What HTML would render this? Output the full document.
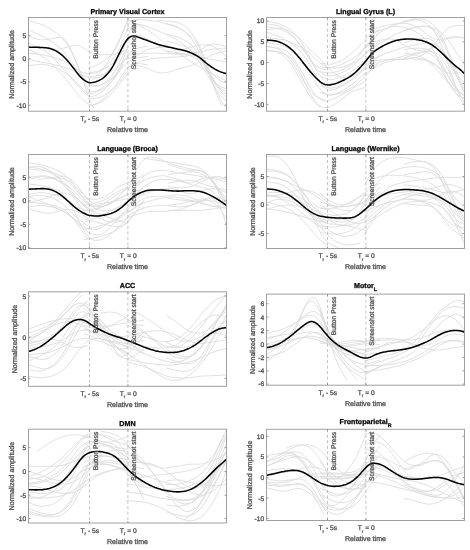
<!DOCTYPE html><html><head><meta charset="utf-8"><style>html,body{margin:0;padding:0;background:#fff;}svg{display:block;filter:blur(0.45px);} text{font-family:"Liberation Sans",sans-serif;text-rendering:geometricPrecision;stroke:#555;stroke-width:0.3px;} text.t{stroke:#111;stroke-width:0.3px;}</style></head><body>
<svg width="470" height="550" viewBox="0 0 470 550">
<rect width="470" height="550" fill="#fff"/>
<clipPath id="c1"><rect x="28.50" y="17.50" width="198.00" height="93.70"/></clipPath>
<g clip-path="url(#c1)">
<path d="M28.0 20.2 L30.0 20.8 L32.0 21.4 L34.0 22.1 L36.0 22.7 L38.0 23.3 L40.0 24.0 L42.0 24.6 L44.0 25.4 L46.0 26.4 L48.0 27.5 L50.0 28.7 L52.0 30.0 L54.0 31.3 L56.0 32.7 L58.0 34.2 L60.0 36.0 L62.0 38.1 L64.0 40.5 L66.0 43.1 L68.0 45.9 L70.0 49.1 L72.0 52.8 L74.0 56.9 L76.0 61.4 L78.0 66.2 L80.0 71.5 L82.0 77.2 L84.0 83.2 L86.0 89.3 L88.0 95.2 L90.0 100.5 L92.0 104.9 L93.8 108.2" fill="none" stroke="#dcdcdc" stroke-width="0.85"/>
<path d="M28.0 36.1 L30.0 36.8 L32.0 37.5 L34.0 38.1 L36.0 38.8 L38.0 39.3 L40.0 39.7 L42.0 39.9 L44.0 39.8 L46.0 39.5 L48.0 39.2 L50.0 38.9 L52.0 38.5 L54.0 38.1 L56.0 37.7 L58.0 37.3 L60.0 37.2 L62.0 37.7 L64.0 38.8 L66.0 40.9 L68.0 43.8 L70.0 47.7 L72.0 52.2 L74.0 57.1 L76.0 62.0 L78.0 66.6 L80.0 71.2 L82.0 75.8 L84.0 80.4 L86.0 85.0 L88.0 89.6 L89.5 93.1" fill="none" stroke="#dcdcdc" stroke-width="0.85"/>
<path d="M28.0 53.2 L30.0 53.3 L32.0 53.5 L34.0 53.7 L36.0 53.8 L38.0 54.1 L40.0 54.3 L42.0 54.7 L44.0 55.1 L46.0 55.6 L48.0 56.0 L50.0 56.6 L52.0 57.1 L54.0 57.7 L56.0 58.3 L58.0 58.9 L60.0 59.6 L62.0 60.3 L64.0 61.1 L66.0 62.1 L68.0 63.3 L70.0 64.7 L72.0 66.2 L74.0 67.7 L76.0 69.1 L78.0 70.3 L80.0 71.3 L82.0 72.2 L84.0 72.9 L86.0 73.5 L88.0 73.8 L90.0 73.7 L92.0 73.5 L94.0 73.1 L96.0 72.6 L98.0 72.0 L100.0 71.1 L102.0 70.1 L104.0 69.0 L106.0 67.9 L108.0 66.7 L110.0 65.4 L112.0 63.8 L114.0 61.7 L116.0 59.2 L118.0 56.3 L120.0 53.2 L122.0 49.8 L124.0 46.1 L126.0 42.2 L128.0 38.3" fill="none" stroke="#dcdcdc" stroke-width="0.85"/>
<path d="M59.9 48.9 L61.9 48.4 L63.9 47.9 L65.9 47.4 L67.9 47.0 L69.9 46.5 L71.9 46.0 L73.9 45.5 L75.9 45.3 L77.9 45.3 L79.9 45.8 L81.9 46.9 L83.9 48.4 L85.9 49.9 L87.9 51.3 L89.9 52.4 L91.9 53.2 L93.9 53.7 L95.9 54.0 L97.9 54.2 L99.9 54.5 L101.9 54.6 L103.9 54.7 L105.9 54.7 L107.9 54.6 L109.9 54.5 L111.9 54.4 L113.9 54.3 L115.9 54.0 L117.9 53.5 L119.9 52.8 L121.9 51.9 L123.9 51.0 L125.9 50.0 L127.9 49.0" fill="none" stroke="#dcdcdc" stroke-width="0.85"/>
<path d="M28.0 59.6 L30.0 59.9 L32.0 60.3 L34.0 60.7 L36.0 61.1 L38.0 61.4 L40.0 61.8 L42.0 62.2 L44.0 62.6 L46.0 63.0 L48.0 63.4 L50.0 63.8 L52.0 64.2 L54.0 64.7 L56.0 65.1 L58.0 65.6 L60.0 66.1 L62.0 66.7 L64.0 67.3 L66.0 68.0 L68.0 68.6 L70.0 69.3 L72.0 70.1 L74.0 71.0 L76.0 71.9 L78.0 72.9 L80.0 73.8 L82.0 74.8 L84.0 75.7 L86.0 76.5 L88.0 77.2 L90.0 77.7 L92.0 78.0 L94.0 78.0 L96.0 77.8 L98.0 77.4 L100.0 76.9 L102.0 76.3 L104.0 75.5 L106.0 74.5 L108.0 73.4 L110.0 72.3 L112.0 71.1 L114.0 69.9 L116.0 68.4 L118.0 66.7 L120.0 64.7 L122.0 62.4 L124.0 60.1 L126.0 57.7 L128.0 55.3" fill="none" stroke="#dcdcdc" stroke-width="0.85"/>
<path d="M28.0 65.9 L30.0 65.7 L32.0 65.4 L34.0 65.1 L36.0 64.8 L38.0 64.5 L40.0 64.3 L42.0 64.3 L44.0 64.4 L46.0 64.8 L48.0 65.3 L50.0 65.8 L52.0 66.4 L54.0 67.0 L56.0 67.7 L58.0 68.6 L60.0 69.7 L62.0 70.9 L64.0 72.2 L66.0 73.6 L68.0 75.0 L70.0 76.5 L72.0 78.2 L74.0 80.1 L76.0 82.0 L78.0 84.0 L80.0 86.0 L82.0 88.0 L84.0 90.0 L86.0 91.8 L88.0 93.2 L90.0 93.9 L92.0 93.7 L94.0 93.0 L96.0 91.9 L98.0 90.7 L100.0 89.3 L102.0 87.8 L104.0 86.3 L106.0 84.6 L108.0 82.9 L110.0 81.2 L112.0 79.2 L114.0 77.0 L116.0 74.5 L118.0 71.8 L120.0 69.0 L122.0 66.3 L123.5 64.2" fill="none" stroke="#dcdcdc" stroke-width="0.85"/>
<path d="M28.0 48.9 L30.0 49.9 L32.0 50.9 L34.0 51.9 L36.0 52.9 L38.0 53.9 L40.0 54.9 L42.0 56.0 L44.0 57.3 L46.0 58.8 L48.0 60.5 L50.0 62.4 L52.0 64.4 L54.0 66.4 L56.0 68.4 L58.0 70.4 L60.0 72.4 L62.0 74.5 L64.0 76.8 L66.0 79.2 L68.0 81.7 L70.0 84.4 L72.0 87.0 L74.0 89.6 L76.0 92.1 L78.0 94.4 L80.0 96.6 L82.0 98.6 L84.0 100.5 L86.0 102.3 L88.0 103.7 L90.0 104.7 L92.0 105.1 L94.0 105.0 L96.0 104.2 L98.0 103.0 L100.0 101.5 L102.0 99.9 L104.0 98.1 L106.0 96.3 L108.0 94.4 L110.0 92.4 L112.0 90.4 L114.0 88.4 L116.0 86.2 L118.0 83.8 L120.0 81.3 L122.0 78.6 L124.0 75.8 L126.0 73.0 L128.0 70.2" fill="none" stroke="#dcdcdc" stroke-width="0.85"/>
<path d="M28.0 42.5 L30.0 43.5 L32.0 44.5 L34.0 45.5 L36.0 46.5 L38.0 47.5 L40.0 48.5 L42.0 49.5 L44.0 50.6 L46.0 51.7 L48.0 52.9 L50.0 54.5 L52.0 56.4 L54.0 58.5 L56.0 60.7 L58.0 63.0 L60.0 65.2 L62.0 67.5 L64.0 69.7 L66.0 72.0 L68.0 74.3 L70.0 76.6 L72.0 79.0 L74.0 81.3 L76.0 83.6 L78.0 85.8 L80.0 88.0 L82.0 90.1 L84.0 92.1 L86.0 93.9 L88.0 95.4 L90.0 96.3 L92.0 96.4 L94.0 96.0 L96.0 95.2 L98.0 94.3 L100.0 93.1 L102.0 91.6 L104.0 89.8 L106.0 87.9 L108.0 85.9 L110.0 83.7 L112.0 81.2 L114.0 78.2 L116.0 74.8 L118.0 70.9 L120.0 66.9 L122.0 62.5 L124.0 57.7 L126.0 52.4 L128.0 46.8" fill="none" stroke="#dcdcdc" stroke-width="0.85"/>
<path d="M91.8 80.8 L93.8 78.8 L95.8 76.8 L97.8 74.8 L99.8 72.8 L101.8 70.6 L103.8 68.1 L105.8 65.2 L107.8 62.0 L109.8 58.4 L111.8 54.8 L113.8 51.0 L115.8 47.2 L117.8 43.1 L119.8 38.7 L121.8 34.1 L123.8 29.4 L125.8 24.5 L127.8 19.6" fill="none" stroke="#dcdcdc" stroke-width="0.85"/>
<path d="M28.0 29.8 L30.0 30.6 L32.0 31.5 L34.0 32.4 L36.0 33.3 L38.0 34.1 L40.0 35.0 L42.0 36.0 L44.0 37.0 L46.0 38.1 L48.0 39.3 L50.0 40.7 L52.0 42.0 L54.0 43.4 L56.0 44.8 L58.0 46.2 L60.0 47.8 L62.0 49.6 L64.0 51.8 L66.0 54.3 L68.0 56.9 L70.0 59.5 L72.0 62.2 L74.0 64.9 L76.0 67.7 L78.0 70.4 L80.0 73.2 L82.0 75.9 L84.0 78.6 L86.0 81.0 L88.0 83.1 L90.0 84.8 L92.0 85.8 L94.0 86.3 L96.0 86.2 L98.0 85.9 L100.0 85.3 L102.0 84.4 L104.0 83.1 L106.0 81.4 L108.0 79.5 L110.0 77.5 L112.0 75.3 L114.0 72.7 L116.0 69.6 L118.0 65.9 L120.0 61.7 L122.0 57.4 L124.0 53.0 L125.8 49.2" fill="none" stroke="#dcdcdc" stroke-width="0.85"/>
<path d="M126.0 21.3 L128.0 20.9 L130.0 20.6 L132.0 20.3 L134.0 19.9 L136.0 19.7 L138.0 19.5 L140.0 19.5 L142.0 19.5 L144.0 19.7 L146.0 19.9 L148.0 20.2 L150.0 20.4 L152.0 20.6 L154.0 20.8 L156.0 21.1 L158.0 21.5 L160.0 22.0 L162.0 22.5 L164.0 23.1 L166.0 23.7 L168.0 24.3 L170.0 24.9 L172.0 25.5 L174.0 26.1 L176.0 26.8 L178.0 27.6 L180.0 28.6 L182.0 29.9 L184.0 31.3 L186.0 32.8 L188.0 34.2 L190.0 35.8 L192.0 37.4 L194.0 39.4 L196.0 42.0 L198.0 45.5 L200.0 49.7 L202.0 54.4 L204.0 59.3 L206.0 64.4 L208.0 69.8 L210.0 75.5 L212.0 81.3 L214.0 87.0 L216.0 92.4 L218.0 97.4 L220.0 102.2 L221.5 105.8" fill="none" stroke="#dcdcdc" stroke-width="0.85"/>
<path d="M126.0 29.8 L128.0 28.8 L130.0 27.8 L132.0 26.8 L134.0 25.8 L136.0 25.0 L138.0 24.5 L140.0 24.4 L142.0 24.8 L144.0 25.4 L146.0 26.1 L148.0 26.8 L150.0 27.6 L152.0 28.4 L154.0 29.1 L156.0 29.9 L158.0 30.8 L160.0 31.6 L162.0 32.5 L164.0 33.4 L166.0 34.3 L168.0 35.2 L170.0 36.1 L172.0 37.0 L174.0 38.1 L176.0 39.2 L178.0 40.5 L180.0 41.9 L182.0 43.3 L184.0 44.8 L186.0 46.3 L188.0 47.9 L190.0 49.9 L192.0 52.2 L194.0 54.8 L196.0 57.6 L198.0 60.4 L200.0 63.3 L202.0 66.4 L204.0 69.5 L206.0 72.7 L208.0 76.0 L210.0 79.3 L212.0 82.9 L214.0 86.7 L216.0 90.6 L218.0 94.4 L220.0 98.2 L222.0 101.7 L224.0 105.1 L226.0 108.5" fill="none" stroke="#dcdcdc" stroke-width="0.85"/>
<path d="M126.0 59.6 L128.0 59.0 L130.0 58.5 L132.0 57.9 L134.0 57.2 L136.0 56.2 L138.0 55.0 L140.0 53.8 L142.0 52.5 L144.0 51.2 L146.0 50.1 L148.0 49.3 L150.0 48.7 L152.0 48.4 L154.0 48.1 L156.0 47.8 L158.0 47.6 L160.0 47.3 L162.0 47.2 L164.0 47.1 L166.0 47.1 L168.0 47.3 L170.0 47.5 L172.0 47.8 L174.0 48.0 L176.0 48.3 L178.0 48.5 L180.0 48.9 L182.0 49.3 L184.0 49.9 L186.0 50.5 L188.0 51.2 L190.0 51.9 L192.0 52.8 L194.0 53.9 L196.0 55.4 L198.0 57.2 L200.0 59.2 L202.0 61.3 L204.0 63.6 L206.0 66.0 L208.0 68.4 L210.0 70.8 L212.0 73.0 L214.0 75.1 L216.0 77.1 L218.0 78.8 L220.0 80.3 L222.0 81.4 L224.0 82.2 L226.0 83.0" fill="none" stroke="#dcdcdc" stroke-width="0.85"/>
<path d="M126.0 68.1 L128.0 67.1 L130.0 66.1 L132.0 65.1 L134.0 64.1 L136.0 63.1 L138.0 62.3 L140.0 61.5 L142.0 60.9 L144.0 60.4 L146.0 59.9 L148.0 59.4 L150.0 59.0 L152.0 58.6 L154.0 58.4 L156.0 58.2 L158.0 58.1 L160.0 58.0 L162.0 57.8 L164.0 57.7 L166.0 57.6 L168.0 57.5 L170.0 57.3 L172.0 57.2 L174.0 57.1 L176.0 57.0 L178.0 56.8 L180.0 56.7 L182.0 56.6 L184.0 56.4 L186.0 56.1 L188.0 55.8 L190.0 55.4 L192.0 55.0 L194.0 54.4 L196.0 53.5 L198.0 52.3 L200.0 50.7 L202.0 49.1 L204.0 47.4 L206.0 46.1 L208.0 45.1 L210.0 44.5 L212.0 44.1 L214.0 44.0 L216.0 44.2 L218.0 44.5 L220.0 45.0 L222.0 45.6 L224.0 46.2 L226.0 46.8" fill="none" stroke="#dcdcdc" stroke-width="0.85"/>
<path d="M132.4 63.8 L134.4 64.4 L136.4 65.0 L138.4 65.5 L140.4 66.1 L142.4 66.7 L144.4 67.3 L146.4 68.0 L148.4 68.8 L150.4 69.7 L152.4 70.6 L154.4 71.5 L156.4 72.3 L158.4 72.8 L160.4 72.9 L162.4 72.9 L164.4 72.7 L166.4 72.4 L168.4 72.1 L170.4 71.6 L172.4 71.0 L174.4 70.4 L176.4 69.7 L178.4 69.1 L180.4 68.4 L182.4 67.9 L184.4 67.3 L186.4 66.8 L188.4 66.3 L190.4 65.7 L192.4 65.1 L194.4 64.3 L196.4 63.3 L198.4 62.2 L200.4 61.0 L202.4 59.8 L204.4 58.7 L206.4 57.7 L208.4 56.7 L210.4 55.7 L212.4 54.7 L214.4 53.9 L216.4 53.2 L218.4 52.6 L220.4 52.2 L222.4 51.8 L224.4 51.4 L225.9 51.1" fill="none" stroke="#dcdcdc" stroke-width="0.85"/>
<path d="M136.6 23.4 L138.6 24.6 L140.6 25.9 L142.6 27.1 L144.6 28.4 L146.6 29.6 L148.6 30.9 L150.6 32.2 L152.6 33.6 L154.6 35.0 L156.6 36.6 L158.6 38.3 L160.6 40.0 L162.6 41.7 L164.6 43.4 L166.6 45.1 L168.6 46.6 L170.6 48.1 L172.6 49.5 L174.6 50.8 L176.6 52.2 L178.6 53.5 L180.6 54.8 L182.6 56.2 L184.6 57.5 L186.6 58.8 L188.6 60.2 L190.6 61.5 L192.6 62.8 L194.6 64.1 L196.6 65.3 L198.6 66.5 L200.6 67.7 L202.6 68.9 L204.6 70.0 L206.6 71.1 L208.6 72.1 L210.6 73.1 L212.6 74.1 L214.6 75.1 L216.6 76.1 L218.6 77.1 L220.6 78.1 L222.6 79.1 L224.6 80.1 L225.9 80.8" fill="none" stroke="#dcdcdc" stroke-width="0.85"/>
<path d="M126.0 38.3 L128.0 37.6 L130.0 36.9 L132.0 36.3 L134.0 35.7 L136.0 35.2 L138.0 35.0 L140.0 35.3 L142.0 36.1 L144.0 37.1 L146.0 38.2 L148.0 39.3 L150.0 40.5 L152.0 41.7 L154.0 42.9 L156.0 44.3 L158.0 45.6 L160.0 47.1 L162.0 48.5 L164.0 49.9 L166.0 51.1 L168.0 52.2 L170.0 52.9 L172.0 53.3 L174.0 53.5 L176.0 53.6 L178.0 53.8 L180.0 53.9 L182.0 54.0 L184.0 54.0 L186.0 54.0 L188.0 53.8 L190.0 53.6 L192.0 53.3 L194.0 53.0 L196.0 52.7 L198.0 52.4 L200.0 52.0 L202.0 51.6 L204.0 51.0 L206.0 50.5 L208.0 49.9 L210.0 49.5 L212.0 49.2 L214.0 49.0 L216.0 48.9 L218.0 48.9 L220.0 48.9 L222.0 48.9 L224.0 48.9 L226.0 48.9" fill="none" stroke="#dcdcdc" stroke-width="0.85"/>
<path d="M157.9 20.2 L159.9 20.4 L161.9 20.6 L163.9 20.8 L165.9 21.0 L167.9 21.2 L169.9 21.4 L171.9 21.6 L173.9 21.8 L175.9 22.1 L177.9 22.6 L179.9 23.3 L181.9 24.4 L183.9 25.7 L185.9 27.2 L187.9 28.9 L189.9 30.9 L191.9 33.5 L193.9 36.4 L195.9 39.6 L197.9 43.1 L199.9 47.0 L201.9 51.5 L203.9 56.4 L205.9 61.6 L207.9 66.7 L209.9 71.5 L211.9 75.8 L213.9 79.8 L215.9 83.2 L217.9 85.9 L219.9 87.9 L221.9 89.3 L223.9 90.4 L225.9 91.4" fill="none" stroke="#dcdcdc" stroke-width="0.85"/>
<path d="M126.0 55.3 L128.0 55.0 L130.0 54.8 L132.0 54.5 L134.0 54.3 L136.0 54.0 L138.0 53.8 L140.0 53.6 L142.0 53.4 L144.0 53.3 L146.0 53.2 L148.0 53.2 L150.0 53.2 L152.0 53.2 L154.0 53.2 L156.0 53.2 L158.0 53.2 L160.0 53.2 L162.0 53.3 L164.0 53.4 L166.0 53.5 L168.0 53.6 L170.0 53.7 L172.0 53.8 L174.0 53.9 L176.0 54.1 L178.0 54.2 L180.0 54.4 L182.0 54.6 L184.0 54.8 L186.0 55.0 L188.0 55.2 L190.0 55.4 L192.0 55.7 L194.0 55.9 L196.0 56.2 L198.0 56.5 L200.0 56.9 L202.0 57.3 L204.0 57.8 L206.0 58.3 L208.0 58.8 L210.0 59.2 L212.0 59.6 L214.0 59.9 L216.0 60.2 L218.0 60.5 L220.0 60.8 L222.0 61.1 L224.0 61.4 L226.0 61.7" fill="none" stroke="#dcdcdc" stroke-width="0.85"/>
<path d="M88.0 68.3 L90.0 67.6 L92.0 66.9 L94.0 66.2 L96.0 65.5 L98.0 64.6 L100.0 63.5 L102.0 62.3 L104.0 61.0 L106.0 59.5 L108.0 57.9 L110.0 55.9 L112.0 53.7 L114.0 51.1 L116.0 47.9 L118.0 44.1 L120.0 39.5 L122.0 34.4 L124.0 29.3 L126.0 24.7 L128.0 20.6 L129.0 18.7" fill="none" stroke="#dcdcdc" stroke-width="0.85"/>
<path d="M88.0 73.4 L90.0 72.9 L92.0 72.4 L94.0 71.9 L96.0 71.4 L98.0 70.8 L100.0 70.1 L102.0 69.1 L104.0 67.8 L106.0 66.3 L108.0 64.6 L110.0 62.7 L112.0 60.6 L114.0 58.0 L116.0 55.0 L118.0 51.6 L120.0 47.6 L122.0 43.0 L124.0 37.8 L126.0 32.3 L128.0 27.0 L130.0 22.1 L130.5 20.9" fill="none" stroke="#dcdcdc" stroke-width="0.85"/>
<path d="M88.0 76.8 L90.0 76.6 L92.0 76.4 L94.0 76.2 L96.0 75.9 L98.0 75.7 L100.0 75.4 L102.0 74.8 L104.0 73.9 L106.0 72.7 L108.0 71.2 L110.0 69.5 L112.0 67.6 L114.0 65.3 L116.0 62.7 L118.0 59.6 L120.0 55.9 L122.0 51.5 L124.0 46.6 L126.0 41.3 L128.0 36.1 L130.0 31.1 L132.0 26.5 L132.2 25.9" fill="none" stroke="#dcdcdc" stroke-width="0.85"/>
<path d="M88.0 85.4 L90.0 85.4 L92.0 85.4 L94.0 85.4 L96.0 85.4 L98.0 85.3 L100.0 85.0 L102.0 84.5 L104.0 83.6 L106.0 82.4 L108.0 81.1 L110.0 79.6 L112.0 77.8 L114.0 75.8 L116.0 73.5 L118.0 71.0 L120.0 68.1 L122.0 64.9 L124.0 61.5 L126.0 58.2 L128.0 55.3 L130.0 53.0 L132.0 51.1 L134.0 49.8 L136.0 48.8 L138.0 48.0 L140.0 47.5 L142.0 47.1 L144.0 46.7 L146.0 46.4 L148.0 46.1" fill="none" stroke="#dcdcdc" stroke-width="0.85"/>
<path d="M88.0 92.2 L90.0 92.0 L92.0 91.7 L94.0 91.5 L96.0 91.2 L98.0 90.9 L100.0 90.3 L102.0 89.5 L104.0 88.3 L106.0 86.8 L108.0 85.1 L110.0 83.3 L112.0 81.2 L114.0 78.8 L116.0 76.2 L118.0 73.5 L120.0 70.8 L122.0 68.2 L124.0 65.8 L126.0 63.6 L128.0 61.9 L130.0 60.6 L132.0 59.7 L134.0 58.9 L136.0 58.3 L138.0 57.8 L140.0 57.5 L142.0 57.2 L144.0 56.9 L146.0 56.6 L148.0 56.3" fill="none" stroke="#dcdcdc" stroke-width="0.85"/>
<path d="M88.0 99.1 L90.0 98.8 L92.0 98.6 L94.0 98.3 L96.0 98.0 L98.0 97.7 L100.0 97.2 L102.0 96.5 L104.0 95.5 L106.0 94.2 L108.0 92.8 L110.0 91.2 L112.0 89.5 L114.0 87.3 L116.0 84.7 L118.0 81.7 L120.0 78.6 L122.0 75.5 L124.0 72.5 L126.0 69.7 L128.0 67.4 L130.0 65.7 L132.0 64.6 L134.0 64.0 L136.0 63.7 L138.0 63.6 L140.0 63.7 L142.0 63.9 L144.0 64.2 L146.0 64.5 L148.0 64.9" fill="none" stroke="#dcdcdc" stroke-width="0.85"/>
<path d="M88.0 105.9 L90.0 105.4 L92.0 104.9 L94.0 104.4 L96.0 103.9 L98.0 103.3 L100.0 102.6 L102.0 101.6 L104.0 100.2 L106.0 98.7 L108.0 97.0 L110.0 95.3 L112.0 93.4 L114.0 91.2 L116.0 88.9 L118.0 86.4 L120.0 83.7 L122.0 81.1 L124.0 78.5 L126.0 76.0 L128.0 73.7 L130.0 71.8 L132.0 70.4 L134.0 69.6 L136.0 69.0 L138.0 68.5 L139.2 68.3" fill="none" stroke="#dcdcdc" stroke-width="0.85"/>
<path d="M166.0 23.8 L168.0 24.2 L170.0 24.5 L172.0 24.9 L174.0 25.4 L176.0 26.0 L178.0 27.0 L180.0 28.1 L182.0 29.4 L184.0 30.9 L186.0 32.7 L188.0 34.8 L190.0 37.2 L192.0 39.8 L194.0 42.6 L196.0 45.8 L198.0 49.5 L200.0 53.6 L202.0 58.0 L204.0 62.7 L206.0 67.5 L208.0 72.3 L210.0 76.9 L212.0 81.3 L214.0 85.4 L216.0 89.0 L218.0 92.0 L220.0 94.6 L222.0 96.8 L224.0 98.8 L226.0 100.8" fill="none" stroke="#dcdcdc" stroke-width="0.85"/>
<path d="M166.0 34.1 L168.0 34.6 L170.0 35.1 L172.0 35.6 L174.0 36.1 L176.0 36.6 L178.0 37.3 L180.0 38.0 L182.0 39.0 L184.0 40.0 L186.0 41.2 L188.0 42.4 L190.0 43.9 L192.0 45.7 L194.0 48.0 L196.0 50.6 L198.0 53.5 L200.0 56.7 L202.0 60.2 L204.0 64.0 L206.0 67.8 L208.0 71.5 L210.0 75.1 L212.0 78.4 L214.0 81.6 L216.0 84.4 L218.0 86.9 L220.0 89.1 L222.0 90.9 L224.0 92.5 L226.0 93.9" fill="none" stroke="#dcdcdc" stroke-width="0.85"/>
<path d="M166.0 40.9 L168.0 41.4 L170.0 41.9 L172.0 42.4 L174.0 42.9 L176.0 43.5 L178.0 44.0 L180.0 44.7 L182.0 45.4 L184.0 46.2 L186.0 47.1 L188.0 48.0 L190.0 49.1 L192.0 50.4 L194.0 52.1 L196.0 53.9 L198.0 56.0 L200.0 58.3 L202.0 61.1 L204.0 64.3 L206.0 68.0 L208.0 71.7 L210.0 75.4 L212.0 79.0 L214.0 82.3 L216.0 85.4 L218.0 88.2 L220.0 90.8 L222.0 93.1 L224.0 95.3 L226.0 97.3" fill="none" stroke="#dcdcdc" stroke-width="0.85"/>
<path d="M166.0 51.2 L168.0 51.4 L170.0 51.7 L172.0 51.9 L174.0 52.2 L176.0 52.5 L178.0 52.8 L180.0 53.1 L182.0 53.5 L184.0 54.0 L186.0 54.5 L188.0 55.0 L190.0 55.6 L192.0 56.4 L194.0 57.4 L196.0 58.7 L198.0 60.3 L200.0 62.0 L202.0 64.0 L204.0 66.5 L206.0 69.3 L208.0 72.5 L210.0 75.6 L212.0 78.4 L214.0 81.0 L216.0 83.2 L218.0 84.9 L220.0 86.2 L222.0 87.2 L224.0 88.0 L226.0 88.8" fill="none" stroke="#dcdcdc" stroke-width="0.85"/>
<path d="M183.1 49.5 L185.1 48.9 L187.1 48.3 L189.1 47.8 L191.1 47.2 L193.1 46.7 L195.1 46.2 L197.1 45.8 L199.1 45.4 L201.1 45.1 L203.1 44.9 L205.1 44.8 L207.1 44.9 L209.1 45.2 L211.1 45.7 L213.1 46.4 L215.1 47.4 L217.1 48.6 L219.1 50.1 L221.1 51.8 L223.1 53.6 L225.1 55.5 L225.8 56.2" fill="none" stroke="#dcdcdc" stroke-width="0.85"/>
<line x1="89.50" y1="17.50" x2="89.50" y2="111.20" stroke="#bdbdbd" stroke-width="0.9" stroke-dasharray="3 2.5"/>
<line x1="127.90" y1="17.50" x2="127.90" y2="111.20" stroke="#bdbdbd" stroke-width="0.9" stroke-dasharray="3 2.5"/>
<path d="M28.00 47.10 L29.00 47.12 L30.00 47.15 L31.00 47.17 L32.00 47.19 L33.00 47.22 L34.00 47.24 L35.00 47.26 L36.00 47.29 L37.00 47.31 L38.00 47.34 L39.00 47.36 L40.00 47.40 L41.00 47.45 L42.00 47.51 L43.00 47.58 L44.00 47.65 L45.00 47.73 L46.00 47.82 L47.00 47.93 L48.00 48.08 L49.00 48.29 L50.00 48.56 L51.00 48.86 L52.00 49.19 L53.00 49.54 L54.00 49.94 L55.00 50.40 L56.00 50.93 L57.00 51.53 L58.00 52.16 L59.00 52.81 L60.00 53.50 L61.00 54.26 L62.00 55.10 L63.00 56.01 L64.00 56.97 L65.00 57.95 L66.00 58.97 L67.00 60.03 L68.00 61.16 L69.00 62.37 L70.00 63.63 L71.00 64.91 L72.00 66.21 L73.00 67.50 L74.00 68.80 L75.00 70.10 L76.00 71.39 L77.00 72.69 L78.00 73.97 L79.00 75.20 L80.00 76.36 L81.00 77.41 L82.00 78.35 L83.00 79.21 L84.00 79.99 L85.00 80.70 L86.00 81.29 L87.00 81.78 L88.00 82.17 L89.00 82.46 L90.00 82.62 L91.00 82.65 L92.00 82.56 L93.00 82.40 L94.00 82.19 L95.00 81.96 L96.00 81.68 L97.00 81.33 L98.00 80.91 L99.00 80.44 L100.00 79.94 L101.00 79.40 L102.00 78.81 L103.00 78.10 L104.00 77.28 L105.00 76.36 L106.00 75.36 L107.00 74.30 L108.00 73.16 L109.00 71.93 L110.00 70.61 L111.00 69.22 L112.00 67.72 L113.00 66.06 L114.00 64.21 L115.00 62.19 L116.00 60.11 L117.00 58.02 L118.00 55.98 L119.00 53.97 L120.00 51.98 L121.00 49.99 L122.00 48.02 L123.00 46.09 L124.00 44.25 L125.00 42.57 L126.00 41.07 L127.00 39.75 L128.00 38.62 L129.00 37.72 L130.00 37.03 L131.00 36.53 L132.00 36.21 L133.00 36.08 L134.00 36.11 L135.00 36.26 L136.00 36.50 L137.00 36.79 L138.00 37.12 L139.00 37.48 L140.00 37.85 L141.00 38.21 L142.00 38.57 L143.00 38.92 L144.00 39.27 L145.00 39.62 L146.00 39.98 L147.00 40.35 L148.00 40.73 L149.00 41.12 L150.00 41.51 L151.00 41.89 L152.00 42.27 L153.00 42.64 L154.00 43.00 L155.00 43.35 L156.00 43.70 L157.00 44.04 L158.00 44.37 L159.00 44.69 L160.00 44.99 L161.00 45.28 L162.00 45.55 L163.00 45.82 L164.00 46.08 L165.00 46.33 L166.00 46.56 L167.00 46.77 L168.00 46.97 L169.00 47.16 L170.00 47.35 L171.00 47.55 L172.00 47.76 L173.00 47.99 L174.00 48.23 L175.00 48.48 L176.00 48.72 L177.00 48.96 L178.00 49.19 L179.00 49.41 L180.00 49.61 L181.00 49.81 L182.00 50.00 L183.00 50.20 L184.00 50.43 L185.00 50.69 L186.00 51.00 L187.00 51.34 L188.00 51.69 L189.00 52.06 L190.00 52.44 L191.00 52.85 L192.00 53.30 L193.00 53.78 L194.00 54.29 L195.00 54.80 L196.00 55.34 L197.00 55.89 L198.00 56.47 L199.00 57.11 L200.00 57.80 L201.00 58.58 L202.00 59.42 L203.00 60.30 L204.00 61.19 L205.00 62.07 L206.00 62.93 L207.00 63.74 L208.00 64.50 L209.00 65.22 L210.00 65.92 L211.00 66.60 L212.00 67.28 L213.00 67.94 L214.00 68.57 L215.00 69.16 L216.00 69.70 L217.00 70.20 L218.00 70.69 L219.00 71.16 L220.00 71.60 L221.00 71.99 L222.00 72.33 L223.00 72.62 L224.00 72.89 L225.00 73.14 L226.00 73.40" fill="none" stroke="#000" stroke-width="1.55" stroke-linejoin="round" stroke-linecap="round"/>
</g>
<rect x="28.50" y="17.50" width="198.00" height="93.70" fill="none" stroke="#a0a0a0" stroke-width="1.00"/>
<line x1="28.50" y1="35.60" x2="30.50" y2="35.60" stroke="#888" stroke-width="0.8"/>
<line x1="224.50" y1="35.60" x2="226.50" y2="35.60" stroke="#888" stroke-width="0.8"/>
<text x="26.20" y="38.00" font-size="6.70" fill="#444" text-anchor="end">5</text>
<line x1="28.50" y1="58.80" x2="30.50" y2="58.80" stroke="#888" stroke-width="0.8"/>
<line x1="224.50" y1="58.80" x2="226.50" y2="58.80" stroke="#888" stroke-width="0.8"/>
<text x="26.20" y="61.20" font-size="6.70" fill="#444" text-anchor="end">0</text>
<line x1="28.50" y1="82.00" x2="30.50" y2="82.00" stroke="#888" stroke-width="0.8"/>
<line x1="224.50" y1="82.00" x2="226.50" y2="82.00" stroke="#888" stroke-width="0.8"/>
<text x="26.20" y="84.40" font-size="6.70" fill="#444" text-anchor="end">-5</text>
<line x1="28.50" y1="105.20" x2="30.50" y2="105.20" stroke="#888" stroke-width="0.8"/>
<line x1="224.50" y1="105.20" x2="226.50" y2="105.20" stroke="#888" stroke-width="0.8"/>
<text x="26.20" y="107.60" font-size="6.70" fill="#444" text-anchor="end">-10</text>
<line x1="89.50" y1="109.20" x2="89.50" y2="111.20" stroke="#888" stroke-width="0.8"/>
<line x1="89.50" y1="17.50" x2="89.50" y2="19.50" stroke="#888" stroke-width="0.8"/>
<line x1="127.90" y1="109.20" x2="127.90" y2="111.20" stroke="#888" stroke-width="0.8"/>
<line x1="127.90" y1="17.50" x2="127.90" y2="19.50" stroke="#888" stroke-width="0.8"/>
<text x="89.80" y="120.90" font-size="6.70" fill="#444" text-anchor="middle">T<tspan font-size="4.4" dy="2.3">r</tspan><tspan dy="-2.3"> - 5s</tspan></text>
<text x="128.20" y="120.90" font-size="6.70" fill="#444" text-anchor="middle">T<tspan font-size="4.4" dy="2.3">r</tspan><tspan dy="-2.3"> = 0</tspan></text>
<text x="127.50" y="132.10" font-size="7.10" fill="#444" text-anchor="middle">Relative time</text>
<text transform="translate(13.50 64.35) rotate(-90)" font-size="7.10" fill="#444" text-anchor="middle">Normalized amplitude</text>
<text transform="translate(97.80 20.00) rotate(-90)" font-size="6.75" fill="#444" text-anchor="end">Button Press</text>
<text transform="translate(136.20 20.00) rotate(-90)" font-size="6.75" fill="#444" text-anchor="end">Screenshot start</text>
<text x="127.50" y="14.00" font-size="7.15" font-weight="bold" class="t" fill="#000" text-anchor="middle">Primary Visual Cortex</text>
<clipPath id="c2"><rect x="266.50" y="17.50" width="198.00" height="93.70"/></clipPath>
<g clip-path="url(#c2)">
<path d="M266.0 21.3 L268.0 21.6 L270.0 21.9 L272.0 22.3 L274.0 22.6 L276.0 23.0 L278.0 23.5 L280.0 24.2 L282.0 25.1 L284.0 26.0 L286.0 27.0 L288.0 28.1 L290.0 29.4 L292.0 31.0 L294.0 33.0 L296.0 35.2 L298.0 37.6 L300.0 40.3 L302.0 43.2 L304.0 46.6 L306.0 50.3 L308.0 54.1 L310.0 57.8 L312.0 61.2 L314.0 64.4 L316.0 67.3 L318.0 69.8 L320.0 71.9 L322.0 73.4 L324.0 74.5 L326.0 75.3 L328.0 75.8 L330.0 75.8 L332.0 75.6 L334.0 75.3 L336.0 74.8 L338.0 74.2 L340.0 73.5 L342.0 72.6 L344.0 71.6 L346.0 70.6 L348.0 69.5 L350.0 68.3 L352.0 66.8 L354.0 65.0 L356.0 63.1 L358.0 61.2 L360.0 59.2 L362.0 57.2 L364.0 55.2 L366.0 53.2" fill="none" stroke="#dcdcdc" stroke-width="0.85"/>
<path d="M266.0 26.6 L268.0 26.9 L270.0 27.3 L272.0 27.7 L274.0 28.1 L276.0 28.5 L278.0 28.9 L280.0 29.3 L282.0 29.9 L284.0 30.8 L286.0 31.9 L288.0 33.1 L290.0 34.4 L292.0 35.9 L294.0 37.5 L296.0 39.4 L298.0 41.7 L300.0 44.3 L302.0 47.0 L304.0 49.9 L306.0 52.9 L308.0 56.1 L310.0 59.5 L312.0 62.9 L314.0 66.2 L316.0 69.5 L318.0 72.6 L320.0 75.5 L322.0 78.1 L324.0 80.4 L326.0 82.1 L328.0 83.3 L330.0 83.8 L332.0 83.8 L334.0 83.3 L336.0 82.6 L338.0 81.8 L340.0 80.8 L342.0 79.9 L344.0 78.8 L346.0 77.7 L348.0 76.5 L350.0 75.4 L352.0 74.1 L354.0 72.7 L356.0 71.0 L358.0 69.0 L360.0 66.7 L362.0 64.3 L364.0 62.0 L366.0 59.6" fill="none" stroke="#dcdcdc" stroke-width="0.85"/>
<path d="M266.0 31.9 L268.0 32.6 L270.0 33.2 L272.0 33.9 L274.0 34.6 L276.0 35.3 L278.0 36.1 L280.0 37.0 L282.0 38.0 L284.0 39.2 L286.0 40.3 L288.0 41.4 L290.0 42.6 L292.0 43.9 L294.0 45.4 L296.0 47.2 L298.0 49.1 L300.0 51.1 L302.0 53.3 L304.0 55.8 L306.0 58.7 L308.0 61.9 L310.0 65.3 L312.0 68.8 L314.0 72.3 L316.0 75.7 L318.0 79.1 L320.0 82.3 L322.0 85.1 L324.0 87.3 L326.0 89.0 L328.0 90.0 L330.0 90.2 L332.0 89.9 L334.0 89.3 L336.0 88.7 L338.0 87.9 L340.0 87.0 L342.0 86.0 L344.0 84.8 L346.0 83.5 L348.0 82.2 L350.0 80.8 L352.0 79.4 L354.0 77.9 L356.0 76.3 L358.0 74.7 L360.0 73.1 L362.0 71.4 L364.0 69.7 L366.0 68.1" fill="none" stroke="#dcdcdc" stroke-width="0.85"/>
<path d="M266.0 42.5 L268.0 42.8 L270.0 43.1 L272.0 43.4 L274.0 43.7 L276.0 44.0 L278.0 44.3 L280.0 44.8 L282.0 45.5 L284.0 46.3 L286.0 47.2 L288.0 48.2 L290.0 49.3 L292.0 50.6 L294.0 52.2 L296.0 54.1 L298.0 56.3 L300.0 58.7 L302.0 61.3 L304.0 64.0 L306.0 67.1 L308.0 70.4 L310.0 73.7 L312.0 77.1 L314.0 80.3 L316.0 83.4 L318.0 86.3 L320.0 88.9 L322.0 91.2 L324.0 92.9 L326.0 94.1 L328.0 94.7 L330.0 94.9 L332.0 94.8 L334.0 94.4 L336.0 93.9 L338.0 93.2 L340.0 92.2 L342.0 91.1 L344.0 89.8 L346.0 88.5 L348.0 87.1 L350.0 85.7 L352.0 84.2 L354.0 82.6 L356.0 80.9 L358.0 79.2 L360.0 77.5 L362.0 75.7 L364.0 74.0 L366.0 72.3" fill="none" stroke="#dcdcdc" stroke-width="0.85"/>
<path d="M266.0 46.8 L268.0 47.0 L270.0 47.1 L272.0 47.3 L274.0 47.5 L276.0 47.7 L278.0 48.1 L280.0 48.6 L282.0 49.2 L284.0 50.0 L286.0 51.0 L288.0 52.2 L290.0 54.0 L292.0 56.4 L294.0 59.1 L296.0 62.1 L298.0 65.2 L300.0 68.6 L302.0 72.2 L304.0 76.0 L306.0 79.8 L308.0 83.5 L310.0 86.9 L312.0 90.1 L314.0 93.0 L316.0 95.5 L318.0 97.5 L320.0 99.0 L322.0 100.1 L324.0 100.8 L326.0 101.0 L328.0 100.8 L330.0 100.2 L332.0 99.5 L334.0 98.7 L336.0 97.7 L338.0 96.7 L340.0 95.7 L342.0 94.5 L344.0 93.4 L346.0 92.3 L348.0 91.1 L350.0 90.0 L352.0 88.8 L354.0 87.7 L356.0 86.5 L358.0 85.4 L360.0 84.3 L362.0 83.1 L364.0 82.0 L366.0 80.8" fill="none" stroke="#dcdcdc" stroke-width="0.85"/>
<path d="M266.0 50.0 L268.0 50.3 L270.0 50.6 L272.0 50.8 L274.0 51.1 L276.0 51.4 L278.0 51.8 L280.0 52.3 L282.0 53.1 L284.0 54.0 L286.0 55.1 L288.0 56.3 L290.0 57.6 L292.0 59.4 L294.0 61.7 L296.0 64.8 L298.0 68.4 L300.0 72.4 L302.0 76.5 L304.0 80.8 L306.0 85.2 L308.0 89.4 L310.0 93.3 L312.0 96.7 L314.0 99.6 L316.0 102.1 L318.0 104.2 L320.0 105.7 L322.0 106.8 L324.0 107.4 L326.0 107.6 L328.0 107.4 L330.0 106.8 L332.0 105.8 L334.0 104.7 L336.0 103.4 L338.0 102.1 L340.0 100.6 L342.0 99.0 L344.0 97.4 L346.0 95.8 L348.0 94.2 L350.0 92.8 L352.0 91.7 L354.0 90.8 L356.0 90.1 L358.0 89.5 L360.0 88.9 L362.0 88.4 L364.0 87.8 L366.0 87.2" fill="none" stroke="#dcdcdc" stroke-width="0.85"/>
<path d="M266.0 37.2 L268.0 37.5 L270.0 37.8 L272.0 38.1 L274.0 38.4 L276.0 38.7 L278.0 39.0 L280.0 39.3 L282.0 39.6 L284.0 40.0 L286.0 40.4 L288.0 41.1 L290.0 41.9 L292.0 42.8 L294.0 43.8 L296.0 44.8 L298.0 45.8 L300.0 46.8 L302.0 47.8 L304.0 48.8 L306.0 50.0 L308.0 51.5 L310.0 53.3 L312.0 55.5 L314.0 57.7 L316.0 59.9 L318.0 61.7 L320.0 63.3 L322.0 64.6 L324.0 65.7 L326.0 66.7 L328.0 67.4 L330.0 67.8 L332.0 68.0 L334.0 68.0 L336.0 68.0 L338.0 67.9 L340.0 67.6 L342.0 67.2 L344.0 66.5 L346.0 65.7 L348.0 64.8 L350.0 63.9 L352.0 62.9 L354.0 61.5 L356.0 59.6 L358.0 57.1 L360.0 54.2 L362.0 51.0 L364.0 47.9 L366.0 44.7" fill="none" stroke="#dcdcdc" stroke-width="0.85"/>
<path d="M266.0 29.8 L268.0 29.5 L270.0 29.3 L272.0 29.0 L274.0 28.8 L276.0 28.5 L278.0 28.3 L280.0 28.2 L282.0 28.3 L284.0 28.7 L286.0 29.5 L288.0 30.5 L290.0 31.6 L292.0 32.8 L294.0 34.0 L296.0 35.4 L298.0 37.0 L300.0 38.9 L302.0 41.1 L304.0 43.4 L306.0 45.7 L308.0 47.9 L310.0 49.8 L312.0 51.6 L314.0 53.3 L316.0 55.0 L318.0 56.8 L320.0 58.8 L322.0 61.0 L324.0 63.4 L326.0 65.7 L328.0 67.8 L330.0 69.7 L332.0 71.4 L334.0 73.0 L336.0 74.5 L338.0 75.7 L340.0 76.6 L342.0 77.2 L344.0 77.6 L346.0 77.9 L348.0 77.9 L350.0 77.5 L352.0 76.7 L354.0 75.6 L356.0 74.4 L358.0 73.1 L360.0 71.5 L362.0 69.8 L364.0 67.9 L366.0 65.9" fill="none" stroke="#dcdcdc" stroke-width="0.85"/>
<path d="M364.0 48.9 L366.0 46.6 L368.0 44.2 L370.0 41.9 L372.0 39.6 L374.0 37.4 L376.0 35.4 L378.0 33.7 L380.0 32.3 L382.0 31.1 L384.0 29.9 L386.0 28.8 L388.0 27.6 L390.0 26.6 L392.0 25.7 L394.0 24.9 L396.0 24.3 L398.0 23.7 L400.0 23.1 L402.0 22.6 L404.0 22.0 L406.0 21.4 L408.0 20.7 L410.0 20.1 L412.0 19.4 L414.0 18.8 L416.0 18.1 L418.0 17.4 L419.2 17.0" fill="none" stroke="#dcdcdc" stroke-width="0.85"/>
<path d="M364.0 55.3 L366.0 53.8 L368.0 52.3 L370.0 50.8 L372.0 49.3 L374.0 47.8 L376.0 46.3 L378.0 44.8 L380.0 43.4 L382.0 42.1 L384.0 40.9 L386.0 39.7 L388.0 38.5 L390.0 37.4 L392.0 36.3 L394.0 35.2 L396.0 34.2 L398.0 33.3 L400.0 32.5 L402.0 31.7 L404.0 31.0 L406.0 30.2 L408.0 29.5 L410.0 28.8 L412.0 28.2 L414.0 27.6 L416.0 27.2 L418.0 26.8 L420.0 26.5 L422.0 26.2 L424.0 26.1 L426.0 26.1 L428.0 26.5 L430.0 27.0 L432.0 27.6 L434.0 28.3 L436.0 29.2 L438.0 30.3 L440.0 31.7 L442.0 33.4 L444.0 35.4 L446.0 37.5 L448.0 39.8 L450.0 42.6 L452.0 45.7 L454.0 48.9 L456.0 52.2 L458.0 55.4 L460.0 58.3 L462.0 61.1 L464.0 63.8" fill="none" stroke="#dcdcdc" stroke-width="0.85"/>
<path d="M364.0 65.9 L366.0 64.7 L368.0 63.4 L370.0 62.2 L372.0 60.9 L374.0 59.7 L376.0 58.5 L378.0 57.2 L380.0 56.1 L382.0 55.1 L384.0 54.2 L386.0 53.4 L388.0 52.7 L390.0 51.9 L392.0 51.2 L394.0 50.4 L396.0 49.7 L398.0 49.1 L400.0 48.5 L402.0 47.9 L404.0 47.4 L406.0 46.9 L408.0 46.4 L410.0 45.9 L412.0 45.5 L414.0 45.0 L416.0 44.6 L418.0 44.3 L420.0 44.0 L422.0 43.7 L424.0 43.4 L426.0 43.2 L428.0 43.1 L430.0 43.2 L432.0 43.6 L434.0 44.2 L436.0 45.1 L438.0 46.1 L440.0 47.6 L442.0 49.6 L444.0 52.1 L446.0 55.1 L448.0 58.4 L450.0 62.2 L452.0 66.3 L454.0 70.6 L456.0 74.9 L458.0 79.2 L460.0 83.4 L462.0 87.4 L464.0 91.5" fill="none" stroke="#dcdcdc" stroke-width="0.85"/>
<path d="M364.0 70.2 L366.0 69.2 L368.0 68.2 L370.0 67.2 L372.0 66.2 L374.0 65.2 L376.0 64.2 L378.0 63.3 L380.0 62.4 L382.0 61.6 L384.0 61.0 L386.0 60.5 L388.0 59.9 L390.0 59.4 L392.0 58.9 L394.0 58.4 L396.0 57.9 L398.0 57.4 L400.0 56.9 L402.0 56.4 L404.0 55.9 L406.0 55.4 L408.0 54.9 L410.0 54.4 L412.0 54.0 L414.0 53.5 L416.0 53.1 L418.0 52.7 L420.0 52.4 L422.0 52.0 L424.0 51.7 L426.0 51.5 L428.0 51.5 L430.0 51.6 L432.0 51.9 L434.0 52.4 L436.0 53.1 L438.0 54.3 L440.0 56.2 L442.0 58.8 L444.0 61.8 L446.0 65.2 L448.0 69.2 L450.0 73.7 L452.0 78.4 L454.0 83.1 L456.0 87.4 L458.0 91.4 L460.0 95.0 L462.0 98.6 L464.0 102.1" fill="none" stroke="#dcdcdc" stroke-width="0.85"/>
<path d="M364.0 61.7 L366.0 61.5 L368.0 61.3 L370.0 61.1 L372.0 60.9 L374.0 60.7 L376.0 60.5 L378.0 60.3 L380.0 60.1 L382.0 59.9 L384.0 59.7 L386.0 59.6 L388.0 59.6 L390.0 59.6 L392.0 59.6 L394.0 59.6 L396.0 59.6 L398.0 59.6 L400.0 59.5 L402.0 59.5 L404.0 59.5 L406.0 59.3 L408.0 59.0 L410.0 58.6 L412.0 58.2 L414.0 57.7 L416.0 57.2 L418.0 56.7 L420.0 56.1 L422.0 55.3 L424.0 54.1 L426.0 52.6 L428.0 50.8 L430.0 48.9 L432.0 46.8 L434.0 44.7 L436.0 42.4 L438.0 39.8 L440.0 37.0 L442.0 34.3 L444.0 31.9 L446.0 29.9 L448.0 28.4 L450.0 27.3 L452.0 26.5 L454.0 26.0 L456.0 25.7 L458.0 25.6 L460.0 25.5 L462.0 25.5 L464.0 25.5" fill="none" stroke="#dcdcdc" stroke-width="0.85"/>
<path d="M402.3 21.3 L404.3 21.0 L406.3 20.7 L408.3 20.4 L410.3 20.1 L412.3 19.9 L414.3 19.7 L416.3 19.7 L418.3 20.0 L420.3 20.5 L422.3 21.2 L424.3 22.1 L426.3 23.3 L428.3 24.8 L430.3 26.8 L432.3 29.2 L434.3 31.9 L436.3 35.1 L438.3 38.9 L440.3 43.1 L442.3 47.8 L444.3 52.9 L446.3 58.6 L448.3 64.7 L450.3 70.8 L452.3 76.7 L454.3 82.2 L456.3 87.0 L458.3 91.2 L460.3 94.6 L462.3 97.6 L463.8 99.7" fill="none" stroke="#dcdcdc" stroke-width="0.85"/>
<path d="M364.0 38.3 L366.0 37.3 L368.0 36.3 L370.0 35.3 L372.0 34.3 L374.0 33.3 L376.0 32.3 L378.0 31.3 L380.0 30.4 L382.0 29.7 L384.0 29.0 L386.0 28.4 L388.0 27.8 L390.0 27.2 L392.0 26.7 L394.0 26.3 L396.0 26.2 L398.0 26.3 L400.0 26.6 L402.0 27.0 L404.0 27.5 L406.0 28.0 L408.0 28.6 L410.0 29.1 L412.0 29.9 L414.0 30.8 L416.0 31.9 L418.0 33.2 L420.0 34.5 L422.0 35.9 L424.0 37.6 L426.0 39.6 L428.0 42.1 L430.0 44.9 L432.0 48.0 L434.0 51.5 L436.0 55.4 L438.0 59.7 L440.0 64.1 L442.0 68.6 L444.0 73.2 L446.0 77.6 L448.0 81.7 L450.0 85.3 L452.0 88.4 L454.0 91.0 L456.0 93.2 L458.0 94.9 L460.0 96.2 L462.0 97.1 L464.0 97.9" fill="none" stroke="#dcdcdc" stroke-width="0.85"/>
<path d="M364.0 44.7 L366.0 44.1 L368.0 43.5 L370.0 42.9 L372.0 42.4 L374.0 41.8 L376.0 41.3 L378.0 40.8 L380.0 40.3 L382.0 40.0 L384.0 39.7 L386.0 39.4 L388.0 39.1 L390.0 38.9 L392.0 38.9 L394.0 39.3 L396.0 40.1 L398.0 41.2 L400.0 42.4 L402.0 43.7 L404.0 45.0 L406.0 46.1 L408.0 47.1 L410.0 47.9 L412.0 48.6 L414.0 49.2 L416.0 49.8 L418.0 50.3 L420.0 50.5 L422.0 50.4 L424.0 50.2 L426.0 49.9 L428.0 49.5 L430.0 49.0 L432.0 48.2 L434.0 47.0 L436.0 45.6 L438.0 44.0 L440.0 42.4 L442.0 40.8 L444.0 39.5 L446.0 38.5 L448.0 37.8 L450.0 37.3 L452.0 36.9 L454.0 36.7 L456.0 36.7 L458.0 36.9 L460.0 37.3 L462.0 37.8 L464.0 38.3" fill="none" stroke="#dcdcdc" stroke-width="0.85"/>
<path d="M368.3 29.8 L370.3 29.3 L372.3 28.8 L374.3 28.3 L376.3 27.8 L378.3 27.3 L380.3 26.8 L382.3 26.3 L384.3 25.8 L386.3 25.4 L388.3 25.0 L390.3 24.7 L392.3 24.4 L394.3 24.0 L396.3 23.8 L398.3 23.6 L400.3 23.5 L402.3 23.4 L404.3 23.4 L406.3 23.5 L408.3 23.8 L410.3 24.2 L412.3 24.9 L414.3 25.7 L416.3 26.6 L418.3 27.7 L420.3 29.0 L422.3 30.7 L424.3 32.5 L426.3 34.2 L428.3 35.7 L430.3 36.9 L432.3 37.9 L434.3 38.6 L436.3 39.3 L438.3 39.7 L440.3 39.7 L442.3 39.6 L444.3 39.2 L446.3 38.9 L448.3 38.6 L450.3 38.3 L452.3 38.1 L454.3 37.9 L456.3 37.8 L458.3 37.6 L460.3 37.5 L462.3 37.3 L463.8 37.2" fill="none" stroke="#dcdcdc" stroke-width="0.85"/>
<path d="M364.0 74.4 L366.0 73.2 L368.0 71.9 L370.0 70.7 L372.0 69.4 L374.0 68.2 L376.0 67.0 L378.0 65.8 L380.0 64.7 L382.0 63.8 L384.0 63.0 L386.0 62.4 L388.0 61.8 L390.0 61.2 L392.0 60.7 L394.0 60.2 L396.0 59.7 L398.0 59.4 L400.0 59.1 L402.0 58.8 L404.0 58.5 L406.0 58.3 L408.0 58.1 L410.0 57.9 L412.0 57.8 L414.0 57.8 L416.0 58.0 L418.0 58.3 L420.0 58.6 L422.0 59.0 L424.0 59.4 L426.0 59.9 L428.0 60.6 L430.0 61.3 L432.0 62.2 L434.0 63.3 L436.0 64.8 L438.0 66.9 L440.0 69.5 L442.0 72.3 L444.0 75.3 L446.0 78.3 L448.0 81.3 L450.0 84.3 L452.0 87.2 L454.0 90.1 L456.0 93.0 L458.0 95.8 L460.0 98.6 L462.0 101.4 L464.0 104.2" fill="none" stroke="#dcdcdc" stroke-width="0.85"/>
<path d="M404.0 22.1 L406.0 21.6 L408.0 21.1 L410.0 20.6 L412.0 20.2 L414.0 19.8 L416.0 19.5 L418.0 19.3 L420.0 19.1 L422.0 19.1 L424.0 19.4 L426.0 20.0 L428.0 21.0 L430.0 22.2 L432.0 23.8 L434.0 25.8 L436.0 28.2 L438.0 30.9 L440.0 34.0 L442.0 37.6 L444.0 41.5 L446.0 45.9 L448.0 50.5 L450.0 55.2 L452.0 60.2 L454.0 65.2 L456.0 70.3 L458.0 75.3 L460.0 80.1 L462.0 84.6 L464.0 88.8" fill="none" stroke="#dcdcdc" stroke-width="0.85"/>
<path d="M404.0 30.7 L406.0 30.0 L408.0 29.3 L410.0 28.7 L412.0 28.1 L414.0 27.5 L416.0 27.1 L418.0 26.8 L420.0 26.5 L422.0 26.2 L424.0 26.1 L426.0 26.3 L428.0 26.8 L430.0 27.6 L432.0 28.6 L434.0 29.9 L436.0 31.7 L438.0 34.1 L440.0 37.2 L442.0 40.7 L444.0 44.6 L446.0 48.9 L448.0 53.4 L450.0 58.2 L452.0 63.2 L454.0 68.3 L456.0 73.6 L458.0 78.7 L460.0 83.5 L462.0 88.0 L464.0 92.2" fill="none" stroke="#dcdcdc" stroke-width="0.85"/>
<path d="M404.0 42.6 L406.0 42.1 L408.0 41.5 L410.0 40.9 L412.0 40.4 L414.0 39.8 L416.0 39.4 L418.0 39.0 L420.0 38.7 L422.0 38.4 L424.0 38.2 L426.0 38.1 L428.0 38.4 L430.0 39.1 L432.0 40.1 L434.0 41.5 L436.0 43.3 L438.0 45.7 L440.0 48.5 L442.0 51.6 L444.0 54.8 L446.0 58.1 L448.0 61.5 L450.0 64.9 L452.0 68.2 L454.0 71.3 L456.0 74.2 L458.0 76.7 L460.0 78.8 L462.0 80.5 L464.0 82.0" fill="none" stroke="#dcdcdc" stroke-width="0.85"/>
<path d="M404.0 49.5 L406.0 49.2 L408.0 49.0 L410.0 48.7 L412.0 48.5 L414.0 48.3 L416.0 48.1 L418.0 48.1 L420.0 48.2 L422.0 48.4 L424.0 48.7 L426.0 49.1 L428.0 49.6 L430.0 50.5 L432.0 51.7 L434.0 53.2 L436.0 55.0 L438.0 57.1 L440.0 59.9 L442.0 63.3 L444.0 67.3 L446.0 71.4 L448.0 75.3 L450.0 78.9 L452.0 82.3 L454.0 85.4 L456.0 88.2 L458.0 90.6 L460.0 92.6 L462.0 94.3 L464.0 95.6" fill="none" stroke="#dcdcdc" stroke-width="0.85"/>
<path d="M404.0 58.0 L406.0 57.4 L408.0 56.7 L410.0 56.0 L412.0 55.4 L414.0 54.7 L416.0 54.0 L418.0 53.4 L420.0 52.8 L422.0 52.3 L424.0 52.1 L426.0 52.2 L428.0 52.8 L430.0 53.6 L432.0 54.8 L434.0 56.4 L436.0 58.4 L438.0 60.7 L440.0 63.3 L442.0 66.1 L444.0 69.3 L446.0 72.6 L448.0 76.1 L450.0 79.5 L452.0 82.9 L454.0 86.2 L456.0 89.3 L458.0 92.0 L460.0 94.7 L462.0 97.2" fill="none" stroke="#dcdcdc" stroke-width="0.85"/>
<path d="M404.0 52.9 L406.0 53.3 L408.0 53.7 L410.0 54.1 L412.0 54.5 L414.0 54.9 L416.0 55.3 L418.0 55.8 L420.0 56.5 L422.0 57.4 L424.0 58.5 L426.0 59.9 L428.0 61.3 L430.0 62.8 L432.0 64.4 L434.0 66.3 L436.0 68.4 L438.0 70.7 L440.0 73.0 L442.0 75.3 L444.0 77.8 L446.0 80.2 L448.0 82.6 L450.0 84.9 L452.0 87.0 L454.0 88.8 L456.0 90.2 L458.0 91.4 L460.0 92.3 L462.0 93.1 L464.0 93.9" fill="none" stroke="#dcdcdc" stroke-width="0.85"/>
<path d="M412.5 59.7 L414.5 59.7 L416.5 59.7 L418.5 59.7 L420.5 59.8 L422.5 59.8 L424.5 60.0 L426.5 60.5 L428.5 61.3 L430.5 62.3 L432.5 63.4 L434.5 64.5 L436.5 65.8 L438.5 67.1 L440.5 68.5 L442.5 70.0 L444.5 71.3 L446.5 72.4 L448.5 73.0 L450.5 73.3 L452.5 73.3 L454.5 73.2 L456.5 73.0 L458.5 72.7 L460.5 72.4 L462.5 72.0 L463.8 71.7" fill="none" stroke="#dcdcdc" stroke-width="0.85"/>
<path d="M320.0 66.6 L322.0 67.0 L324.0 67.3 L326.0 67.6 L328.0 67.7 L330.0 67.6 L332.0 67.2 L334.0 66.7 L336.0 66.1 L338.0 65.5 L340.0 64.8 L342.0 64.0 L344.0 63.1 L346.0 62.1 L348.0 61.1 L350.0 60.1 L352.0 59.0 L354.0 57.7 L356.0 56.3 L358.0 54.7 L360.0 53.0 L362.0 51.3 L364.0 49.5 L366.0 47.5 L368.0 45.4 L370.0 43.1 L372.0 40.8 L374.0 38.6 L376.0 36.4 L378.0 34.4 L380.0 32.4" fill="none" stroke="#dcdcdc" stroke-width="0.85"/>
<path d="M320.0 71.7 L322.0 72.0 L324.0 72.4 L326.0 72.7 L328.0 72.9 L330.0 72.9 L332.0 72.7 L334.0 72.3 L336.0 71.7 L338.0 71.2 L340.0 70.5 L342.0 69.7 L344.0 68.8 L346.0 67.8 L348.0 66.7 L350.0 65.5 L352.0 64.3 L354.0 63.0 L356.0 61.5 L358.0 59.9 L360.0 58.3 L362.0 56.6 L364.0 54.8 L366.0 53.0 L368.0 51.0 L370.0 49.1 L372.0 47.3 L374.0 45.5 L376.0 43.9 L378.0 42.4 L380.0 40.9" fill="none" stroke="#dcdcdc" stroke-width="0.85"/>
<path d="M320.0 76.8 L322.0 77.5 L324.0 78.2 L326.0 78.8 L328.0 79.3 L330.0 79.5 L332.0 79.4 L334.0 79.1 L336.0 78.6 L338.0 78.0 L340.0 77.3 L342.0 76.6 L344.0 75.7 L346.0 74.6 L348.0 73.5 L350.0 72.4 L352.0 71.1 L354.0 69.8 L356.0 68.3 L358.0 66.8 L360.0 65.1 L362.0 63.4 L364.0 61.7 L366.0 59.8 L368.0 57.9 L370.0 55.9 L372.0 54.1 L374.0 52.4 L376.0 50.8 L378.0 49.2 L380.0 47.8" fill="none" stroke="#dcdcdc" stroke-width="0.85"/>
<path d="M320.0 85.4 L322.0 86.0 L324.0 86.7 L326.0 87.3 L328.0 87.8 L330.0 88.0 L332.0 88.0 L334.0 87.6 L336.0 87.1 L338.0 86.5 L340.0 85.9 L342.0 85.1 L344.0 84.2 L346.0 83.2 L348.0 82.1 L350.0 80.9 L352.0 79.6 L354.0 78.2 L356.0 76.5 L358.0 74.7 L360.0 72.7 L362.0 70.7 L364.0 68.7 L366.0 66.7 L368.0 64.7 L370.0 62.8 L372.0 60.9 L374.0 59.2 L376.0 57.6 L378.0 56.1 L380.0 54.6" fill="none" stroke="#dcdcdc" stroke-width="0.85"/>
<path d="M320.0 92.2 L322.0 92.9 L324.0 93.5 L326.0 94.2 L328.0 94.7 L330.0 94.9 L332.0 94.9 L334.0 94.6 L336.0 94.2 L338.0 93.7 L340.0 93.2 L342.0 92.5 L344.0 91.8 L346.0 90.9 L348.0 89.8 L350.0 88.7 L352.0 87.5 L354.0 86.3 L356.0 84.8 L358.0 83.1 L360.0 81.2 L362.0 79.3 L364.0 77.3 L366.0 75.3 L368.0 73.3 L370.0 71.3 L372.0 69.3 L374.0 67.3 L376.0 65.3 L378.0 63.4 L380.0 61.4" fill="none" stroke="#dcdcdc" stroke-width="0.85"/>
<path d="M320.0 63.2 L322.0 63.5 L324.0 63.8 L326.0 64.1 L328.0 64.3 L330.0 64.3 L332.0 64.0 L334.0 63.5 L336.0 62.9 L338.0 62.2 L340.0 61.3 L342.0 60.3 L344.0 59.1 L346.0 57.7 L348.0 56.4 L350.0 54.8 L352.0 53.1 L354.0 51.3 L356.0 49.4 L358.0 47.4 L360.0 45.4 L362.0 43.4 L364.0 41.4 L366.0 39.4 L368.0 37.6 L370.0 35.9 L372.0 34.3 L374.0 32.9 L376.0 31.6 L378.0 30.3 L380.0 29.0" fill="none" stroke="#dcdcdc" stroke-width="0.85"/>
<path d="M266.0 23.8 L268.0 24.1 L270.0 24.3 L272.0 24.6 L274.0 24.9 L276.0 25.2 L278.0 25.7 L280.0 26.4 L282.0 27.4 L284.0 28.7 L286.0 30.1 L288.0 31.6 L290.0 33.3 L292.0 35.2 L294.0 37.5 L296.0 40.0 L298.0 42.6 L300.0 45.4 L302.0 48.2 L304.0 51.2 L306.0 54.3 L308.0 57.3 L310.0 59.9 L312.0 62.2 L314.0 64.1 L316.0 65.7 L318.0 67.1 L320.0 68.1 L322.0 68.9 L324.0 69.5 L326.0 70.0" fill="none" stroke="#dcdcdc" stroke-width="0.85"/>
<path d="M266.0 46.1 L268.0 46.4 L270.0 46.7 L272.0 47.1 L274.0 47.6 L276.0 48.3 L278.0 49.2 L280.0 50.4 L282.0 51.7 L284.0 53.2 L286.0 55.0 L288.0 57.1 L290.0 59.6 L292.0 62.4 L294.0 65.4 L296.0 68.6 L298.0 72.0 L300.0 75.4 L302.0 78.8 L304.0 82.1 L306.0 85.1 L308.0 88.0 L310.0 90.6 L312.0 92.8 L314.0 94.6 L316.0 96.1 L318.0 97.3 L320.0 98.4 L322.0 99.3 L324.0 100.1 L326.0 100.8" fill="none" stroke="#dcdcdc" stroke-width="0.85"/>
<path d="M266.0 51.2 L268.0 51.2 L270.0 51.2 L272.0 51.2 L274.0 51.3 L276.0 51.6 L278.0 52.2 L280.0 53.3 L282.0 54.7 L284.0 56.3 L286.0 58.2 L288.0 60.4 L290.0 63.0 L292.0 65.9 L294.0 69.1 L296.0 72.4 L298.0 75.8 L300.0 79.3 L302.0 82.8 L304.0 86.3 L306.0 89.7 L308.0 93.0 L310.0 96.2 L312.0 99.1 L314.0 101.6 L316.0 103.7 L318.0 105.5 L320.0 107.1 L320.5 107.4" fill="none" stroke="#dcdcdc" stroke-width="0.85"/>
<line x1="327.50" y1="17.50" x2="327.50" y2="111.20" stroke="#bdbdbd" stroke-width="0.9" stroke-dasharray="3 2.5"/>
<line x1="365.90" y1="17.50" x2="365.90" y2="111.20" stroke="#bdbdbd" stroke-width="0.9" stroke-dasharray="3 2.5"/>
<path d="M266.00 40.00 L267.00 40.06 L268.00 40.13 L269.00 40.19 L270.00 40.26 L271.00 40.33 L272.00 40.41 L273.00 40.52 L274.00 40.67 L275.00 40.87 L276.00 41.10 L277.00 41.34 L278.00 41.61 L279.00 41.91 L280.00 42.26 L281.00 42.66 L282.00 43.12 L283.00 43.61 L284.00 44.11 L285.00 44.65 L286.00 45.24 L287.00 45.89 L288.00 46.61 L289.00 47.38 L290.00 48.18 L291.00 49.00 L292.00 49.86 L293.00 50.79 L294.00 51.80 L295.00 52.86 L296.00 53.96 L297.00 55.07 L298.00 56.21 L299.00 57.38 L300.00 58.60 L301.00 59.85 L302.00 61.14 L303.00 62.43 L304.00 63.72 L305.00 65.00 L306.00 66.27 L307.00 67.52 L308.00 68.76 L309.00 69.99 L310.00 71.20 L311.00 72.39 L312.00 73.56 L313.00 74.70 L314.00 75.83 L315.00 76.91 L316.00 77.94 L317.00 78.90 L318.00 79.82 L319.00 80.70 L320.00 81.54 L321.00 82.32 L322.00 83.02 L323.00 83.61 L324.00 84.07 L325.00 84.41 L326.00 84.65 L327.00 84.82 L328.00 84.93 L329.00 84.96 L330.00 84.89 L331.00 84.75 L332.00 84.56 L333.00 84.35 L334.00 84.12 L335.00 83.84 L336.00 83.51 L337.00 83.13 L338.00 82.71 L339.00 82.28 L340.00 81.84 L341.00 81.38 L342.00 80.92 L343.00 80.44 L344.00 79.95 L345.00 79.45 L346.00 78.94 L347.00 78.40 L348.00 77.83 L349.00 77.21 L350.00 76.55 L351.00 75.85 L352.00 75.15 L353.00 74.41 L354.00 73.63 L355.00 72.78 L356.00 71.86 L357.00 70.89 L358.00 69.89 L359.00 68.88 L360.00 67.83 L361.00 66.74 L362.00 65.59 L363.00 64.39 L364.00 63.17 L365.00 61.93 L366.00 60.69 L367.00 59.44 L368.00 58.19 L369.00 56.96 L370.00 55.77 L371.00 54.65 L372.00 53.61 L373.00 52.66 L374.00 51.77 L375.00 50.92 L376.00 50.14 L377.00 49.43 L378.00 48.79 L379.00 48.18 L380.00 47.60 L381.00 47.03 L382.00 46.47 L383.00 45.93 L384.00 45.41 L385.00 44.90 L386.00 44.40 L387.00 43.91 L388.00 43.44 L389.00 43.00 L390.00 42.60 L391.00 42.22 L392.00 41.85 L393.00 41.50 L394.00 41.16 L395.00 40.85 L396.00 40.58 L397.00 40.34 L398.00 40.13 L399.00 39.92 L400.00 39.73 L401.00 39.56 L402.00 39.41 L403.00 39.30 L404.00 39.21 L405.00 39.13 L406.00 39.06 L407.00 39.01 L408.00 38.98 L409.00 38.98 L410.00 39.01 L411.00 39.05 L412.00 39.10 L413.00 39.16 L414.00 39.24 L415.00 39.35 L416.00 39.48 L417.00 39.63 L418.00 39.78 L419.00 39.95 L420.00 40.14 L421.00 40.36 L422.00 40.61 L423.00 40.89 L424.00 41.19 L425.00 41.53 L426.00 41.91 L427.00 42.32 L428.00 42.77 L429.00 43.25 L430.00 43.75 L431.00 44.30 L432.00 44.93 L433.00 45.62 L434.00 46.35 L435.00 47.11 L436.00 47.91 L437.00 48.73 L438.00 49.60 L439.00 50.49 L440.00 51.39 L441.00 52.31 L442.00 53.23 L443.00 54.17 L444.00 55.13 L445.00 56.11 L446.00 57.10 L447.00 58.10 L448.00 59.09 L449.00 60.06 L450.00 61.01 L451.00 61.93 L452.00 62.83 L453.00 63.72 L454.00 64.61 L455.00 65.47 L456.00 66.31 L457.00 67.11 L458.00 67.88 L459.00 68.65 L460.00 69.45 L461.00 70.30 L462.00 71.21 L463.00 72.19 L464.00 73.20" fill="none" stroke="#000" stroke-width="1.55" stroke-linejoin="round" stroke-linecap="round"/>
</g>
<rect x="266.50" y="17.50" width="198.00" height="93.70" fill="none" stroke="#a0a0a0" stroke-width="1.00"/>
<line x1="266.50" y1="21.00" x2="268.50" y2="21.00" stroke="#888" stroke-width="0.8"/>
<line x1="462.50" y1="21.00" x2="464.50" y2="21.00" stroke="#888" stroke-width="0.8"/>
<text x="264.20" y="23.40" font-size="6.70" fill="#444" text-anchor="end">10</text>
<line x1="266.50" y1="41.80" x2="268.50" y2="41.80" stroke="#888" stroke-width="0.8"/>
<line x1="462.50" y1="41.80" x2="464.50" y2="41.80" stroke="#888" stroke-width="0.8"/>
<text x="264.20" y="44.20" font-size="6.70" fill="#444" text-anchor="end">5</text>
<line x1="266.50" y1="62.60" x2="268.50" y2="62.60" stroke="#888" stroke-width="0.8"/>
<line x1="462.50" y1="62.60" x2="464.50" y2="62.60" stroke="#888" stroke-width="0.8"/>
<text x="264.20" y="65.00" font-size="6.70" fill="#444" text-anchor="end">0</text>
<line x1="266.50" y1="83.50" x2="268.50" y2="83.50" stroke="#888" stroke-width="0.8"/>
<line x1="462.50" y1="83.50" x2="464.50" y2="83.50" stroke="#888" stroke-width="0.8"/>
<text x="264.20" y="85.90" font-size="6.70" fill="#444" text-anchor="end">-5</text>
<line x1="266.50" y1="104.40" x2="268.50" y2="104.40" stroke="#888" stroke-width="0.8"/>
<line x1="462.50" y1="104.40" x2="464.50" y2="104.40" stroke="#888" stroke-width="0.8"/>
<text x="264.20" y="106.80" font-size="6.70" fill="#444" text-anchor="end">-10</text>
<line x1="327.50" y1="109.20" x2="327.50" y2="111.20" stroke="#888" stroke-width="0.8"/>
<line x1="327.50" y1="17.50" x2="327.50" y2="19.50" stroke="#888" stroke-width="0.8"/>
<line x1="365.90" y1="109.20" x2="365.90" y2="111.20" stroke="#888" stroke-width="0.8"/>
<line x1="365.90" y1="17.50" x2="365.90" y2="19.50" stroke="#888" stroke-width="0.8"/>
<text x="327.80" y="120.90" font-size="6.70" fill="#444" text-anchor="middle">T<tspan font-size="4.4" dy="2.3">r</tspan><tspan dy="-2.3"> - 5s</tspan></text>
<text x="366.20" y="120.90" font-size="6.70" fill="#444" text-anchor="middle">T<tspan font-size="4.4" dy="2.3">r</tspan><tspan dy="-2.3"> = 0</tspan></text>
<text x="365.50" y="132.10" font-size="7.10" fill="#444" text-anchor="middle">Relative time</text>
<text transform="translate(251.50 64.35) rotate(-90)" font-size="7.10" fill="#444" text-anchor="middle">Normalized amplitude</text>
<text transform="translate(335.80 20.00) rotate(-90)" font-size="6.75" fill="#444" text-anchor="end">Button Press</text>
<text transform="translate(374.20 20.00) rotate(-90)" font-size="6.75" fill="#444" text-anchor="end">Screenshot start</text>
<text x="365.50" y="14.00" font-size="7.15" font-weight="bold" class="t" fill="#000" text-anchor="middle">Lingual Gyrus (L)</text>
<clipPath id="c3"><rect x="28.50" y="154.50" width="198.00" height="94.00"/></clipPath>
<g clip-path="url(#c3)">
<path d="M28.0 162.5 L30.0 162.9 L32.0 163.3 L34.0 163.6 L36.0 164.0 L38.0 164.4 L40.0 164.8 L42.0 165.2 L44.0 165.6 L46.0 166.2 L48.0 166.8 L50.0 167.5 L52.0 168.2 L54.0 168.9 L56.0 169.7 L58.0 170.5 L60.0 171.6 L62.0 172.9 L64.0 174.4 L66.0 176.0 L68.0 177.7 L70.0 179.7 L72.0 182.1 L74.0 184.8 L76.0 187.7 L78.0 190.5 L80.0 193.3 L82.0 195.9 L84.0 198.3 L86.0 200.5 L88.0 202.4 L90.0 203.9 L92.0 205.0 L94.0 205.8 L96.0 206.4 L98.0 206.6 L100.0 206.4 L102.0 206.2 L104.0 205.8 L106.0 205.4 L108.0 204.7 L110.0 203.7 L112.0 202.4 L114.0 200.9 L116.0 199.3 L118.0 197.5 L120.0 195.5 L122.0 193.3 L124.0 190.9 L126.0 188.4 L128.0 185.9" fill="none" stroke="#dcdcdc" stroke-width="0.85"/>
<path d="M28.0 168.9 L30.0 169.1 L32.0 169.3 L34.0 169.5 L36.0 169.7 L38.0 169.9 L40.0 170.1 L42.0 170.3 L44.0 170.5 L46.0 170.8 L48.0 171.1 L50.0 171.6 L52.0 172.3 L54.0 173.1 L56.0 173.9 L58.0 174.8 L60.0 175.7 L62.0 176.7 L64.0 178.0 L66.0 179.5 L68.0 181.3 L70.0 183.3 L72.0 185.3 L74.0 187.4 L76.0 189.7 L78.0 192.1 L80.0 194.5 L82.0 196.9 L84.0 199.1 L86.0 201.3 L88.0 203.3 L90.0 205.1 L92.0 206.6 L94.0 207.8 L96.0 208.8 L98.0 209.6 L100.0 210.3 L102.0 210.7 L104.0 210.9 L106.0 210.8 L108.0 210.5 L110.0 210.2 L112.0 209.8 L114.0 209.3 L116.0 208.7 L118.0 207.8 L120.0 206.9 L122.0 205.9 L124.0 204.9 L126.0 203.9 L128.0 202.9" fill="none" stroke="#dcdcdc" stroke-width="0.85"/>
<path d="M28.0 177.4 L30.0 177.2 L32.0 176.9 L34.0 176.7 L36.0 176.4 L38.0 176.2 L40.0 175.9 L42.0 175.8 L44.0 175.7 L46.0 176.0 L48.0 176.4 L50.0 177.0 L52.0 177.6 L54.0 178.3 L56.0 179.1 L58.0 180.0 L60.0 181.1 L62.0 182.4 L64.0 183.7 L66.0 185.0 L68.0 186.5 L70.0 188.0 L72.0 189.7 L74.0 191.6 L76.0 193.5 L78.0 195.5 L80.0 197.4 L82.0 199.3 L84.0 201.1 L86.0 202.7 L88.0 204.2 L90.0 205.3 L92.0 206.1 L94.0 206.4 L96.0 206.2 L98.0 205.9 L100.0 205.3 L102.0 204.6 L104.0 203.5 L106.0 202.1 L108.0 200.6 L110.0 199.1 L112.0 197.7 L114.0 196.3 L116.0 195.2 L118.0 194.1 L120.0 193.0 L122.0 191.9 L124.0 190.6 L126.0 189.4 L128.0 188.0" fill="none" stroke="#dcdcdc" stroke-width="0.85"/>
<path d="M28.0 194.4 L30.0 194.1 L32.0 193.8 L34.0 193.4 L36.0 193.1 L38.0 192.9 L40.0 192.7 L42.0 192.7 L44.0 192.9 L46.0 193.2 L48.0 193.5 L50.0 193.9 L52.0 194.3 L54.0 194.7 L56.0 195.3 L58.0 195.9 L60.0 196.6 L62.0 197.3 L64.0 198.1 L66.0 199.1 L68.0 200.3 L70.0 201.7 L72.0 203.2 L74.0 204.7 L76.0 206.1 L78.0 207.3 L80.0 208.3 L82.0 209.2 L84.0 209.9 L86.0 210.5 L88.0 210.8 L90.0 210.7 L92.0 210.5 L94.0 210.1 L96.0 209.6 L98.0 209.0 L100.0 208.1 L102.0 207.1 L104.0 206.0 L106.0 204.9 L108.0 203.7 L110.0 202.6 L112.0 201.5 L114.0 200.5 L116.0 199.6 L118.0 198.7 L120.0 197.9 L122.0 197.0 L124.0 196.1 L126.0 195.3 L128.0 194.4" fill="none" stroke="#dcdcdc" stroke-width="0.85"/>
<path d="M28.0 196.6 L30.0 197.3 L32.0 198.1 L34.0 198.8 L36.0 199.6 L38.0 200.3 L40.0 201.1 L42.0 201.8 L44.0 202.6 L46.0 203.4 L48.0 204.2 L50.0 205.1 L52.0 205.9 L54.0 206.8 L56.0 207.7 L58.0 208.6 L60.0 209.6 L62.0 210.6 L64.0 211.8 L66.0 213.0 L68.0 214.2 L70.0 215.6 L72.0 217.0 L74.0 218.5 L76.0 220.1 L78.0 221.6 L80.0 223.2 L82.0 224.8 L84.0 226.3 L86.0 227.7 L88.0 228.8 L90.0 229.5 L92.0 229.8 L94.0 229.6 L96.0 229.3 L98.0 228.8 L100.0 228.1 L102.0 227.1 L104.0 226.0 L106.0 224.7 L108.0 223.4 L110.0 222.1 L112.0 220.8 L114.0 219.5 L116.0 218.3 L118.0 217.2 L120.0 216.0 L122.0 214.9 L124.0 213.7 L126.0 212.6 L128.0 211.4" fill="none" stroke="#dcdcdc" stroke-width="0.85"/>
<path d="M28.0 183.8 L30.0 184.1 L32.0 184.4 L34.0 184.6 L36.0 184.9 L38.0 185.2 L40.0 185.5 L42.0 185.9 L44.0 186.3 L46.0 186.7 L48.0 187.2 L50.0 187.7 L52.0 188.2 L54.0 188.7 L56.0 189.3 L58.0 190.1 L60.0 191.4 L62.0 193.1 L64.0 195.2 L66.0 197.6 L68.0 200.2 L70.0 203.3 L72.0 206.8 L74.0 210.9 L76.0 215.1 L78.0 219.3 L80.0 223.3 L82.0 227.1 L84.0 230.5 L86.0 233.6 L88.0 236.2 L90.0 238.1 L92.0 239.4 L94.0 240.2 L96.0 240.4 L98.0 240.3 L100.0 240.0 L102.0 239.4 L104.0 238.6 L106.0 237.5 L108.0 236.1 L110.0 234.6 L112.0 232.9 L114.0 231.2 L116.0 229.5 L118.0 227.7 L120.0 225.8 L122.0 223.8 L124.0 221.8 L126.0 219.8 L128.0 217.8" fill="none" stroke="#dcdcdc" stroke-width="0.85"/>
<path d="M28.0 207.2 L30.0 206.9 L32.0 206.5 L34.0 206.2 L36.0 205.9 L38.0 205.6 L40.0 205.5 L42.0 205.5 L44.0 205.7 L46.0 206.0 L48.0 206.3 L50.0 206.6 L52.0 207.1 L54.0 207.6 L56.0 208.3 L58.0 209.0 L60.0 209.8 L62.0 210.7 L64.0 211.8 L66.0 213.1 L68.0 214.6 L70.0 216.1 L72.0 217.8 L74.0 219.5 L76.0 221.3 L78.0 223.2 L80.0 225.1 L82.0 227.0 L84.0 228.8 L86.0 230.4 L88.0 231.9 L90.0 233.1 L92.0 234.0 L94.0 234.5 L96.0 234.8 L98.0 234.7 L100.0 234.5 L102.0 233.9 L104.0 232.7 L106.0 231.1 L108.0 229.3 L110.0 227.3 L112.0 225.2 L114.0 223.1 L116.0 220.9 L118.0 218.6 L120.0 216.3 L122.0 214.0 L124.0 211.8 L126.0 209.5 L128.0 207.2" fill="none" stroke="#dcdcdc" stroke-width="0.85"/>
<path d="M28.0 202.9 L30.0 202.4 L32.0 201.9 L34.0 201.4 L36.0 200.9 L38.0 200.4 L40.0 199.9 L42.0 199.4 L44.0 198.8 L46.0 198.2 L48.0 197.5 L50.0 196.7 L52.0 195.9 L54.0 195.2 L56.0 194.5 L58.0 193.9 L60.0 193.4 L62.0 193.1 L64.0 193.1 L66.0 193.4 L68.0 193.9 L70.0 194.7 L72.0 195.6 L74.0 196.6 L76.0 197.8 L78.0 199.3 L80.0 200.9 L82.0 202.6 L84.0 204.2 L86.0 206.0 L88.0 207.8 L90.0 209.7 L92.0 211.6 L94.0 213.6 L96.0 215.4 L98.0 217.0 L100.0 218.2 L102.0 219.3 L104.0 220.1 L106.0 220.8 L108.0 221.4 L110.0 221.8 L112.0 222.0 L114.0 222.0 L116.0 222.0 L118.0 221.8 L120.0 221.4 L122.0 220.7 L124.0 219.8 L126.0 218.8 L128.0 217.8" fill="none" stroke="#dcdcdc" stroke-width="0.85"/>
<path d="M28.0 166.8 L30.0 167.1 L32.0 167.4 L34.0 167.8 L36.0 168.1 L38.0 168.5 L40.0 169.0 L42.0 169.5 L44.0 170.2 L46.0 171.0 L48.0 171.8 L50.0 172.7 L52.0 173.7 L54.0 174.8 L56.0 175.9 L58.0 177.2 L60.0 178.6 L62.0 180.3 L64.0 182.3 L66.0 184.6 L68.0 187.0 L70.0 189.4 L72.0 191.9 L74.0 194.3 L76.0 196.7 L78.0 199.0 L80.0 201.2 L82.0 203.2 L84.0 204.9 L86.0 206.5 L88.0 207.9 L90.0 209.2 L92.0 210.4 L94.0 211.4 L96.0 212.5 L98.0 213.4 L100.0 214.4 L102.0 215.3 L104.0 216.0 L106.0 216.7 L108.0 217.3 L110.0 217.9 L112.0 218.4 L114.0 219.0 L116.0 219.6 L118.0 220.3 L120.0 221.0 L122.0 221.8 L124.0 222.6 L126.0 223.4 L128.0 224.2" fill="none" stroke="#dcdcdc" stroke-width="0.85"/>
<path d="M53.5 177.4 L55.5 177.0 L57.5 176.6 L59.5 176.3 L61.5 176.1 L63.5 176.1 L65.5 176.6 L67.5 177.5 L69.5 178.6 L71.5 179.9 L73.5 181.4 L75.5 183.4 L77.5 185.7 L79.5 188.3 L81.5 191.0 L83.5 193.7 L85.5 196.2 L87.5 198.4 L89.5 200.5 L91.5 202.2 L93.5 203.4 L95.5 204.1 L97.5 204.1 L99.5 203.9 L101.5 203.6 L103.5 203.2 L105.5 202.8 L107.5 202.5 L109.5 202.1 L111.5 201.8 L113.5 201.4 L115.5 201.1 L117.5 200.7 L119.5 200.4 L121.5 200.0 L123.5 199.6 L125.5 199.2 L127.5 198.8 L127.8 198.7" fill="none" stroke="#dcdcdc" stroke-width="0.85"/>
<path d="M126.0 196.6 L128.0 191.0 L130.0 185.4 L132.0 179.9 L134.0 174.7 L136.0 170.2 L138.0 166.6 L140.0 163.8 L142.0 161.5 L144.0 159.7 L146.0 158.2 L148.0 157.3 L150.0 157.0 L152.0 157.2 L154.0 157.5 L156.0 158.0 L158.0 158.6 L160.0 159.2 L162.0 160.0 L164.0 160.9 L166.0 161.7 L168.0 162.6 L170.0 163.4 L172.0 164.1 L174.0 164.8 L176.0 165.4 L178.0 165.9 L180.0 166.4 L182.0 166.9 L184.0 167.4 L186.0 167.9 L188.0 168.4 L190.0 168.8 L192.0 169.2 L194.0 169.6 L196.0 169.9 L198.0 170.3 L200.0 170.8 L202.0 171.5 L204.0 172.4 L206.0 173.7 L208.0 175.3 L210.0 177.1 L212.0 179.3 L214.0 181.9 L216.0 184.8 L218.0 187.7 L220.0 190.5 L222.0 193.3 L224.0 196.0 L226.0 198.7" fill="none" stroke="#dcdcdc" stroke-width="0.85"/>
<path d="M126.0 205.1 L128.0 201.1 L130.0 197.1 L132.0 193.1 L134.0 189.2 L136.0 185.4 L138.0 182.2 L140.0 179.6 L142.0 177.7 L144.0 176.1 L146.0 174.7 L148.0 173.5 L150.0 172.4 L152.0 171.6 L154.0 171.0 L156.0 170.7 L158.0 170.5 L160.0 170.3 L162.0 170.3 L164.0 170.3 L166.0 170.5 L168.0 170.8 L170.0 171.2 L172.0 171.6 L174.0 172.0 L176.0 172.4 L178.0 172.8 L180.0 173.2 L182.0 173.5 L184.0 173.8 L186.0 174.1 L188.0 174.4 L190.0 174.7 L192.0 175.0 L194.0 175.3 L196.0 175.6 L198.0 175.9 L200.0 176.3 L202.0 176.6 L204.0 176.9 L206.0 177.3 L208.0 177.7 L210.0 178.0 L212.0 178.4 L214.0 178.8 L216.0 179.3 L218.0 179.7 L220.0 180.2 L222.0 180.7 L224.0 181.2 L226.0 181.7" fill="none" stroke="#dcdcdc" stroke-width="0.85"/>
<path d="M126.0 209.3 L128.0 206.5 L130.0 203.6 L132.0 200.7 L134.0 197.9 L136.0 195.1 L138.0 192.4 L140.0 190.0 L142.0 188.0 L144.0 186.5 L146.0 185.2 L148.0 184.0 L150.0 182.9 L152.0 181.8 L154.0 180.8 L156.0 180.2 L158.0 179.8 L160.0 179.6 L162.0 179.5 L164.0 179.5 L166.0 179.5 L168.0 179.5 L170.0 179.6 L172.0 179.7 L174.0 180.0 L176.0 180.4 L178.0 180.8 L180.0 181.3 L182.0 181.8 L184.0 182.3 L186.0 182.7 L188.0 183.0 L190.0 183.0 L192.0 182.6 L194.0 181.9 L196.0 181.1 L198.0 180.3 L200.0 179.5 L202.0 178.7 L204.0 178.1 L206.0 177.7 L208.0 177.5 L210.0 177.4 L212.0 177.4 L214.0 177.5 L216.0 177.7 L218.0 178.0 L220.0 178.3 L222.0 178.7 L224.0 179.1 L226.0 179.5" fill="none" stroke="#dcdcdc" stroke-width="0.85"/>
<path d="M126.0 211.4 L128.0 209.1 L130.0 206.8 L132.0 204.5 L134.0 202.2 L136.0 200.0 L138.0 198.1 L140.0 196.5 L142.0 195.3 L144.0 194.3 L146.0 193.5 L148.0 192.6 L150.0 191.8 L152.0 191.1 L154.0 190.5 L156.0 190.0 L158.0 189.7 L160.0 189.5 L162.0 189.2 L164.0 189.0 L166.0 188.8 L168.0 188.6 L170.0 188.5 L172.0 188.5 L174.0 188.8 L176.0 189.3 L178.0 190.0 L180.0 190.7 L182.0 191.5 L184.0 192.2 L186.0 192.9 L188.0 193.4 L190.0 193.6 L192.0 193.4 L194.0 193.0 L196.0 192.4 L198.0 191.7 L200.0 191.1 L202.0 190.5 L204.0 190.0 L206.0 189.6 L208.0 189.3 L210.0 189.0 L212.0 188.7 L214.0 188.6 L216.0 188.8 L218.0 189.3 L220.0 189.9 L222.0 190.7 L224.0 191.5 L226.0 192.3" fill="none" stroke="#dcdcdc" stroke-width="0.85"/>
<path d="M126.0 213.6 L128.0 212.3 L130.0 211.1 L132.0 209.8 L134.0 208.6 L136.0 207.3 L138.0 206.1 L140.0 204.9 L142.0 203.8 L144.0 202.9 L146.0 202.2 L148.0 201.5 L150.0 200.9 L152.0 200.4 L154.0 199.8 L156.0 199.3 L158.0 198.9 L160.0 198.5 L162.0 198.2 L164.0 197.9 L166.0 197.7 L168.0 197.4 L170.0 197.2 L172.0 197.0 L174.0 197.0 L176.0 197.1 L178.0 197.4 L180.0 197.8 L182.0 198.3 L184.0 198.8 L186.0 199.3 L188.0 199.8 L190.0 200.3 L192.0 200.9 L194.0 201.4 L196.0 202.0 L198.0 202.5 L200.0 203.1 L202.0 203.7 L204.0 204.2 L206.0 204.8 L208.0 205.2 L210.0 205.7 L212.0 206.1 L214.0 206.5 L216.0 206.8 L218.0 207.0 L220.0 207.1 L222.0 207.2 L224.0 207.2 L226.0 207.2" fill="none" stroke="#dcdcdc" stroke-width="0.85"/>
<path d="M128.1 215.7 L130.1 214.7 L132.1 213.7 L134.1 212.7 L136.1 211.7 L138.1 210.7 L140.1 209.7 L142.1 208.8 L144.1 208.0 L146.1 207.4 L148.1 206.9 L150.1 206.6 L152.1 206.3 L154.1 206.1 L156.1 205.8 L158.1 205.6 L160.1 205.4 L162.1 205.4 L164.1 205.4 L166.1 205.6 L168.1 205.8 L170.1 206.1 L172.1 206.3 L174.1 206.5 L176.1 206.7 L178.1 206.9 L180.1 206.8 L182.1 206.7 L184.1 206.5 L186.1 206.2 L188.1 205.9 L190.1 205.6 L192.1 205.2 L194.1 204.6 L196.1 203.9 L198.1 203.0 L200.1 202.0 L202.1 201.1 L204.1 200.1 L206.1 199.3 L208.1 198.6 L210.1 198.1 L212.1 197.7 L214.1 197.4 L216.1 197.3 L218.1 197.5 L220.1 198.1 L222.1 198.9 L224.1 199.9 L225.9 200.7" fill="none" stroke="#dcdcdc" stroke-width="0.85"/>
<path d="M126.0 217.8 L128.0 217.2 L130.0 216.6 L132.0 216.0 L134.0 215.4 L136.0 214.8 L138.0 214.2 L140.0 213.6 L142.0 213.0 L144.0 212.5 L146.0 212.0 L148.0 211.7 L150.0 211.5 L152.0 211.5 L154.0 211.5 L156.0 211.4 L158.0 211.4 L160.0 211.4 L162.0 211.4 L164.0 211.3 L166.0 211.2 L168.0 211.0 L170.0 210.7 L172.0 210.5 L174.0 210.2 L176.0 210.0 L178.0 209.7 L180.0 209.3 L182.0 208.8 L184.0 208.1 L186.0 207.3 L188.0 206.5 L190.0 205.6 L192.0 204.7 L194.0 203.9 L196.0 202.9 L198.0 202.0 L200.0 201.0 L202.0 200.1 L204.0 199.1 L206.0 198.3 L208.0 197.9 L210.0 198.0 L212.0 198.7 L214.0 199.7 L216.0 201.2 L218.0 203.5 L220.0 207.0 L222.0 211.9 L224.0 217.8 L226.0 224.2" fill="none" stroke="#dcdcdc" stroke-width="0.85"/>
<path d="M136.6 185.9 L138.6 184.6 L140.6 183.2 L142.6 181.9 L144.6 180.6 L146.6 179.4 L148.6 178.4 L150.6 177.6 L152.6 177.1 L154.6 176.7 L156.6 176.4 L158.6 176.1 L160.6 175.9 L162.6 175.7 L164.6 175.8 L166.6 176.1 L168.6 176.6 L170.6 177.1 L172.6 177.7 L174.6 178.2 L176.6 178.8 L178.6 179.5 L180.6 180.2 L182.6 181.0 L184.6 181.9 L186.6 182.7 L188.6 183.6 L190.6 184.4 L192.6 185.1 L194.6 185.8 L196.6 186.3 L198.6 186.7 L200.6 187.0 L202.6 187.4 L204.6 187.8 L206.6 188.5 L208.6 189.3 L210.6 190.4 L212.6 191.6 L214.6 193.0 L216.6 194.9 L218.6 197.3 L220.6 200.2 L222.6 203.5 L224.6 206.9 L225.9 209.1" fill="none" stroke="#dcdcdc" stroke-width="0.85"/>
<path d="M143.0 158.3 L145.0 158.5 L147.0 158.8 L149.0 159.1 L151.0 159.4 L153.0 159.7 L155.0 160.0 L157.0 160.3 L159.0 160.6 L161.0 160.9 L163.0 161.2 L165.0 161.6 L167.0 161.9 L169.0 162.2 L171.0 162.5 L173.0 162.8 L175.0 163.1 L177.0 163.4 L179.0 163.7 L181.0 164.0 L183.0 164.3 L185.0 164.6 L187.0 164.9 L189.0 165.2 L191.0 165.6 L193.0 165.9 L195.0 166.3 L197.0 167.0 L199.0 167.9 L201.0 169.1 L203.0 170.6 L205.0 172.2 L207.0 174.2 L209.0 176.5 L211.0 179.3 L213.0 182.5 L215.0 186.0 L217.0 189.6 L219.0 193.4 L221.0 197.3 L223.0 201.2 L225.0 205.2 L225.8 206.7" fill="none" stroke="#dcdcdc" stroke-width="0.85"/>
<path d="M132.4 205.1 L134.4 203.9 L136.4 202.8 L138.4 201.6 L140.4 200.5 L142.4 199.4 L144.4 198.4 L146.4 197.5 L148.4 197.0 L150.4 196.7 L152.4 196.6 L154.4 196.6 L156.4 196.6 L158.4 196.5 L160.4 196.5 L162.4 196.5 L164.4 196.3 L166.4 196.1 L168.4 195.9 L170.4 195.5 L172.4 195.2 L174.4 195.0 L176.4 194.8 L178.4 194.9 L180.4 195.0 L182.4 195.3 L184.4 195.7 L186.4 196.0 L188.4 196.5 L190.4 197.1 L192.4 197.9 L194.4 198.9 L196.4 199.8 L198.4 200.8 L200.4 201.8 L202.4 202.6 L204.4 203.4 L206.4 204.2 L208.4 204.9 L210.4 205.5 L212.4 206.0 L214.4 206.3 L216.4 206.2 L218.4 205.8 L220.4 205.1 L222.4 204.4 L224.4 203.6 L225.9 203.0" fill="none" stroke="#dcdcdc" stroke-width="0.85"/>
<path d="M84.0 196.7 L86.0 197.4 L88.0 198.1 L90.0 198.7 L92.0 199.2 L94.0 199.4 L96.0 199.3 L98.0 199.0 L100.0 198.5 L102.0 197.9 L104.0 197.1 L106.0 196.2 L108.0 194.9 L110.0 193.4 L112.0 191.8 L114.0 190.1 L116.0 188.5 L118.0 187.1 L120.0 186.0 L122.0 185.0 L124.0 184.2 L126.0 183.4 L128.0 182.6 L130.0 181.7 L132.0 180.9 L134.0 180.0 L136.0 179.1 L138.0 178.0 L140.0 176.9 L142.0 175.7 L144.0 174.5" fill="none" stroke="#dcdcdc" stroke-width="0.85"/>
<path d="M84.0 205.3 L86.0 204.9 L88.0 204.6 L90.0 204.3 L92.0 203.9 L94.0 203.4 L96.0 202.9 L98.0 202.3 L100.0 201.6 L102.0 200.9 L104.0 200.0 L106.0 199.0 L108.0 197.8 L110.0 196.5 L112.0 195.2 L114.0 194.0 L116.0 192.8 L118.0 191.7 L120.0 190.7 L122.0 189.7 L124.0 188.8 L126.0 188.0 L128.0 187.2 L130.0 186.5 L132.0 185.8 L134.0 185.0 L136.0 184.1 L138.0 183.1 L140.0 182.0 L142.0 180.8 L144.0 179.6" fill="none" stroke="#dcdcdc" stroke-width="0.85"/>
<path d="M84.0 210.4 L86.0 210.1 L88.0 209.8 L90.0 209.5 L92.0 209.2 L94.0 208.9 L96.0 208.5 L98.0 207.9 L100.0 207.3 L102.0 206.7 L104.0 206.0 L106.0 205.2 L108.0 204.3 L110.0 203.4 L112.0 202.4 L114.0 201.4 L116.0 200.4 L118.0 199.4 L120.0 198.4 L122.0 197.4 L124.0 196.4 L126.0 195.5 L128.0 194.6 L130.0 193.7 L132.0 192.9 L134.0 192.1 L136.0 191.3 L138.0 190.5 L140.0 189.8 L142.0 189.0 L144.0 188.2" fill="none" stroke="#dcdcdc" stroke-width="0.85"/>
<path d="M84.0 222.4 L86.0 221.7 L88.0 221.0 L90.0 220.4 L92.0 219.6 L94.0 218.9 L96.0 218.0 L98.0 217.1 L100.0 216.1 L102.0 215.1 L104.0 214.1 L106.0 213.1 L108.0 212.1 L110.0 211.1 L112.0 210.1 L114.0 209.1 L116.0 208.1 L118.0 207.1 L120.0 206.1 L122.0 205.0 L124.0 204.0 L126.0 202.8 L128.0 201.5 L130.0 200.3 L132.0 199.0 L134.0 197.8 L136.0 196.7 L138.0 195.8 L140.0 194.9 L142.0 194.1 L144.0 193.3" fill="none" stroke="#dcdcdc" stroke-width="0.85"/>
<path d="M84.0 229.2 L86.0 228.9 L88.0 228.5 L90.0 228.2 L92.0 227.8 L94.0 227.4 L96.0 226.9 L98.0 226.4 L100.0 225.9 L102.0 225.3 L104.0 224.7 L106.0 224.0 L108.0 223.3 L110.0 222.4 L112.0 221.6 L114.0 220.7 L116.0 219.8 L118.0 218.8 L120.0 217.6 L122.0 216.4 L124.0 215.1 L126.0 213.7 L128.0 212.3 L130.0 210.8 L132.0 209.3 L134.0 207.7 L136.0 206.3 L138.0 205.0 L140.0 203.9 L142.0 202.9 L144.0 201.9" fill="none" stroke="#dcdcdc" stroke-width="0.85"/>
<path d="M84.0 239.5 L86.0 239.2 L88.0 238.9 L90.0 238.6 L92.0 238.3 L94.0 238.0 L96.0 237.6 L98.0 237.1 L100.0 236.6 L102.0 236.0 L104.0 235.4 L106.0 234.8 L108.0 234.1 L110.0 233.2 L112.0 232.3 L114.0 231.3 L116.0 230.2 L118.0 229.0 L120.0 227.6 L122.0 226.1 L124.0 224.4 L126.0 222.6 L128.0 220.6 L130.0 218.4 L132.0 216.2 L134.0 214.1 L136.0 212.2 L138.0 210.7 L140.0 209.4 L142.0 208.2 L144.0 207.0" fill="none" stroke="#dcdcdc" stroke-width="0.85"/>
<path d="M84.0 219.0 L86.0 219.5 L88.0 220.0 L90.0 220.5 L92.0 221.0 L94.0 221.5 L96.0 222.0 L98.0 222.5 L100.0 223.1 L102.0 223.6 L104.0 224.2 L106.0 224.7 L108.0 225.3 L110.0 225.7 L112.0 226.1 L114.0 226.5 L116.0 226.7 L118.0 226.8 L120.0 226.6 L122.0 225.9 L124.0 224.9 L126.0 223.5 L128.0 221.9 L130.0 219.7 L132.0 217.3 L134.0 214.6 L136.0 211.7 L138.0 208.9 L140.0 206.0 L142.0 203.1 L144.0 200.2" fill="none" stroke="#dcdcdc" stroke-width="0.85"/>
<path d="M168.0 164.3 L170.0 164.9 L172.0 165.6 L174.0 166.3 L176.0 166.9 L178.0 167.6 L180.0 168.3 L182.0 168.9 L184.0 169.5 L186.0 170.1 L188.0 170.4 L190.0 170.5 L192.0 170.4 L194.0 170.2 L196.0 170.1 L198.0 170.2 L200.0 170.6 L202.0 171.5 L204.0 172.7 L206.0 174.1 L208.0 175.9 L210.0 177.9 L212.0 180.3 L214.0 182.8 L216.0 185.6 L218.0 188.8 L220.0 192.3 L222.0 196.2 L224.0 200.4 L226.0 205.0" fill="none" stroke="#dcdcdc" stroke-width="0.85"/>
<path d="M168.0 174.5 L170.0 174.3 L172.0 174.0 L174.0 173.8 L176.0 173.5 L178.0 173.3 L180.0 173.0 L182.0 172.7 L184.0 172.5 L186.0 172.2 L188.0 171.9 L190.0 171.7 L192.0 171.6 L194.0 171.7 L196.0 172.1 L198.0 172.6 L200.0 173.3 L202.0 174.1 L204.0 175.1 L206.0 176.4 L208.0 177.9 L210.0 179.7 L212.0 181.7 L214.0 184.1 L216.0 186.8 L218.0 189.7 L220.0 192.7 L222.0 195.7 L224.0 198.7 L226.0 201.7" fill="none" stroke="#dcdcdc" stroke-width="0.85"/>
<path d="M168.0 183.1 L170.0 182.7 L172.0 182.4 L174.0 182.1 L176.0 181.7 L178.0 181.4 L180.0 181.1 L182.0 180.8 L184.0 180.5 L186.0 180.3 L188.0 180.1 L190.0 180.2 L192.0 180.5 L194.0 181.0 L196.0 181.6 L198.0 182.2 L200.0 182.9 L202.0 183.6 L204.0 184.2 L206.0 184.9 L208.0 185.5 L210.0 186.1 L212.0 186.6 L214.0 187.1 L216.0 187.5 L218.0 188.0 L220.0 188.4 L222.0 188.9 L224.0 189.4 L226.0 189.9" fill="none" stroke="#dcdcdc" stroke-width="0.85"/>
<path d="M168.0 186.5 L170.0 186.8 L172.0 187.0 L174.0 187.3 L176.0 187.6 L178.0 187.8 L180.0 187.8 L182.0 187.8 L184.0 187.6 L186.0 187.3 L188.0 187.0 L190.0 186.6 L192.0 186.0 L194.0 185.3 L196.0 184.4 L198.0 183.4 L200.0 182.4 L202.0 181.4 L204.0 180.4 L206.0 179.5 L208.0 178.5 L210.0 177.6 L212.0 176.9 L214.0 176.5 L216.0 176.3 L218.0 176.4 L220.0 176.7 L222.0 177.4 L224.0 178.4 L226.0 179.6" fill="none" stroke="#dcdcdc" stroke-width="0.85"/>
<path d="M168.0 198.4 L170.0 198.7 L172.0 198.9 L174.0 199.2 L176.0 199.4 L178.0 199.7 L180.0 199.9 L182.0 200.2 L184.0 200.4 L186.0 200.7 L188.0 200.9 L190.0 201.2 L192.0 201.4 L194.0 201.5 L196.0 201.5 L198.0 201.4 L200.0 201.2 L202.0 200.9 L204.0 200.7 L206.0 200.5 L208.0 200.5 L210.0 200.7 L212.0 201.0 L214.0 201.3 L216.0 201.7 L218.0 202.3 L220.0 202.9 L222.0 203.7 L224.0 204.4 L226.0 205.2" fill="none" stroke="#dcdcdc" stroke-width="0.85"/>
<path d="M168.0 205.3 L170.0 205.0 L172.0 204.8 L174.0 204.5 L176.0 204.3 L178.0 204.0 L180.0 203.7 L182.0 203.3 L184.0 202.8 L186.0 202.3 L188.0 201.8 L190.0 201.2 L192.0 200.7 L194.0 200.2 L196.0 199.8 L198.0 199.5 L200.0 199.2 L202.0 199.0 L204.0 199.1 L206.0 199.5 L208.0 200.2 L210.0 201.0 L212.0 202.1 L214.0 203.4 L216.0 204.8 L218.0 206.6 L220.0 208.8 L222.0 211.6 L224.0 215.0 L226.0 218.7" fill="none" stroke="#dcdcdc" stroke-width="0.85"/>
<path d="M168.0 210.4 L170.0 210.4 L172.0 210.4 L174.0 210.4 L176.0 210.4 L178.0 210.4 L180.0 210.4 L182.0 210.4 L184.0 210.4 L186.0 210.4 L188.0 210.4 L190.0 210.4 L192.0 210.4 L194.0 210.4 L196.0 210.4 L198.0 210.4 L200.0 210.4 L202.0 210.3 L204.0 210.1 L206.0 209.8 L208.0 209.6 L210.0 209.3 L212.0 209.0 L214.0 208.7 L216.0 208.3 L218.0 208.0 L220.0 207.7 L222.0 207.7 L224.0 208.1 L226.0 208.6" fill="none" stroke="#dcdcdc" stroke-width="0.85"/>
<path d="M28.0 167.7 L30.0 167.3 L32.0 167.0 L34.0 166.7 L36.0 166.5 L38.0 166.5 L40.0 166.8 L42.0 167.3 L44.0 167.9 L46.0 168.7 L48.0 169.7 L50.0 170.9 L52.0 172.4 L54.0 174.0 L56.0 175.7 L58.0 177.6 L60.0 179.7 L62.0 181.9 L64.0 184.2 L66.0 186.6 L68.0 189.0 L70.0 191.4 L72.0 193.8 L74.0 196.1 L76.0 198.4 L78.0 200.5 L80.0 202.5 L82.0 204.4 L84.0 206.1 L86.0 207.5 L88.0 208.7" fill="none" stroke="#dcdcdc" stroke-width="0.85"/>
<path d="M28.0 179.6 L30.0 179.1 L32.0 178.6 L34.0 178.1 L36.0 177.7 L38.0 177.2 L40.0 176.9 L42.0 176.7 L44.0 176.8 L46.0 177.0 L48.0 177.3 L50.0 177.8 L52.0 178.4 L54.0 179.1 L56.0 180.0 L58.0 181.1 L60.0 182.3 L62.0 183.7 L64.0 185.6 L66.0 187.8 L68.0 190.1 L70.0 192.6 L72.0 195.2 L74.0 197.9 L76.0 200.7 L78.0 203.3 L80.0 205.9 L82.0 208.4 L84.0 210.8 L86.0 213.2 L88.0 215.5" fill="none" stroke="#dcdcdc" stroke-width="0.85"/>
<path d="M28.0 196.7 L30.0 196.4 L32.0 196.1 L34.0 195.8 L36.0 195.5 L38.0 195.4 L40.0 195.4 L42.0 195.6 L44.0 195.9 L46.0 196.2 L48.0 196.6 L50.0 197.1 L52.0 197.8 L54.0 198.7 L56.0 199.7 L58.0 200.8 L60.0 202.1 L62.0 203.7 L64.0 205.5 L66.0 207.4 L68.0 209.4 L70.0 211.4 L72.0 213.4 L74.0 215.3 L76.0 217.2 L78.0 218.9 L80.0 220.4 L82.0 221.8 L84.0 223.2 L86.0 224.5 L88.0 225.8" fill="none" stroke="#dcdcdc" stroke-width="0.85"/>
<path d="M28.0 208.7 L30.0 209.3 L32.0 209.8 L34.0 210.4 L36.0 211.0 L38.0 211.5 L40.0 212.0 L42.0 212.4 L44.0 212.8 L46.0 213.1 L48.0 213.3 L50.0 213.2 L52.0 213.0 L54.0 212.5 L56.0 211.9 L58.0 211.3 L60.0 210.7 L62.0 210.2 L64.0 209.8 L66.0 209.4 L68.0 209.3 L70.0 209.4 L72.0 209.8 L74.0 210.4 L76.0 211.1 L78.0 212.0 L80.0 213.1 L82.0 214.4 L84.0 215.9 L86.0 217.4 L88.0 219.0" fill="none" stroke="#dcdcdc" stroke-width="0.85"/>
<path d="M28.0 201.9 L30.0 202.1 L32.0 202.4 L34.0 202.6 L36.0 202.9 L38.0 203.1 L40.0 203.4 L42.0 203.6 L44.0 203.9 L46.0 204.2 L48.0 204.5 L50.0 204.8 L52.0 205.2 L54.0 205.6 L56.0 206.1 L58.0 206.8 L60.0 207.5 L62.0 208.4 L64.0 209.6 L66.0 211.1 L68.0 212.9 L70.0 215.0 L72.0 217.2 L74.0 219.7 L76.0 222.3 L78.0 225.1 L80.0 227.9 L82.0 230.7 L84.0 233.6 L86.0 236.5 L88.0 239.5" fill="none" stroke="#dcdcdc" stroke-width="0.85"/>
<path d="M38.3 179.6 L40.3 179.4 L42.3 179.1 L44.3 178.8 L46.3 178.5 L48.3 178.3 L50.3 178.1 L52.3 178.0 L54.3 178.0 L56.3 177.9 L58.3 178.0 L60.3 178.1 L62.3 178.4 L64.3 178.9 L66.3 179.7 L68.3 180.6 L70.3 181.7 L72.3 183.2 L74.3 185.0 L76.3 186.9 L78.3 189.0 L80.3 191.2 L82.3 193.4 L84.3 195.8 L86.3 198.1 L87.8 199.9" fill="none" stroke="#dcdcdc" stroke-width="0.85"/>
<line x1="89.50" y1="154.50" x2="89.50" y2="248.50" stroke="#bdbdbd" stroke-width="0.9" stroke-dasharray="3 2.5"/>
<line x1="127.90" y1="154.50" x2="127.90" y2="248.50" stroke="#bdbdbd" stroke-width="0.9" stroke-dasharray="3 2.5"/>
<path d="M28.00 189.20 L29.00 189.16 L30.00 189.12 L31.00 189.08 L32.00 189.04 L33.00 189.00 L34.00 188.96 L35.00 188.92 L36.00 188.88 L37.00 188.83 L38.00 188.78 L39.00 188.73 L40.00 188.68 L41.00 188.63 L42.00 188.60 L43.00 188.60 L44.00 188.63 L45.00 188.71 L46.00 188.80 L47.00 188.91 L48.00 189.05 L49.00 189.22 L50.00 189.46 L51.00 189.76 L52.00 190.11 L53.00 190.50 L54.00 190.90 L55.00 191.34 L56.00 191.85 L57.00 192.42 L58.00 193.06 L59.00 193.75 L60.00 194.45 L61.00 195.17 L62.00 195.93 L63.00 196.72 L64.00 197.56 L65.00 198.43 L66.00 199.32 L67.00 200.21 L68.00 201.10 L69.00 202.00 L70.00 202.90 L71.00 203.80 L72.00 204.71 L73.00 205.60 L74.00 206.48 L75.00 207.32 L76.00 208.12 L77.00 208.86 L78.00 209.58 L79.00 210.28 L80.00 210.96 L81.00 211.60 L82.00 212.21 L83.00 212.77 L84.00 213.29 L85.00 213.79 L86.00 214.27 L87.00 214.70 L88.00 215.05 L89.00 215.30 L90.00 215.47 L91.00 215.60 L92.00 215.71 L93.00 215.81 L94.00 215.91 L95.00 215.99 L96.00 216.04 L97.00 216.04 L98.00 215.98 L99.00 215.88 L100.00 215.75 L101.00 215.61 L102.00 215.46 L103.00 215.30 L104.00 215.13 L105.00 214.95 L106.00 214.76 L107.00 214.57 L108.00 214.35 L109.00 214.11 L110.00 213.81 L111.00 213.46 L112.00 213.07 L113.00 212.67 L114.00 212.24 L115.00 211.78 L116.00 211.25 L117.00 210.66 L118.00 210.00 L119.00 209.31 L120.00 208.60 L121.00 207.86 L122.00 207.07 L123.00 206.21 L124.00 205.29 L125.00 204.33 L126.00 203.36 L127.00 202.39 L128.00 201.45 L129.00 200.54 L130.00 199.68 L131.00 198.84 L132.00 198.03 L133.00 197.23 L134.00 196.46 L135.00 195.75 L136.00 195.11 L137.00 194.52 L138.00 193.98 L139.00 193.47 L140.00 192.99 L141.00 192.55 L142.00 192.15 L143.00 191.77 L144.00 191.40 L145.00 191.07 L146.00 190.78 L147.00 190.55 L148.00 190.39 L149.00 190.27 L150.00 190.17 L151.00 190.08 L152.00 190.00 L153.00 189.95 L154.00 189.92 L155.00 189.91 L156.00 189.90 L157.00 189.90 L158.00 189.91 L159.00 189.93 L160.00 189.97 L161.00 190.02 L162.00 190.08 L163.00 190.14 L164.00 190.21 L165.00 190.28 L166.00 190.36 L167.00 190.45 L168.00 190.54 L169.00 190.63 L170.00 190.72 L171.00 190.80 L172.00 190.88 L173.00 190.94 L174.00 190.99 L175.00 191.04 L176.00 191.09 L177.00 191.12 L178.00 191.13 L179.00 191.11 L180.00 191.06 L181.00 191.00 L182.00 190.94 L183.00 190.87 L184.00 190.81 L185.00 190.76 L186.00 190.72 L187.00 190.71 L188.00 190.70 L189.00 190.70 L190.00 190.70 L191.00 190.71 L192.00 190.73 L193.00 190.77 L194.00 190.83 L195.00 190.92 L196.00 191.01 L197.00 191.12 L198.00 191.23 L199.00 191.35 L200.00 191.51 L201.00 191.71 L202.00 191.98 L203.00 192.28 L204.00 192.61 L205.00 192.95 L206.00 193.31 L207.00 193.71 L208.00 194.14 L209.00 194.61 L210.00 195.10 L211.00 195.61 L212.00 196.12 L213.00 196.65 L214.00 197.21 L215.00 197.79 L216.00 198.39 L217.00 199.00 L218.00 199.61 L219.00 200.24 L220.00 200.88 L221.00 201.55 L222.00 202.23 L223.00 202.92 L224.00 203.61 L225.00 204.31 L226.00 205.00" fill="none" stroke="#000" stroke-width="1.55" stroke-linejoin="round" stroke-linecap="round"/>
</g>
<rect x="28.50" y="154.50" width="198.00" height="94.00" fill="none" stroke="#a0a0a0" stroke-width="1.00"/>
<line x1="28.50" y1="177.30" x2="30.50" y2="177.30" stroke="#888" stroke-width="0.8"/>
<line x1="224.50" y1="177.30" x2="226.50" y2="177.30" stroke="#888" stroke-width="0.8"/>
<text x="26.20" y="179.70" font-size="6.70" fill="#444" text-anchor="end">5</text>
<line x1="28.50" y1="200.80" x2="30.50" y2="200.80" stroke="#888" stroke-width="0.8"/>
<line x1="224.50" y1="200.80" x2="226.50" y2="200.80" stroke="#888" stroke-width="0.8"/>
<text x="26.20" y="203.20" font-size="6.70" fill="#444" text-anchor="end">0</text>
<line x1="28.50" y1="224.30" x2="30.50" y2="224.30" stroke="#888" stroke-width="0.8"/>
<line x1="224.50" y1="224.30" x2="226.50" y2="224.30" stroke="#888" stroke-width="0.8"/>
<text x="26.20" y="226.70" font-size="6.70" fill="#444" text-anchor="end">-5</text>
<line x1="28.50" y1="247.80" x2="30.50" y2="247.80" stroke="#888" stroke-width="0.8"/>
<line x1="224.50" y1="247.80" x2="226.50" y2="247.80" stroke="#888" stroke-width="0.8"/>
<text x="26.20" y="250.20" font-size="6.70" fill="#444" text-anchor="end">-10</text>
<line x1="89.50" y1="246.50" x2="89.50" y2="248.50" stroke="#888" stroke-width="0.8"/>
<line x1="89.50" y1="154.50" x2="89.50" y2="156.50" stroke="#888" stroke-width="0.8"/>
<line x1="127.90" y1="246.50" x2="127.90" y2="248.50" stroke="#888" stroke-width="0.8"/>
<line x1="127.90" y1="154.50" x2="127.90" y2="156.50" stroke="#888" stroke-width="0.8"/>
<text x="89.80" y="258.20" font-size="6.70" fill="#444" text-anchor="middle">T<tspan font-size="4.4" dy="2.3">r</tspan><tspan dy="-2.3"> - 5s</tspan></text>
<text x="128.20" y="258.20" font-size="6.70" fill="#444" text-anchor="middle">T<tspan font-size="4.4" dy="2.3">r</tspan><tspan dy="-2.3"> = 0</tspan></text>
<text x="127.50" y="269.40" font-size="7.10" fill="#444" text-anchor="middle">Relative time</text>
<text transform="translate(13.50 201.50) rotate(-90)" font-size="7.10" fill="#444" text-anchor="middle">Normalized amplitude</text>
<text transform="translate(97.80 157.00) rotate(-90)" font-size="6.75" fill="#444" text-anchor="end">Button Press</text>
<text transform="translate(136.20 157.00) rotate(-90)" font-size="6.75" fill="#444" text-anchor="end">Screenshot start</text>
<text x="127.50" y="151.00" font-size="7.15" font-weight="bold" class="t" fill="#000" text-anchor="middle">Language (Broca)</text>
<clipPath id="c4"><rect x="266.50" y="154.50" width="198.00" height="94.00"/></clipPath>
<g clip-path="url(#c4)">
<path d="M266.0 156.1 L268.0 156.1 L270.0 156.1 L272.0 156.1 L274.0 156.2 L276.0 156.4 L278.0 157.0 L280.0 158.0 L282.0 159.6 L284.0 161.6 L286.0 163.9 L288.0 166.6 L290.0 169.6 L292.0 173.1 L294.0 176.8 L296.0 180.9 L298.0 185.4 L300.0 190.1 L302.0 194.9 L304.0 199.5 L306.0 203.9 L308.0 208.1 L310.0 212.2 L312.0 216.2 L314.0 220.2 L316.0 224.2 L318.0 228.1 L320.0 231.8 L322.0 235.1 L324.0 238.1 L326.0 240.5 L328.0 242.5 L330.0 243.9 L332.0 245.0 L334.0 245.9 L336.0 246.7 L338.0 247.5 L338.2 247.6" fill="none" stroke="#dcdcdc" stroke-width="0.85"/>
<path d="M266.0 168.9 L268.0 169.2 L270.0 169.5 L272.0 169.8 L274.0 170.0 L276.0 170.4 L278.0 170.7 L280.0 171.3 L282.0 172.0 L284.0 173.0 L286.0 174.1 L288.0 175.4 L290.0 176.9 L292.0 178.6 L294.0 180.7 L296.0 183.1 L298.0 185.6 L300.0 188.3 L302.0 191.1 L304.0 194.0 L306.0 196.9 L308.0 199.7 L310.0 202.5 L312.0 205.0 L314.0 207.5 L316.0 209.6 L318.0 211.5 L320.0 213.0 L322.0 214.4 L324.0 215.5 L326.0 216.6 L328.0 217.4 L330.0 218.0 L332.0 218.5 L334.0 218.9 L336.0 219.2 L338.0 219.4 L340.0 219.6 L342.0 219.6 L344.0 219.4 L346.0 219.2 L348.0 218.9 L350.0 218.6 L352.0 218.2 L354.0 217.6 L356.0 216.7 L358.0 215.5 L360.0 214.1 L362.0 212.5 L364.0 210.9 L366.0 209.3" fill="none" stroke="#dcdcdc" stroke-width="0.85"/>
<path d="M266.0 177.4 L268.0 177.7 L270.0 177.9 L272.0 178.2 L274.0 178.4 L276.0 178.7 L278.0 178.9 L280.0 179.2 L282.0 179.7 L284.0 180.3 L286.0 181.1 L288.0 182.0 L290.0 183.0 L292.0 184.0 L294.0 185.0 L296.0 186.0 L298.0 187.0 L300.0 188.0 L302.0 188.9 L304.0 189.6 L306.0 190.2 L308.0 190.6 L310.0 191.0 L312.0 191.5 L314.0 192.3 L316.0 193.4 L318.0 194.6 L320.0 196.0 L322.0 197.6 L324.0 199.3 L326.0 201.1 L328.0 202.8 L330.0 204.2 L332.0 205.2 L334.0 205.8 L336.0 206.2 L338.0 206.6 L340.0 206.8 L342.0 206.8 L344.0 206.6 L346.0 206.4 L348.0 206.1 L350.0 205.8 L352.0 205.5 L354.0 205.2 L356.0 204.9 L358.0 204.5 L360.0 204.1 L362.0 203.7 L364.0 203.3 L366.0 202.9" fill="none" stroke="#dcdcdc" stroke-width="0.85"/>
<path d="M266.0 194.4 L268.0 194.8 L270.0 195.1 L272.0 195.4 L274.0 195.8 L276.0 196.1 L278.0 196.4 L280.0 196.8 L282.0 197.1 L284.0 197.4 L286.0 197.8 L288.0 198.1 L290.0 198.6 L292.0 199.1 L294.0 199.7 L296.0 200.5 L298.0 201.3 L300.0 202.2 L302.0 203.1 L304.0 204.1 L306.0 205.3 L308.0 206.4 L310.0 207.6 L312.0 208.8 L314.0 210.0 L316.0 211.2 L318.0 212.4 L320.0 213.7 L322.0 214.9 L324.0 216.3 L326.0 217.7 L328.0 219.1 L330.0 220.5 L332.0 221.8 L334.0 223.0 L336.0 224.0 L338.0 224.9 L340.0 225.5 L342.0 225.7 L344.0 225.6 L346.0 225.4 L348.0 225.1 L350.0 224.7 L352.0 224.2 L354.0 223.5 L356.0 222.7 L358.0 221.8 L360.0 220.8 L362.0 219.8 L364.0 218.8 L366.0 217.8" fill="none" stroke="#dcdcdc" stroke-width="0.85"/>
<path d="M266.0 202.9 L268.0 202.3 L270.0 201.6 L272.0 200.9 L274.0 200.3 L276.0 199.7 L278.0 199.4 L280.0 199.2 L282.0 199.3 L284.0 199.6 L286.0 199.9 L288.0 200.3 L290.0 200.8 L292.0 201.6 L294.0 202.6 L296.0 203.8 L298.0 205.1 L300.0 206.5 L302.0 207.8 L304.0 209.3 L306.0 210.8 L308.0 212.3 L310.0 213.9 L312.0 215.5 L314.0 217.2 L316.0 219.0 L318.0 220.9 L320.0 222.9 L322.0 224.7 L324.0 226.5 L326.0 228.2 L328.0 229.7 L330.0 231.1 L332.0 232.3 L334.0 233.4 L336.0 234.3 L338.0 235.1 L340.0 235.8 L342.0 236.2 L344.0 236.4 L346.0 236.3 L348.0 236.0 L350.0 235.7 L352.0 235.3 L354.0 234.7 L356.0 233.8 L358.0 232.5 L360.0 231.1 L362.0 229.5 L364.0 227.9 L366.0 226.3" fill="none" stroke="#dcdcdc" stroke-width="0.85"/>
<path d="M266.0 209.3 L268.0 208.8 L270.0 208.3 L272.0 207.8 L274.0 207.3 L276.0 206.8 L278.0 206.3 L280.0 205.9 L282.0 205.5 L284.0 205.3 L286.0 205.1 L288.0 205.1 L290.0 205.1 L292.0 205.1 L294.0 205.1 L296.0 205.3 L298.0 205.8 L300.0 206.6 L302.0 207.6 L304.0 208.7 L306.0 210.0 L308.0 211.3 L310.0 212.7 L312.0 214.2 L314.0 215.8 L316.0 217.3 L318.0 218.8 L320.0 220.1 L322.0 221.3 L324.0 222.3 L326.0 223.1 L328.0 223.7 L330.0 224.0 L332.0 224.2 L334.0 224.2 L336.0 224.3 L338.0 224.4 L340.0 224.6 L342.0 224.8 L344.0 225.2 L346.0 225.5 L348.0 225.9 L350.0 226.2 L352.0 226.7 L354.0 227.2 L356.0 227.7 L358.0 228.3 L360.0 228.9 L362.0 229.5 L364.0 230.0 L366.0 230.6" fill="none" stroke="#dcdcdc" stroke-width="0.85"/>
<path d="M266.0 181.7 L268.0 181.9 L270.0 182.2 L272.0 182.5 L274.0 182.8 L276.0 183.1 L278.0 183.5 L280.0 184.1 L282.0 184.9 L284.0 186.0 L286.0 187.2 L288.0 188.5 L290.0 189.9 L292.0 191.5 L294.0 193.3 L296.0 195.3 L298.0 197.6 L300.0 199.9 L302.0 202.4 L304.0 205.0 L306.0 207.8 L308.0 210.6 L310.0 213.5 L312.0 216.4 L314.0 219.1 L316.0 221.6 L318.0 224.0 L320.0 226.4 L322.0 228.7 L324.0 231.0 L326.0 233.1 L328.0 235.1 L330.0 237.1 L332.0 238.9 L334.0 240.4 L336.0 241.6 L338.0 242.4 L340.0 243.2 L342.0 243.8 L344.0 244.4 L346.0 244.8 L348.0 244.9 L350.0 244.9 L352.0 244.6 L354.0 244.3 L356.0 244.0 L358.0 243.6 L359.5 243.4" fill="none" stroke="#dcdcdc" stroke-width="0.85"/>
<path d="M266.0 196.6 L268.0 196.3 L270.0 196.1 L272.0 195.8 L274.0 195.6 L276.0 195.3 L278.0 195.0 L280.0 194.8 L282.0 194.4 L284.0 193.9 L286.0 193.4 L288.0 192.8 L290.0 192.1 L292.0 191.5 L294.0 190.9 L296.0 190.5 L298.0 190.3 L300.0 190.2 L302.0 190.2 L304.0 190.4 L306.0 190.8 L308.0 191.5 L310.0 192.4 L312.0 193.5 L314.0 194.8 L316.0 196.1 L318.0 197.5 L320.0 199.0 L322.0 200.5 L324.0 202.0 L326.0 203.5 L328.0 204.8 L330.0 205.8 L332.0 206.7 L334.0 207.6 L336.0 208.3 L338.0 208.9 L340.0 209.5 L342.0 209.9 L344.0 210.2 L346.0 210.5 L348.0 210.7 L350.0 210.6 L352.0 210.0 L354.0 209.0 L356.0 207.5 L358.0 205.6 L360.0 203.0 L362.0 199.8 L364.0 196.2 L366.0 192.3" fill="none" stroke="#dcdcdc" stroke-width="0.85"/>
<path d="M266.0 192.3 L268.0 192.3 L270.0 192.3 L272.0 192.3 L274.0 192.3 L276.0 192.4 L278.0 192.5 L280.0 192.7 L282.0 193.0 L284.0 193.4 L286.0 193.7 L288.0 194.1 L290.0 194.5 L292.0 194.9 L294.0 195.4 L296.0 195.8 L298.0 196.4 L300.0 197.3 L302.0 198.5 L304.0 199.9 L306.0 201.5 L308.0 203.2 L310.0 204.8 L312.0 206.3 L314.0 207.7 L316.0 209.1 L318.0 210.3 L320.0 211.4 L322.0 212.5 L324.0 213.3 L326.0 214.0 L328.0 214.4 L330.0 214.8 L332.0 215.1 L334.0 215.3 L336.0 215.3 L338.0 215.1 L340.0 214.8 L342.0 214.6 L344.0 214.2 L346.0 213.8 L348.0 213.1 L350.0 211.9 L352.0 210.3 L354.0 208.5 L356.0 206.4 L358.0 204.2 L360.0 201.8 L362.0 199.4 L364.0 196.9 L366.0 194.4" fill="none" stroke="#dcdcdc" stroke-width="0.85"/>
<path d="M364.0 185.9 L366.0 182.3 L368.0 178.7 L370.0 175.2 L372.0 171.9 L374.0 168.9 L376.0 166.6 L378.0 164.7 L380.0 163.2 L382.0 161.9 L384.0 160.6 L386.0 159.6 L388.0 158.8 L390.0 158.3 L392.0 158.0 L394.0 157.8 L396.0 157.6 L398.0 157.5 L400.0 157.5 L402.0 157.5 L404.0 157.7 L406.0 158.0 L408.0 158.4 L410.0 158.8 L412.0 159.3 L414.0 159.7 L416.0 160.1 L418.0 160.5 L420.0 160.9 L422.0 161.4 L424.0 161.8 L426.0 162.3 L428.0 162.9 L430.0 163.7 L432.0 164.7 L434.0 166.0 L436.0 167.6 L438.0 169.8 L440.0 172.5 L442.0 175.6 L444.0 179.1 L446.0 183.1 L448.0 187.6 L450.0 192.3 L452.0 196.8 L454.0 201.0 L456.0 204.7 L458.0 208.2 L460.0 211.4 L462.0 214.6 L464.0 217.8" fill="none" stroke="#dcdcdc" stroke-width="0.85"/>
<path d="M364.0 205.1 L366.0 201.4 L368.0 197.7 L370.0 194.1 L372.0 190.5 L374.0 187.1 L376.0 184.0 L378.0 181.5 L380.0 179.6 L382.0 178.0 L384.0 176.5 L386.0 175.1 L388.0 173.7 L390.0 172.4 L392.0 171.4 L394.0 170.5 L396.0 169.8 L398.0 169.2 L400.0 168.6 L402.0 168.1 L404.0 167.6 L406.0 167.2 L408.0 166.9 L410.0 166.8 L412.0 166.8 L414.0 166.8 L416.0 166.8 L418.0 166.8 L420.0 167.0 L422.0 167.3 L424.0 167.7 L426.0 168.3 L428.0 169.0 L430.0 169.7 L432.0 170.6 L434.0 171.7 L436.0 173.1 L438.0 174.9 L440.0 176.9 L442.0 179.0 L444.0 181.4 L446.0 184.2 L448.0 187.3 L450.0 190.6 L452.0 193.7 L454.0 196.5 L456.0 199.0 L458.0 201.1 L460.0 203.2 L462.0 205.2 L464.0 207.2" fill="none" stroke="#dcdcdc" stroke-width="0.85"/>
<path d="M364.0 217.8 L366.0 214.8 L368.0 211.8 L370.0 208.8 L372.0 205.9 L374.0 203.0 L376.0 200.3 L378.0 197.8 L380.0 195.6 L382.0 193.5 L384.0 191.5 L386.0 189.6 L388.0 187.9 L390.0 186.5 L392.0 185.6 L394.0 184.9 L396.0 184.3 L398.0 183.8 L400.0 183.3 L402.0 182.8 L404.0 182.3 L406.0 181.9 L408.0 181.6 L410.0 181.3 L412.0 181.0 L414.0 180.7 L416.0 180.5 L418.0 180.2 L420.0 180.0 L422.0 179.7 L424.0 179.5 L426.0 179.2 L428.0 178.9 L430.0 178.6 L432.0 178.3 L434.0 178.1 L436.0 177.8 L438.0 177.6 L440.0 177.5 L442.0 177.4 L444.0 177.4 L446.0 177.4 L448.0 177.4 L450.0 177.4 L452.0 177.4 L454.0 177.4 L456.0 177.4 L458.0 177.4 L460.0 177.4 L462.0 177.4 L464.0 177.4" fill="none" stroke="#dcdcdc" stroke-width="0.85"/>
<path d="M364.0 222.1 L366.0 220.3 L368.0 218.6 L370.0 216.8 L372.0 215.1 L374.0 213.3 L376.0 211.6 L378.0 209.9 L380.0 208.2 L382.0 206.6 L384.0 205.1 L386.0 203.6 L388.0 202.2 L390.0 200.8 L392.0 199.4 L394.0 198.1 L396.0 197.1 L398.0 196.2 L400.0 195.6 L402.0 195.0 L404.0 194.5 L406.0 194.0 L408.0 193.6 L410.0 193.1 L412.0 192.8 L414.0 192.7 L416.0 192.8 L418.0 193.0 L420.0 193.3 L422.0 193.6 L424.0 193.9 L426.0 194.4 L428.0 195.0 L430.0 195.9 L432.0 197.0 L434.0 198.2 L436.0 199.6 L438.0 201.4 L440.0 203.6 L442.0 206.2 L444.0 209.1 L446.0 211.9 L448.0 214.7 L450.0 217.3 L452.0 219.7 L454.0 222.1 L456.0 224.1 L458.0 225.9 L460.0 227.6 L462.0 229.1 L464.0 230.6" fill="none" stroke="#dcdcdc" stroke-width="0.85"/>
<path d="M364.0 226.3 L366.0 224.9 L368.0 223.5 L370.0 222.1 L372.0 220.7 L374.0 219.3 L376.0 217.9 L378.0 216.5 L380.0 215.1 L382.0 213.8 L384.0 212.5 L386.0 211.3 L388.0 210.1 L390.0 209.1 L392.0 208.1 L394.0 207.1 L396.0 206.1 L398.0 205.1 L400.0 204.2 L402.0 203.5 L404.0 202.9 L406.0 202.5 L408.0 202.2 L410.0 202.0 L412.0 201.7 L414.0 201.5 L416.0 201.3 L418.0 201.2 L420.0 201.2 L422.0 201.3 L424.0 201.6 L426.0 201.9 L428.0 202.3 L430.0 202.7 L432.0 203.2 L434.0 203.8 L436.0 204.5 L438.0 205.4 L440.0 206.3 L442.0 207.4 L444.0 208.9 L446.0 210.6 L448.0 212.7 L450.0 215.2 L452.0 218.1 L454.0 221.6 L456.0 225.5 L458.0 229.7 L460.0 234.2 L462.0 238.7 L464.0 243.4" fill="none" stroke="#dcdcdc" stroke-width="0.85"/>
<path d="M368.3 196.6 L370.3 196.3 L372.3 196.1 L374.3 195.8 L376.3 195.6 L378.3 195.3 L380.3 195.1 L382.3 194.8 L384.3 194.6 L386.3 194.3 L388.3 194.1 L390.3 193.8 L392.3 193.6 L394.3 193.3 L396.3 193.1 L398.3 192.8 L400.3 192.6 L402.3 192.3 L404.3 192.1 L406.3 191.8 L408.3 191.6 L410.3 191.3 L412.3 191.1 L414.3 190.8 L416.3 190.5 L418.3 190.3 L420.3 190.0 L422.3 189.7 L424.3 189.5 L426.3 189.2 L428.3 188.9 L430.3 188.6 L432.3 188.2 L434.3 187.8 L436.3 187.3 L438.3 186.7 L440.3 186.0 L442.3 185.4 L444.3 184.9 L446.3 184.5 L448.3 184.4 L450.3 184.6 L452.3 184.9 L454.3 185.3 L456.3 185.9 L458.3 186.8 L460.3 187.8 L462.3 189.0 L463.8 190.0" fill="none" stroke="#dcdcdc" stroke-width="0.85"/>
<path d="M364.0 211.4 L366.0 210.6 L368.0 209.8 L370.0 209.0 L372.0 208.2 L374.0 207.4 L376.0 206.6 L378.0 205.8 L380.0 205.1 L382.0 204.3 L384.0 203.6 L386.0 203.0 L388.0 202.5 L390.0 202.0 L392.0 201.6 L394.0 201.2 L396.0 200.8 L398.0 200.4 L400.0 200.0 L402.0 199.6 L404.0 199.3 L406.0 199.1 L408.0 199.0 L410.0 199.1 L412.0 199.3 L414.0 199.5 L416.0 199.7 L418.0 200.0 L420.0 200.2 L422.0 200.3 L424.0 200.4 L426.0 200.2 L428.0 199.9 L430.0 199.3 L432.0 198.7 L434.0 198.0 L436.0 197.3 L438.0 196.4 L440.0 195.5 L442.0 194.4 L444.0 193.3 L446.0 192.2 L448.0 191.4 L450.0 191.1 L452.0 191.1 L454.0 191.5 L456.0 192.1 L458.0 193.0 L460.0 194.0 L462.0 195.3 L464.0 196.6" fill="none" stroke="#dcdcdc" stroke-width="0.85"/>
<path d="M364.0 234.9 L366.0 231.5 L368.0 228.2 L370.0 224.9 L372.0 221.6 L374.0 218.5 L376.0 215.7 L378.0 213.3 L380.0 211.5 L382.0 209.9 L384.0 208.4 L386.0 207.0 L388.0 205.6 L390.0 204.3 L392.0 203.2 L394.0 202.2 L396.0 201.3 L398.0 200.6 L400.0 199.8 L402.0 199.1 L404.0 198.3 L406.0 197.6 L408.0 196.9 L410.0 196.2 L412.0 195.6 L414.0 195.0 L416.0 194.5 L418.0 193.9 L420.0 193.4 L422.0 193.1 L424.0 193.1 L426.0 193.3 L428.0 193.8 L430.0 194.5 L432.0 195.2 L434.0 196.0 L436.0 197.1 L438.0 198.6 L440.0 200.3 L442.0 202.3 L444.0 204.3 L446.0 206.6 L448.0 209.1 L450.0 211.8 L452.0 214.6 L454.0 217.1 L456.0 219.3 L458.0 220.9 L460.0 222.1 L462.0 223.2 L464.0 224.2" fill="none" stroke="#dcdcdc" stroke-width="0.85"/>
<path d="M370.4 179.5 L372.4 179.0 L374.4 178.4 L376.4 177.8 L378.4 177.2 L380.4 176.7 L382.4 176.2 L384.4 175.8 L386.4 175.5 L388.4 175.3 L390.4 175.3 L392.4 175.3 L394.4 175.3 L396.4 175.3 L398.4 175.3 L400.4 175.5 L402.4 175.7 L404.4 175.9 L406.4 176.2 L408.4 176.5 L410.4 176.8 L412.4 177.1 L414.4 177.5 L416.4 178.0 L418.4 178.5 L420.4 179.2 L422.4 179.9 L424.4 180.6 L426.4 181.3 L428.4 182.2 L430.4 183.3 L432.4 184.4 L434.4 185.7 L436.4 187.1 L438.4 188.9 L440.4 191.1 L442.4 193.6 L444.4 196.4 L446.4 199.5 L448.4 202.9 L450.4 206.9 L452.4 211.3 L454.4 216.1 L456.4 221.0 L458.4 225.9 L460.4 230.6 L462.4 235.3 L463.9 238.8" fill="none" stroke="#dcdcdc" stroke-width="0.85"/>
<path d="M320.0 193.3 L322.0 195.0 L324.0 196.6 L326.0 198.3 L328.0 199.8 L330.0 201.1 L332.0 202.2 L334.0 203.0 L336.0 203.7 L338.0 204.3 L340.0 204.6 L342.0 204.7 L344.0 204.6 L346.0 204.3 L348.0 203.8 L350.0 203.1 L352.0 202.1 L354.0 200.7 L356.0 199.2 L358.0 197.6 L360.0 196.0 L362.0 194.5 L364.0 193.1 L366.0 191.7 L368.0 190.4 L370.0 189.1 L372.0 187.8 L374.0 186.6 L376.0 185.4 L378.0 184.2 L380.0 183.1" fill="none" stroke="#dcdcdc" stroke-width="0.85"/>
<path d="M320.0 201.9 L322.0 202.5 L324.0 203.2 L326.0 203.8 L328.0 204.5 L330.0 205.0 L332.0 205.4 L334.0 205.8 L336.0 206.1 L338.0 206.4 L340.0 206.6 L342.0 206.6 L344.0 206.6 L346.0 206.4 L348.0 206.2 L350.0 205.9 L352.0 205.5 L354.0 205.1 L356.0 204.6 L358.0 204.0 L360.0 203.3 L362.0 202.6 L364.0 201.7 L366.0 200.6 L368.0 199.4 L370.0 198.1 L372.0 196.8 L374.0 195.5 L376.0 194.2 L378.0 192.9 L380.0 191.6" fill="none" stroke="#dcdcdc" stroke-width="0.85"/>
<path d="M320.0 208.7 L322.0 208.7 L324.0 208.7 L326.0 208.7 L328.0 208.7 L330.0 208.6 L332.0 208.4 L334.0 208.0 L336.0 207.5 L338.0 207.0 L340.0 206.4 L342.0 205.7 L344.0 205.0 L346.0 204.2 L348.0 203.2 L350.0 202.2 L352.0 201.2 L354.0 200.1 L356.0 199.0 L358.0 197.9 L360.0 196.8 L362.0 196.0 L364.0 195.4 L366.0 195.2 L368.0 195.1 L370.0 195.3 L372.0 195.6 L374.0 196.2 L376.0 196.9 L378.0 197.7 L380.0 198.4" fill="none" stroke="#dcdcdc" stroke-width="0.85"/>
<path d="M320.0 219.0 L322.0 219.3 L324.0 219.6 L326.0 220.0 L328.0 220.3 L330.0 220.6 L332.0 220.9 L334.0 221.2 L336.0 221.5 L338.0 221.7 L340.0 221.9 L342.0 221.9 L344.0 221.6 L346.0 221.2 L348.0 220.7 L350.0 220.1 L352.0 219.4 L354.0 218.4 L356.0 217.2 L358.0 215.7 L360.0 214.1 L362.0 212.5 L364.0 210.8 L366.0 209.2 L368.0 207.6 L370.0 206.0 L372.0 204.6 L374.0 203.3 L376.0 202.2 L378.0 201.1 L380.0 200.2" fill="none" stroke="#dcdcdc" stroke-width="0.85"/>
<path d="M320.0 225.8 L322.0 226.1 L324.0 226.5 L326.0 226.8 L328.0 227.0 L330.0 227.1 L332.0 227.1 L334.0 227.0 L336.0 226.8 L338.0 226.5 L340.0 226.2 L342.0 225.8 L344.0 225.1 L346.0 224.2 L348.0 223.0 L350.0 221.7 L352.0 220.1 L354.0 218.3 L356.0 216.2 L358.0 213.8 L360.0 211.2 L362.0 208.6 L364.0 206.0 L366.0 203.6 L368.0 201.2 L370.0 198.8 L372.0 196.4 L374.0 194.0 L376.0 191.6 L378.0 189.0 L380.0 186.5" fill="none" stroke="#dcdcdc" stroke-width="0.85"/>
<path d="M320.0 232.6 L322.0 232.9 L324.0 233.1 L326.0 233.4 L328.0 233.6 L330.0 233.8 L332.0 234.0 L334.0 234.0 L336.0 234.0 L338.0 233.8 L340.0 233.5 L342.0 233.3 L344.0 232.9 L346.0 232.5 L348.0 231.7 L350.0 230.7 L352.0 229.5 L354.0 228.1 L356.0 226.7 L358.0 225.1 L360.0 223.3 L362.0 221.4 L364.0 219.4 L366.0 217.4 L368.0 215.4 L370.0 213.4 L372.0 211.5 L374.0 209.7 L376.0 208.1 L378.0 206.6 L380.0 205.3" fill="none" stroke="#dcdcdc" stroke-width="0.85"/>
<path d="M320.0 205.3 L322.0 206.3 L324.0 207.3 L326.0 208.3 L328.0 209.3 L330.0 210.5 L332.0 211.7 L334.0 212.9 L336.0 214.2 L338.0 215.5 L340.0 216.7 L342.0 217.9 L344.0 219.0 L346.0 220.0 L348.0 220.9 L350.0 221.7 L352.0 222.4 L354.0 222.8 L356.0 223.2 L358.0 223.4 L360.0 223.4 L362.0 223.1 L364.0 222.4 L366.0 221.5 L368.0 220.5 L370.0 219.4 L372.0 218.1 L374.0 216.7 L376.0 215.2 L378.0 213.7 L380.0 212.1" fill="none" stroke="#dcdcdc" stroke-width="0.85"/>
<path d="M404.0 164.3 L406.0 163.8 L408.0 163.3 L410.0 162.8 L412.0 162.3 L414.0 161.9 L416.0 161.6 L418.0 161.4 L420.0 161.3 L422.0 161.3 L424.0 161.6 L426.0 162.3 L428.0 163.3 L430.0 164.6 L432.0 166.1 L434.0 168.1 L436.0 170.6 L438.0 173.7 L440.0 177.3 L442.0 181.4 L444.0 185.9 L446.0 190.5 L448.0 195.1 L450.0 199.5 L452.0 203.7 L454.0 207.5 L456.0 211.0 L458.0 214.3 L460.0 217.5 L462.0 220.5" fill="none" stroke="#dcdcdc" stroke-width="0.85"/>
<path d="M404.0 174.5 L406.0 174.2 L408.0 173.9 L410.0 173.7 L412.0 173.4 L414.0 173.1 L416.0 172.8 L418.0 172.5 L420.0 172.2 L422.0 172.0 L424.0 171.7 L426.0 171.7 L428.0 171.9 L430.0 172.4 L432.0 173.2 L434.0 174.2 L436.0 175.5 L438.0 177.1 L440.0 179.2 L442.0 181.7 L444.0 184.6 L446.0 187.7 L448.0 191.1 L450.0 194.8 L452.0 198.7 L454.0 202.7 L456.0 206.7 L458.0 210.5 L460.0 214.1 L462.0 217.5 L464.0 220.7" fill="none" stroke="#dcdcdc" stroke-width="0.85"/>
<path d="M404.0 195.0 L406.0 195.0 L408.0 195.0 L410.0 195.0 L412.0 195.0 L414.0 195.0 L416.0 195.1 L418.0 195.2 L420.0 195.4 L422.0 195.7 L424.0 195.9 L426.0 196.2 L428.0 196.6 L430.0 197.0 L432.0 197.5 L434.0 198.0 L436.0 198.6 L438.0 199.2 L440.0 200.0 L442.0 201.0 L444.0 202.3 L446.0 203.8 L448.0 205.5 L450.0 207.4 L452.0 209.5 L454.0 211.8 L456.0 214.1 L458.0 216.3 L460.0 218.4 L462.0 220.4 L464.0 222.4" fill="none" stroke="#dcdcdc" stroke-width="0.85"/>
<path d="M404.0 198.4 L406.0 198.7 L408.0 199.0 L410.0 199.3 L412.0 199.6 L414.0 199.9 L416.0 200.3 L418.0 200.8 L420.0 201.3 L422.0 201.9 L424.0 202.5 L426.0 203.2 L428.0 204.0 L430.0 205.0 L432.0 206.1 L434.0 207.5 L436.0 209.3 L438.0 211.5 L440.0 214.1 L442.0 216.9 L444.0 219.6 L446.0 222.2 L448.0 224.6 L450.0 226.8 L452.0 228.8 L454.0 230.5 L456.0 232.1 L458.0 233.6 L460.0 235.1 L462.0 236.4 L464.0 237.8" fill="none" stroke="#dcdcdc" stroke-width="0.85"/>
<path d="M404.0 203.6 L406.0 203.8 L408.0 204.1 L410.0 204.3 L412.0 204.6 L414.0 204.8 L416.0 205.0 L418.0 205.2 L420.0 205.2 L422.0 205.3 L424.0 205.3 L426.0 205.4 L428.0 205.6 L430.0 206.1 L432.0 206.9 L434.0 208.0 L436.0 209.4 L438.0 211.0 L440.0 213.0 L442.0 215.2 L444.0 217.4 L446.0 219.4 L448.0 221.2 L450.0 222.8 L452.0 224.2 L454.0 225.2 L456.0 226.0 L458.0 226.5 L460.0 226.8 L462.0 227.2 L464.0 227.5" fill="none" stroke="#dcdcdc" stroke-width="0.85"/>
<path d="M404.0 184.8 L406.0 185.1 L408.0 185.3 L410.0 185.6 L412.0 185.9 L414.0 186.2 L416.0 186.5 L418.0 186.8 L420.0 187.1 L422.0 187.3 L424.0 187.7 L426.0 188.0 L428.0 188.4 L430.0 189.0 L432.0 189.6 L434.0 190.2 L436.0 190.8 L438.0 191.4 L440.0 191.9 L442.0 192.3 L444.0 192.6 L446.0 192.8 L448.0 192.8 L450.0 192.6 L452.0 192.2 L454.0 191.9 L456.0 191.5 L458.0 191.1 L460.0 190.7 L462.0 190.3 L464.0 189.9" fill="none" stroke="#dcdcdc" stroke-width="0.85"/>
<path d="M266.0 171.1 L268.0 171.1 L270.0 171.1 L272.0 171.1 L274.0 171.2 L276.0 171.5 L278.0 171.8 L280.0 172.4 L282.0 173.1 L284.0 173.8 L286.0 174.8 L288.0 176.1 L290.0 177.5 L292.0 179.1 L294.0 180.9 L296.0 182.9 L298.0 185.2 L300.0 187.7 L302.0 190.4 L304.0 193.1 L306.0 195.7 L308.0 198.2 L310.0 200.5 L312.0 202.7 L314.0 204.4 L316.0 205.8 L318.0 206.8 L320.0 207.6 L322.0 208.1 L324.0 208.5 L326.0 208.7" fill="none" stroke="#dcdcdc" stroke-width="0.85"/>
<path d="M266.0 176.2 L268.0 176.5 L270.0 176.8 L272.0 177.1 L274.0 177.4 L276.0 177.8 L278.0 178.3 L280.0 178.9 L282.0 179.7 L284.0 180.5 L286.0 181.5 L288.0 182.5 L290.0 183.8 L292.0 185.4 L294.0 187.2 L296.0 189.2 L298.0 191.3 L300.0 193.6 L302.0 196.1 L304.0 198.7 L306.0 201.5 L308.0 204.3 L310.0 207.0 L312.0 209.8 L314.0 212.5 L316.0 214.9 L318.0 217.0 L320.0 218.6 L322.0 220.0 L324.0 221.2 L326.0 222.4" fill="none" stroke="#dcdcdc" stroke-width="0.85"/>
<path d="M266.0 195.0 L268.0 195.4 L270.0 195.7 L272.0 196.1 L274.0 196.5 L276.0 197.0 L278.0 197.8 L280.0 198.7 L282.0 199.6 L284.0 200.7 L286.0 201.8 L288.0 203.0 L290.0 204.2 L292.0 205.5 L294.0 206.9 L296.0 208.3 L298.0 209.8 L300.0 211.4 L302.0 213.1 L304.0 214.7 L306.0 216.4 L308.0 218.1 L310.0 219.7 L312.0 221.4 L314.0 223.0 L316.0 224.4 L318.0 225.7 L320.0 226.7 L322.0 227.6 L324.0 228.4 L326.0 229.2" fill="none" stroke="#dcdcdc" stroke-width="0.85"/>
<path d="M266.0 201.9 L268.0 202.4 L270.0 202.9 L272.0 203.4 L274.0 203.9 L276.0 204.4 L278.0 205.0 L280.0 205.6 L282.0 206.3 L284.0 207.2 L286.0 208.0 L288.0 208.9 L290.0 209.9 L292.0 211.1 L294.0 212.5 L296.0 214.1 L298.0 215.8 L300.0 217.6 L302.0 219.5 L304.0 221.6 L306.0 223.9 L308.0 226.3 L310.0 228.7 L312.0 231.1 L314.0 233.5 L316.0 235.8 L318.0 237.9 L320.0 239.9 L322.0 241.6 L324.0 243.1 L326.0 244.6" fill="none" stroke="#dcdcdc" stroke-width="0.85"/>
<path d="M266.0 208.7 L268.0 209.0 L270.0 209.2 L272.0 209.5 L274.0 209.7 L276.0 210.0 L278.0 210.3 L280.0 210.6 L282.0 211.0 L284.0 211.5 L286.0 212.0 L288.0 212.5 L290.0 213.0 L292.0 213.5 L294.0 214.0 L296.0 214.6 L298.0 215.2 L300.0 215.7 L302.0 216.3 L304.0 216.9 L306.0 217.5 L308.0 218.2 L310.0 218.8 L312.0 219.4 L314.0 220.0 L316.0 220.6 L318.0 221.0 L320.0 221.4 L322.0 221.7 L324.0 222.0 L326.0 222.4" fill="none" stroke="#dcdcdc" stroke-width="0.85"/>
<line x1="327.50" y1="154.50" x2="327.50" y2="248.50" stroke="#bdbdbd" stroke-width="0.9" stroke-dasharray="3 2.5"/>
<line x1="365.90" y1="154.50" x2="365.90" y2="248.50" stroke="#bdbdbd" stroke-width="0.9" stroke-dasharray="3 2.5"/>
<path d="M266.00 188.90 L267.00 188.96 L268.00 189.03 L269.00 189.09 L270.00 189.16 L271.00 189.23 L272.00 189.31 L273.00 189.43 L274.00 189.58 L275.00 189.79 L276.00 190.03 L277.00 190.30 L278.00 190.57 L279.00 190.86 L280.00 191.18 L281.00 191.52 L282.00 191.89 L283.00 192.28 L284.00 192.67 L285.00 193.09 L286.00 193.54 L287.00 194.05 L288.00 194.60 L289.00 195.19 L290.00 195.80 L291.00 196.42 L292.00 197.07 L293.00 197.76 L294.00 198.50 L295.00 199.26 L296.00 200.05 L297.00 200.85 L298.00 201.66 L299.00 202.49 L300.00 203.34 L301.00 204.21 L302.00 205.09 L303.00 205.98 L304.00 206.85 L305.00 207.69 L306.00 208.50 L307.00 209.25 L308.00 209.98 L309.00 210.68 L310.00 211.37 L311.00 212.03 L312.00 212.64 L313.00 213.19 L314.00 213.69 L315.00 214.15 L316.00 214.60 L317.00 215.02 L318.00 215.40 L319.00 215.72 L320.00 215.98 L321.00 216.20 L322.00 216.41 L323.00 216.61 L324.00 216.80 L325.00 216.97 L326.00 217.13 L327.00 217.26 L328.00 217.37 L329.00 217.46 L330.00 217.55 L331.00 217.64 L332.00 217.71 L333.00 217.78 L334.00 217.83 L335.00 217.87 L336.00 217.90 L337.00 217.93 L338.00 217.96 L339.00 217.99 L340.00 218.03 L341.00 218.06 L342.00 218.09 L343.00 218.12 L344.00 218.14 L345.00 218.14 L346.00 218.13 L347.00 218.09 L348.00 218.04 L349.00 217.97 L350.00 217.89 L351.00 217.77 L352.00 217.58 L353.00 217.32 L354.00 216.99 L355.00 216.61 L356.00 216.17 L357.00 215.65 L358.00 215.03 L359.00 214.34 L360.00 213.59 L361.00 212.82 L362.00 212.03 L363.00 211.21 L364.00 210.38 L365.00 209.54 L366.00 208.67 L367.00 207.78 L368.00 206.85 L369.00 205.88 L370.00 204.90 L371.00 203.93 L372.00 202.97 L373.00 202.06 L374.00 201.18 L375.00 200.35 L376.00 199.56 L377.00 198.81 L378.00 198.10 L379.00 197.41 L380.00 196.75 L381.00 196.11 L382.00 195.52 L383.00 194.98 L384.00 194.46 L385.00 193.96 L386.00 193.47 L387.00 193.00 L388.00 192.58 L389.00 192.20 L390.00 191.86 L391.00 191.54 L392.00 191.23 L393.00 190.94 L394.00 190.69 L395.00 190.48 L396.00 190.32 L397.00 190.19 L398.00 190.06 L399.00 189.95 L400.00 189.83 L401.00 189.74 L402.00 189.66 L403.00 189.61 L404.00 189.57 L405.00 189.55 L406.00 189.54 L407.00 189.54 L408.00 189.54 L409.00 189.57 L410.00 189.62 L411.00 189.67 L412.00 189.73 L413.00 189.80 L414.00 189.87 L415.00 189.94 L416.00 190.03 L417.00 190.12 L418.00 190.21 L419.00 190.31 L420.00 190.41 L421.00 190.52 L422.00 190.64 L423.00 190.79 L424.00 190.95 L425.00 191.15 L426.00 191.39 L427.00 191.67 L428.00 191.98 L429.00 192.30 L430.00 192.63 L431.00 192.96 L432.00 193.32 L433.00 193.71 L434.00 194.15 L435.00 194.61 L436.00 195.10 L437.00 195.61 L438.00 196.12 L439.00 196.65 L440.00 197.21 L441.00 197.79 L442.00 198.39 L443.00 198.99 L444.00 199.60 L445.00 200.21 L446.00 200.82 L447.00 201.42 L448.00 202.03 L449.00 202.63 L450.00 203.23 L451.00 203.83 L452.00 204.43 L453.00 205.03 L454.00 205.63 L455.00 206.22 L456.00 206.81 L457.00 207.39 L458.00 207.95 L459.00 208.49 L460.00 208.99 L461.00 209.48 L462.00 209.95 L463.00 210.43 L464.00 210.90" fill="none" stroke="#000" stroke-width="1.55" stroke-linejoin="round" stroke-linecap="round"/>
</g>
<rect x="266.50" y="154.50" width="198.00" height="94.00" fill="none" stroke="#a0a0a0" stroke-width="1.00"/>
<line x1="266.50" y1="176.50" x2="268.50" y2="176.50" stroke="#888" stroke-width="0.8"/>
<line x1="462.50" y1="176.50" x2="464.50" y2="176.50" stroke="#888" stroke-width="0.8"/>
<text x="264.20" y="178.90" font-size="6.70" fill="#444" text-anchor="end">5</text>
<line x1="266.50" y1="205.00" x2="268.50" y2="205.00" stroke="#888" stroke-width="0.8"/>
<line x1="462.50" y1="205.00" x2="464.50" y2="205.00" stroke="#888" stroke-width="0.8"/>
<text x="264.20" y="207.40" font-size="6.70" fill="#444" text-anchor="end">0</text>
<line x1="266.50" y1="233.50" x2="268.50" y2="233.50" stroke="#888" stroke-width="0.8"/>
<line x1="462.50" y1="233.50" x2="464.50" y2="233.50" stroke="#888" stroke-width="0.8"/>
<text x="264.20" y="235.90" font-size="6.70" fill="#444" text-anchor="end">-5</text>
<line x1="327.50" y1="246.50" x2="327.50" y2="248.50" stroke="#888" stroke-width="0.8"/>
<line x1="327.50" y1="154.50" x2="327.50" y2="156.50" stroke="#888" stroke-width="0.8"/>
<line x1="365.90" y1="246.50" x2="365.90" y2="248.50" stroke="#888" stroke-width="0.8"/>
<line x1="365.90" y1="154.50" x2="365.90" y2="156.50" stroke="#888" stroke-width="0.8"/>
<text x="327.80" y="258.20" font-size="6.70" fill="#444" text-anchor="middle">T<tspan font-size="4.4" dy="2.3">r</tspan><tspan dy="-2.3"> - 5s</tspan></text>
<text x="366.20" y="258.20" font-size="6.70" fill="#444" text-anchor="middle">T<tspan font-size="4.4" dy="2.3">r</tspan><tspan dy="-2.3"> = 0</tspan></text>
<text x="365.50" y="269.40" font-size="7.10" fill="#444" text-anchor="middle">Relative time</text>
<text transform="translate(254.90 201.50) rotate(-90)" font-size="7.10" fill="#444" text-anchor="middle">Normalized amplitude</text>
<text transform="translate(335.80 157.00) rotate(-90)" font-size="6.75" fill="#444" text-anchor="end">Button Press</text>
<text transform="translate(374.20 157.00) rotate(-90)" font-size="6.75" fill="#444" text-anchor="end">Screenshot start</text>
<text x="365.50" y="151.00" font-size="7.15" font-weight="bold" class="t" fill="#000" text-anchor="middle">Language (Wernike)</text>
<clipPath id="c5"><rect x="28.50" y="291.80" width="198.00" height="94.50"/></clipPath>
<g clip-path="url(#c5)">
<path d="M28.0 342.1 L30.0 340.7 L32.0 339.4 L34.0 338.1 L36.0 336.7 L38.0 335.3 L40.0 333.9 L42.0 332.4 L44.0 330.8 L46.0 329.2 L48.0 327.5 L50.0 325.8 L52.0 324.0 L54.0 322.0 L56.0 319.9 L58.0 317.7 L60.0 315.4 L62.0 313.0 L64.0 310.7 L66.0 308.3 L68.0 306.0 L70.0 303.6 L72.0 301.2 L74.0 298.9 L76.0 296.8 L78.0 294.9 L80.0 293.3 L82.0 291.9 L83.2 291.0" fill="none" stroke="#dcdcdc" stroke-width="0.85"/>
<path d="M28.0 333.6 L30.0 332.8 L32.0 332.1 L34.0 331.3 L36.0 330.6 L38.0 329.8 L40.0 329.0 L42.0 328.3 L44.0 327.4 L46.0 326.5 L48.0 325.4 L50.0 324.3 L52.0 323.2 L54.0 322.0 L56.0 320.8 L58.0 319.6 L60.0 318.1 L62.0 316.4 L64.0 314.5 L66.0 312.6 L68.0 310.7 L70.0 308.8 L72.0 307.1 L74.0 305.6 L76.0 304.2 L78.0 303.4 L80.0 303.1 L82.0 303.5 L84.0 304.4 L86.0 305.7 L88.0 307.5 L90.0 309.9 L92.0 312.6 L94.0 315.4 L96.0 318.1 L98.0 320.7 L100.0 323.2 L102.0 325.5 L104.0 327.9 L106.0 330.1 L108.0 332.2 L110.0 334.0 L112.0 335.5 L114.0 337.0 L116.0 338.3 L118.0 339.6 L120.0 340.8 L122.0 341.9 L124.0 342.7 L126.0 343.5 L128.0 344.2" fill="none" stroke="#dcdcdc" stroke-width="0.85"/>
<path d="M28.0 346.3 L30.0 345.8 L32.0 345.3 L34.0 344.8 L36.0 344.3 L38.0 343.8 L40.0 343.3 L42.0 342.7 L44.0 342.0 L46.0 341.1 L48.0 340.0 L50.0 338.7 L52.0 337.4 L54.0 336.0 L56.0 334.4 L58.0 332.5 L60.0 330.2 L62.0 327.6 L64.0 324.8 L66.0 322.0 L68.0 319.2 L70.0 316.3 L72.0 313.4 L74.0 310.6 L76.0 308.2 L78.0 306.5 L80.0 305.4 L82.0 305.1 L84.0 305.6 L86.0 306.9 L88.0 308.6 L90.0 310.7 L92.0 313.0 L94.0 315.5 L96.0 318.2 L98.0 320.9 L100.0 323.6 L102.0 326.3 L104.0 328.9 L106.0 331.4 L108.0 333.8 L110.0 336.1 L112.0 338.2 L114.0 339.9 L116.0 341.4 L118.0 342.7 L120.0 343.9 L122.0 345.0 L124.0 346.2 L126.0 347.3 L128.0 348.4" fill="none" stroke="#dcdcdc" stroke-width="0.85"/>
<path d="M28.0 361.2 L30.0 360.4 L32.0 359.5 L34.0 358.6 L36.0 357.8 L38.0 356.9 L40.0 356.0 L42.0 355.0 L44.0 353.9 L46.0 352.7 L48.0 351.4 L50.0 350.1 L52.0 348.7 L54.0 347.1 L56.0 345.4 L58.0 343.3 L60.0 341.0 L62.0 338.6 L64.0 336.0 L66.0 333.1 L68.0 329.7 L70.0 326.1 L72.0 322.4 L74.0 319.0 L76.0 316.1 L78.0 313.9 L80.0 312.4 L82.0 311.8 L84.0 312.0 L86.0 312.8 L88.0 313.9 L90.0 315.5 L92.0 317.4 L94.0 319.6 L96.0 322.0 L98.0 324.4 L100.0 326.9 L102.0 329.5 L104.0 332.1 L106.0 334.7 L108.0 337.3 L110.0 339.9 L112.0 342.3 L114.0 344.3 L116.0 346.1 L118.0 347.6 L120.0 349.1 L122.0 350.5 L124.0 352.0 L126.0 353.4 L128.0 354.8" fill="none" stroke="#dcdcdc" stroke-width="0.85"/>
<path d="M28.0 369.7 L30.0 370.1 L32.0 370.4 L34.0 370.7 L36.0 371.0 L38.0 371.2 L40.0 371.2 L42.0 370.8 L44.0 370.1 L46.0 369.2 L48.0 368.2 L50.0 367.1 L52.0 365.8 L54.0 364.2 L56.0 362.3 L58.0 360.0 L60.0 357.6 L62.0 354.9 L64.0 351.7 L66.0 348.1 L68.0 344.0 L70.0 339.6 L72.0 335.3 L74.0 331.1 L76.0 327.0 L78.0 323.3 L80.0 320.0 L82.0 317.4 L84.0 315.6 L86.0 314.4 L88.0 313.8 L90.0 313.9 L92.0 314.6 L94.0 315.9 L96.0 317.4 L98.0 319.0 L100.0 320.7 L102.0 322.6 L104.0 324.5 L106.0 326.4 L108.0 328.4 L110.0 330.3 L112.0 332.0 L114.0 333.5 L116.0 334.6 L118.0 335.6 L120.0 336.5 L122.0 337.4 L124.0 338.2 L126.0 339.1 L128.0 339.9" fill="none" stroke="#dcdcdc" stroke-width="0.85"/>
<path d="M28.0 376.1 L30.0 376.4 L32.0 376.8 L34.0 377.1 L36.0 377.4 L38.0 377.7 L40.0 377.8 L42.0 377.8 L44.0 377.6 L46.0 377.3 L48.0 377.0 L50.0 376.6 L52.0 376.1 L54.0 375.3 L56.0 374.3 L58.0 373.1 L60.0 371.8 L62.0 370.4 L64.0 368.8 L66.0 367.0 L68.0 364.8 L70.0 362.3 L72.0 359.6 L74.0 356.9 L76.0 354.2 L78.0 351.6 L80.0 349.1 L82.0 346.7 L84.0 344.4 L86.0 342.4 L88.0 340.8 L90.0 339.8 L92.0 339.2 L94.0 338.7 L96.0 338.5 L98.0 338.4 L100.0 338.7 L102.0 339.1 L104.0 339.8 L106.0 340.4 L108.0 341.1 L110.0 341.7 L112.0 342.3 L114.0 342.8 L116.0 343.3 L118.0 343.8 L120.0 344.3 L122.0 344.8 L124.0 345.3 L126.0 345.8 L128.0 346.3" fill="none" stroke="#dcdcdc" stroke-width="0.85"/>
<path d="M28.0 337.8 L30.0 336.8 L32.0 335.8 L34.0 334.8 L36.0 333.8 L38.0 332.8 L40.0 331.8 L42.0 330.8 L44.0 329.8 L46.0 328.8 L48.0 327.8 L50.0 326.8 L52.0 325.9 L54.0 325.1 L56.0 324.4 L58.0 323.8 L60.0 323.2 L62.0 322.6 L64.0 322.1 L66.0 321.7 L68.0 321.5 L70.0 321.7 L72.0 322.1 L74.0 322.7 L76.0 323.3 L78.0 324.0 L80.0 324.8 L82.0 325.8 L84.0 326.8 L86.0 327.9 L88.0 329.1 L90.0 330.2 L92.0 331.2 L94.0 332.0 L96.0 332.8 L98.0 333.5 L100.0 334.1 L102.0 334.8 L104.0 335.3 L106.0 335.8 L108.0 336.2 L110.0 336.6 L112.0 336.9 L114.0 337.2 L116.0 337.3 L118.0 337.3 L120.0 337.2 L122.0 336.9 L124.0 336.5 L126.0 336.1 L128.0 335.7" fill="none" stroke="#dcdcdc" stroke-width="0.85"/>
<path d="M28.0 348.4 L30.0 348.2 L32.0 347.9 L34.0 347.7 L36.0 347.4 L38.0 347.2 L40.0 346.9 L42.0 346.7 L44.0 346.3 L46.0 345.9 L48.0 345.4 L50.0 344.9 L52.0 344.3 L54.0 343.7 L56.0 343.1 L58.0 342.4 L60.0 341.6 L62.0 340.5 L64.0 339.3 L66.0 338.0 L68.0 336.7 L70.0 335.4 L72.0 334.2 L74.0 333.2 L76.0 332.3 L78.0 331.5 L80.0 330.7 L82.0 330.2 L84.0 330.0 L86.0 330.0 L88.0 330.3 L90.0 330.7 L92.0 331.3 L94.0 332.0 L96.0 333.0 L98.0 334.2 L100.0 335.5 L102.0 336.8 L104.0 338.2 L106.0 339.6 L108.0 341.1 L110.0 342.7 L112.0 344.3 L114.0 346.0 L116.0 347.7 L118.0 349.3 L120.0 350.9 L122.0 352.4 L124.0 354.0 L126.0 355.5 L128.0 357.0" fill="none" stroke="#dcdcdc" stroke-width="0.85"/>
<path d="M28.0 329.3 L30.0 328.5 L32.0 327.8 L34.0 327.0 L36.0 326.3 L38.0 325.5 L40.0 324.8 L42.0 324.1 L44.0 323.4 L46.0 322.8 L48.0 322.2 L50.0 321.7 L52.0 321.2 L54.0 320.7 L56.0 320.2 L58.0 319.7 L60.0 319.3 L62.0 319.0 L64.0 318.8 L66.0 318.7 L68.0 318.7 L70.0 318.7 L72.0 318.8 L74.0 319.0 L76.0 319.4 L78.0 320.0 L80.0 320.8 L82.0 321.6 L84.0 322.4 L86.0 323.3 L88.0 324.2 L90.0 325.2 L92.0 326.2 L94.0 327.1 L96.0 327.9 L98.0 328.4 L100.0 328.6 L102.0 328.4 L104.0 328.1 L106.0 327.6 L108.0 327.0 L110.0 326.2 L112.0 325.2 L114.0 324.1 L116.0 322.9 L118.0 321.7 L120.0 320.6 L122.0 319.6 L124.0 318.5 L126.0 317.5 L128.0 316.5" fill="none" stroke="#dcdcdc" stroke-width="0.85"/>
<path d="M28.0 354.8 L30.0 354.6 L32.0 354.4 L34.0 354.2 L36.0 354.0 L38.0 353.8 L40.0 353.6 L42.0 353.4 L44.0 353.2 L46.0 353.0 L48.0 352.6 L50.0 352.1 L52.0 351.4 L54.0 350.7 L56.0 349.8 L58.0 349.0 L60.0 348.1 L62.0 347.2 L64.0 346.2 L66.0 345.1 L68.0 344.0 L70.0 342.8 L72.0 341.7 L74.0 340.8 L76.0 340.0 L78.0 339.5 L80.0 339.1 L82.0 338.8 L84.0 338.5 L86.0 338.3 L88.0 338.4 L90.0 338.7 L92.0 339.1 L94.0 339.7 L96.0 340.2 L98.0 340.8 L100.0 341.4 L102.0 342.1 L104.0 342.8 L106.0 343.6 L108.0 344.4 L110.0 345.3 L112.0 346.1 L114.0 347.0 L116.0 347.8 L118.0 348.7 L120.0 349.5 L122.0 350.3 L124.0 351.1 L126.0 351.9 L128.0 352.7" fill="none" stroke="#dcdcdc" stroke-width="0.85"/>
<path d="M126.0 318.7 L128.0 320.0 L130.0 321.3 L132.0 322.7 L134.0 324.0 L136.0 325.4 L138.0 326.8 L140.0 328.3 L142.0 329.9 L144.0 331.5 L146.0 333.2 L148.0 334.8 L150.0 336.4 L152.0 338.0 L154.0 339.4 L156.0 340.8 L158.0 342.1 L160.0 343.4 L162.0 344.6 L164.0 345.6 L166.0 346.3 L168.0 346.9 L170.0 347.2 L172.0 347.6 L174.0 347.7 L176.0 347.7 L178.0 347.2 L180.0 346.3 L182.0 345.1 L184.0 343.8 L186.0 342.4 L188.0 340.9 L190.0 339.2 L192.0 337.2 L194.0 335.0 L196.0 332.7 L198.0 330.4 L200.0 328.0 L202.0 325.6 L204.0 323.1 L206.0 320.5 L208.0 317.8 L210.0 315.2 L212.0 312.5 L214.0 309.9 L216.0 307.4 L218.0 304.9 L220.0 302.5 L222.0 300.1 L224.0 297.7 L226.0 295.3" fill="none" stroke="#dcdcdc" stroke-width="0.85"/>
<path d="M126.0 325.0 L128.0 325.8 L130.0 326.5 L132.0 327.3 L134.0 328.0 L136.0 328.8 L138.0 329.6 L140.0 330.4 L142.0 331.4 L144.0 332.6 L146.0 334.1 L148.0 335.7 L150.0 337.4 L152.0 339.1 L154.0 340.8 L156.0 342.6 L158.0 344.3 L160.0 346.0 L162.0 347.7 L164.0 349.4 L166.0 351.1 L168.0 352.8 L170.0 354.4 L172.0 355.7 L174.0 356.7 L176.0 357.3 L178.0 357.8 L180.0 358.1 L182.0 358.3 L184.0 358.3 L186.0 358.0 L188.0 357.2 L190.0 356.1 L192.0 354.8 L194.0 353.4 L196.0 351.9 L198.0 350.1 L200.0 348.0 L202.0 345.6 L204.0 343.0 L206.0 340.3 L208.0 337.5 L210.0 334.5 L212.0 331.2 L214.0 327.6 L216.0 323.8 L218.0 320.1 L220.0 316.7 L222.0 313.6 L224.0 310.8 L226.0 308.0" fill="none" stroke="#dcdcdc" stroke-width="0.85"/>
<path d="M126.0 335.7 L128.0 335.3 L130.0 334.9 L132.0 334.5 L134.0 334.1 L136.0 333.7 L138.0 333.3 L140.0 332.9 L142.0 332.5 L144.0 332.1 L146.0 331.8 L148.0 331.5 L150.0 331.2 L152.0 331.0 L154.0 330.9 L156.0 330.7 L158.0 330.7 L160.0 330.8 L162.0 331.0 L164.0 331.4 L166.0 331.9 L168.0 332.4 L170.0 332.9 L172.0 333.6 L174.0 334.3 L176.0 335.2 L178.0 336.2 L180.0 337.1 L182.0 338.1 L184.0 339.1 L186.0 339.9 L188.0 340.7 L190.0 341.4 L192.0 342.1 L194.0 342.7 L196.0 343.2 L198.0 343.6 L200.0 343.6 L202.0 343.5 L204.0 343.2 L206.0 342.9 L208.0 342.6 L210.0 342.3 L212.0 342.0 L214.0 341.7 L216.0 341.4 L218.0 341.1 L220.0 340.8 L222.0 340.5 L224.0 340.2 L226.0 339.9" fill="none" stroke="#dcdcdc" stroke-width="0.85"/>
<path d="M126.0 346.3 L128.0 347.1 L130.0 347.8 L132.0 348.6 L134.0 349.3 L136.0 350.1 L138.0 350.8 L140.0 351.6 L142.0 352.4 L144.0 353.2 L146.0 354.0 L148.0 354.8 L150.0 355.7 L152.0 356.5 L154.0 357.4 L156.0 358.2 L158.0 358.9 L160.0 359.6 L162.0 360.2 L164.0 360.8 L166.0 361.4 L168.0 361.9 L170.0 362.4 L172.0 362.6 L174.0 362.6 L176.0 362.3 L178.0 361.8 L180.0 361.3 L182.0 360.7 L184.0 360.1 L186.0 359.3 L188.0 358.3 L190.0 357.0 L192.0 355.4 L194.0 353.8 L196.0 352.1 L198.0 350.3 L200.0 348.3 L202.0 346.1 L204.0 343.7 L206.0 341.1 L208.0 338.4 L210.0 335.8 L212.0 333.4 L214.0 331.2 L216.0 329.3 L218.0 327.5 L220.0 325.8 L222.0 324.1 L224.0 322.5 L226.0 320.8" fill="none" stroke="#dcdcdc" stroke-width="0.85"/>
<path d="M126.0 352.7 L128.0 354.0 L130.0 355.4 L132.0 356.7 L134.0 358.0 L136.0 359.4 L138.0 360.7 L140.0 362.1 L142.0 363.5 L144.0 365.0 L146.0 366.4 L148.0 367.8 L150.0 369.2 L152.0 370.6 L154.0 371.9 L156.0 373.1 L158.0 374.3 L160.0 375.5 L162.0 376.6 L164.0 377.7 L166.0 378.7 L168.0 379.5 L170.0 380.0 L172.0 380.3 L174.0 380.3 L176.0 380.3 L178.0 380.2 L180.0 379.9 L182.0 379.3 L184.0 378.4 L186.0 377.2 L188.0 375.9 L190.0 374.5 L192.0 373.0 L194.0 371.3 L196.0 369.4 L198.0 367.2 L200.0 364.9 L202.0 362.6 L204.0 360.1 L206.0 357.4 L208.0 354.4 L210.0 351.1 L212.0 347.7 L214.0 344.1 L216.0 340.7 L218.0 337.3 L220.0 334.1 L222.0 331.1 L224.0 328.0 L226.0 325.0" fill="none" stroke="#dcdcdc" stroke-width="0.85"/>
<path d="M126.0 359.1 L128.0 359.5 L130.0 359.9 L132.0 360.3 L134.0 360.7 L136.0 361.1 L138.0 361.5 L140.0 361.9 L142.0 362.3 L144.0 362.7 L146.0 363.0 L148.0 363.3 L150.0 363.6 L152.0 363.8 L154.0 364.0 L156.0 364.2 L158.0 364.4 L160.0 364.6 L162.0 364.8 L164.0 365.0 L166.0 365.1 L168.0 365.2 L170.0 365.2 L172.0 365.0 L174.0 364.8 L176.0 364.5 L178.0 364.3 L180.0 364.0 L182.0 363.8 L184.0 363.4 L186.0 363.0 L188.0 362.5 L190.0 361.8 L192.0 361.2 L194.0 360.5 L196.0 359.8 L198.0 359.0 L200.0 358.2 L202.0 357.2 L204.0 356.3 L206.0 355.3 L208.0 354.3 L210.0 353.4 L212.0 352.6 L214.0 351.9 L216.0 351.3 L218.0 350.7 L220.0 350.2 L222.0 349.6 L224.0 349.0 L226.0 348.4" fill="none" stroke="#dcdcdc" stroke-width="0.85"/>
<path d="M126.0 342.1 L128.0 342.6 L130.0 343.1 L132.0 343.6 L134.0 344.1 L136.0 344.6 L138.0 345.1 L140.0 345.5 L142.0 346.0 L144.0 346.3 L146.0 346.7 L148.0 346.9 L150.0 347.2 L152.0 347.4 L154.0 347.7 L156.0 347.9 L158.0 348.1 L160.0 348.1 L162.0 348.0 L164.0 347.8 L166.0 347.6 L168.0 347.3 L170.0 347.0 L172.0 346.6 L174.0 345.9 L176.0 344.9 L178.0 343.6 L180.0 342.1 L182.0 340.4 L184.0 338.7 L186.0 337.0 L188.0 335.2 L190.0 333.3 L192.0 331.4 L194.0 329.4 L196.0 327.4 L198.0 325.5 L200.0 323.7 L202.0 322.1 L204.0 320.6 L206.0 319.2 L208.0 317.9 L210.0 316.7 L212.0 315.8 L214.0 315.2 L216.0 315.1 L218.0 315.3 L220.0 315.5 L222.0 315.9 L224.0 316.2 L226.0 316.5" fill="none" stroke="#dcdcdc" stroke-width="0.85"/>
<path d="M136.6 312.3 L138.6 313.5 L140.6 314.8 L142.6 316.0 L144.6 317.3 L146.6 318.5 L148.6 319.8 L150.6 321.0 L152.6 322.3 L154.6 323.7 L156.6 325.1 L158.6 326.5 L160.6 327.9 L162.6 329.3 L164.6 330.8 L166.6 332.2 L168.6 333.6 L170.6 334.9 L172.6 336.3 L174.6 337.6 L176.6 338.9 L178.6 340.0 L180.6 340.9 L182.6 341.3 L184.6 341.3 L186.6 341.1 L188.6 340.8 L190.6 340.4 L192.6 340.0 L194.6 339.3 L196.6 338.5 L198.6 337.6 L200.6 336.7 L202.6 335.7 L204.6 334.9 L206.6 334.2 L208.6 333.8 L210.6 333.6 L212.6 333.6 L214.6 333.6 L216.6 333.6 L218.6 333.8 L220.6 334.1 L222.6 334.6 L224.6 335.2 L225.9 335.6" fill="none" stroke="#dcdcdc" stroke-width="0.85"/>
<path d="M126.0 361.2 L128.0 361.8 L130.0 362.4 L132.0 363.0 L134.0 363.6 L136.0 364.2 L138.0 364.8 L140.0 365.4 L142.0 366.0 L144.0 366.6 L146.0 367.3 L148.0 368.1 L150.0 368.9 L152.0 369.7 L154.0 370.6 L156.0 371.5 L158.0 372.4 L160.0 373.3 L162.0 374.2 L164.0 375.1 L166.0 375.9 L168.0 376.6 L170.0 377.0 L172.0 377.3 L174.0 377.5 L176.0 377.6 L178.0 377.7 L180.0 377.8 L182.0 377.9 L184.0 378.0 L186.0 378.0 L188.0 378.0 L190.0 377.8 L192.0 377.5 L194.0 377.2 L196.0 376.9 L198.0 376.6 L200.0 376.3 L202.0 376.1 L204.0 376.0 L206.0 375.9 L208.0 375.8 L210.0 375.7 L212.0 375.6 L214.0 375.5 L216.0 375.5 L218.0 375.4 L220.0 375.3 L222.0 375.2 L224.0 375.1 L226.0 375.0" fill="none" stroke="#dcdcdc" stroke-width="0.85"/>
<path d="M126.0 331.4 L128.0 332.0 L130.0 332.6 L132.0 333.2 L134.0 333.8 L136.0 334.4 L138.0 335.0 L140.0 335.6 L142.0 336.2 L144.0 336.8 L146.0 337.4 L148.0 338.0 L150.0 338.6 L152.0 339.2 L154.0 339.7 L156.0 340.3 L158.0 340.8 L160.0 341.3 L162.0 341.5 L164.0 341.6 L166.0 341.5 L168.0 341.2 L170.0 340.9 L172.0 340.6 L174.0 340.2 L176.0 339.6 L178.0 338.6 L180.0 337.3 L182.0 335.8 L184.0 334.1 L186.0 332.4 L188.0 330.6 L190.0 328.5 L192.0 326.2 L194.0 323.7 L196.0 321.1 L198.0 318.4 L200.0 315.8 L202.0 313.4 L204.0 311.1 L206.0 308.9 L208.0 306.9 L210.0 304.9 L212.0 303.0 L214.0 301.3 L216.0 299.8 L218.0 298.6 L220.0 297.7 L222.0 296.9 L224.0 296.1 L226.0 295.3" fill="none" stroke="#dcdcdc" stroke-width="0.85"/>
<path d="M84.0 301.3 L86.0 303.3 L88.0 305.3 L90.0 307.4 L92.0 309.6 L94.0 311.9 L96.0 314.3 L98.0 316.7 L100.0 319.0 L102.0 321.4 L104.0 323.7 L106.0 326.0 L108.0 328.2 L110.0 330.2 L112.0 332.1 L114.0 333.7 L116.0 335.2 L118.0 336.6 L120.0 337.7 L122.0 338.6 L124.0 339.4 L126.0 340.1 L128.0 340.7 L130.0 341.2 L132.0 341.5 L134.0 341.8 L136.0 341.8 L138.0 341.6 L140.0 341.3 L142.0 341.0 L144.0 340.6" fill="none" stroke="#dcdcdc" stroke-width="0.85"/>
<path d="M84.0 308.1 L86.0 310.1 L88.0 312.1 L90.0 314.2 L92.0 316.5 L94.0 318.9 L96.0 321.5 L98.0 324.3 L100.0 327.1 L102.0 329.9 L104.0 332.7 L106.0 335.4 L108.0 338.1 L110.0 340.5 L112.0 342.8 L114.0 344.8 L116.0 346.5 L118.0 347.8 L120.0 348.6 L122.0 348.9 L124.0 348.8 L126.0 348.3 L128.0 347.2 L130.0 345.6 L132.0 343.8 L134.0 341.9 L136.0 339.9 L138.0 337.9 L140.0 335.9 L142.0 334.0 L144.0 332.0" fill="none" stroke="#dcdcdc" stroke-width="0.85"/>
<path d="M84.0 314.9 L86.0 316.6 L88.0 318.3 L90.0 320.0 L92.0 321.7 L94.0 323.6 L96.0 325.7 L98.0 327.9 L100.0 330.2 L102.0 332.6 L104.0 335.1 L106.0 337.7 L108.0 340.4 L110.0 343.2 L112.0 346.0 L114.0 348.9 L116.0 351.6 L118.0 354.0 L120.0 355.6 L122.0 356.3 L124.0 356.2 L126.0 355.3 L128.0 353.8 L130.0 351.8 L132.0 349.6 L134.0 347.2 L136.0 344.9 L138.0 342.5 L140.0 340.2 L142.0 337.8 L144.0 335.4" fill="none" stroke="#dcdcdc" stroke-width="0.85"/>
<path d="M84.0 325.2 L86.0 325.9 L88.0 326.5 L90.0 327.2 L92.0 327.9 L94.0 328.6 L96.0 329.4 L98.0 330.2 L100.0 331.1 L102.0 331.9 L104.0 332.7 L106.0 333.5 L108.0 334.2 L110.0 334.8 L112.0 335.4 L114.0 336.0 L116.0 336.6 L118.0 337.3 L120.0 338.2 L122.0 339.1 L124.0 340.1 L126.0 341.2 L128.0 342.4 L130.0 343.7 L132.0 345.2 L134.0 346.7 L136.0 348.3 L138.0 349.8 L140.0 351.3 L142.0 352.8 L144.0 354.2" fill="none" stroke="#dcdcdc" stroke-width="0.85"/>
<path d="M101.1 313.2 L103.1 312.8 L105.1 312.5 L107.1 312.2 L109.1 312.0 L111.1 312.1 L113.1 312.3 L115.1 312.7 L117.1 313.3 L119.1 314.1 L121.1 315.1 L123.1 316.2 L125.1 317.5 L127.1 318.8 L129.1 320.3 L131.1 321.8 L133.1 323.1 L135.1 324.2 L137.1 324.8 L139.1 325.1 L141.1 325.2 L143.1 325.2 L143.8 325.2" fill="none" stroke="#dcdcdc" stroke-width="0.85"/>
<path d="M84.0 333.7 L86.0 334.4 L88.0 335.1 L90.0 335.7 L92.0 336.4 L94.0 337.0 L96.0 337.6 L98.0 338.2 L100.0 338.8 L102.0 339.4 L104.0 339.9 L106.0 340.4 L108.0 340.8 L110.0 341.1 L112.0 341.4 L114.0 341.7 L116.0 342.0 L118.0 342.3 L120.0 342.6 L122.0 342.9 L124.0 343.3 L126.0 343.7 L128.0 344.1 L130.0 344.7 L132.0 345.5 L134.0 346.2 L136.0 347.1 L138.0 348.0 L140.0 348.9 L142.0 349.9 L144.0 350.8" fill="none" stroke="#dcdcdc" stroke-width="0.85"/>
<path d="M84.0 321.8 L86.0 322.4 L88.0 323.1 L90.0 323.8 L92.0 324.4 L94.0 325.0 L96.0 325.5 L98.0 325.9 L100.0 326.2 L102.0 326.4 L104.0 326.4 L106.0 326.3 L108.0 326.0 L110.0 325.7 L112.0 325.4 L114.0 325.0 L116.0 324.7 L118.0 324.4 L120.0 324.0 L122.0 323.7 L124.0 323.4 L126.0 323.0 L128.0 322.7 L130.0 322.4 L132.0 322.0 L134.0 321.7 L136.0 321.4 L138.0 321.0 L140.0 320.7 L142.0 320.4 L144.0 320.1" fill="none" stroke="#dcdcdc" stroke-width="0.85"/>
<path d="M84.0 328.6 L86.0 329.6 L88.0 330.6 L90.0 331.6 L92.0 332.6 L94.0 333.7 L96.0 334.9 L98.0 336.3 L100.0 338.0 L102.0 339.8 L104.0 341.8 L106.0 343.8 L108.0 345.8 L110.0 347.8 L112.0 349.7 L114.0 351.7 L116.0 353.5 L118.0 355.2 L120.0 356.7 L122.0 357.8 L124.0 358.4 L126.0 358.5 L128.0 358.3 L130.0 357.8 L132.0 357.0 L134.0 356.0 L136.0 354.7 L138.0 353.3 L140.0 351.9 L142.0 350.5 L144.0 349.1" fill="none" stroke="#dcdcdc" stroke-width="0.85"/>
<path d="M28.0 338.9 L30.0 338.1 L32.0 337.4 L34.0 336.6 L36.0 335.9 L38.0 335.1 L40.0 334.2 L42.0 333.1 L44.0 331.9 L46.0 330.6 L48.0 329.2 L50.0 327.7 L52.0 326.2 L54.0 324.5 L56.0 322.7 L58.0 320.8 L60.0 318.8 L62.0 316.8 L64.0 314.7 L66.0 312.6 L68.0 310.4 L70.0 308.1 L72.0 305.8 L74.0 303.5 L76.0 301.3 L78.0 299.2 L80.0 297.1 L82.0 295.1 L82.5 294.6" fill="none" stroke="#dcdcdc" stroke-width="0.85"/>
<path d="M28.0 344.0 L30.0 343.5 L32.0 343.0 L34.0 342.5 L36.0 342.0 L38.0 341.5 L40.0 340.9 L42.0 340.1 L44.0 339.3 L46.0 338.4 L48.0 337.4 L50.0 336.4 L52.0 335.3 L54.0 334.1 L56.0 332.6 L58.0 330.9 L60.0 329.0 L62.0 327.1 L64.0 325.1 L66.0 323.0 L68.0 320.8 L70.0 318.6 L72.0 316.3 L74.0 314.0 L76.0 311.7 L78.0 309.6 L80.0 307.5 L82.0 305.6 L84.0 303.9 L86.0 302.5 L88.0 301.3" fill="none" stroke="#dcdcdc" stroke-width="0.85"/>
<path d="M28.0 356.0 L30.0 356.6 L32.0 357.3 L34.0 357.9 L36.0 358.5 L38.0 358.9 L40.0 359.2 L42.0 359.3 L44.0 359.3 L46.0 359.1 L48.0 358.6 L50.0 357.6 L52.0 356.3 L54.0 354.7 L56.0 352.9 L58.0 350.8 L60.0 348.3 L62.0 345.5 L64.0 342.5 L66.0 339.4 L68.0 336.4 L70.0 333.5 L72.0 330.7 L74.0 328.0 L76.0 325.5 L78.0 323.2 L80.0 321.1 L82.0 319.1 L84.0 317.1 L86.0 315.2 L88.0 313.2" fill="none" stroke="#dcdcdc" stroke-width="0.85"/>
<path d="M28.0 364.5 L30.0 365.2 L32.0 365.8 L34.0 366.5 L36.0 367.1 L38.0 367.7 L40.0 368.2 L42.0 368.6 L44.0 368.9 L46.0 368.9 L48.0 368.5 L50.0 367.9 L52.0 367.0 L54.0 365.8 L56.0 364.4 L58.0 362.6 L60.0 360.4 L62.0 357.8 L64.0 355.1 L66.0 352.1 L68.0 348.9 L70.0 345.3 L72.0 341.5 L74.0 337.6 L76.0 334.0 L78.0 330.5 L80.0 327.2 L82.0 324.2 L84.0 321.4 L86.0 318.9 L88.0 316.6" fill="none" stroke="#dcdcdc" stroke-width="0.85"/>
<path d="M28.0 342.3 L30.0 342.0 L32.0 341.8 L34.0 341.5 L36.0 341.3 L38.0 341.0 L40.0 340.8 L42.0 340.5 L44.0 340.2 L46.0 340.0 L48.0 339.7 L50.0 339.5 L52.0 339.4 L54.0 339.6 L56.0 340.0 L58.0 340.7 L60.0 341.5 L62.0 342.3 L64.0 343.2 L66.0 344.2 L68.0 345.1 L70.0 346.0 L72.0 346.7 L74.0 347.1 L76.0 347.3 L78.0 347.4 L80.0 347.3 L82.0 347.1 L84.0 346.8 L86.0 346.3 L88.0 345.7" fill="none" stroke="#dcdcdc" stroke-width="0.85"/>
<path d="M166.0 342.3 L168.0 343.1 L170.0 344.0 L172.0 344.8 L174.0 345.7 L176.0 346.4 L178.0 346.9 L180.0 347.2 L182.0 347.3 L184.0 347.3 L186.0 347.1 L188.0 346.7 L190.0 345.9 L192.0 344.8 L194.0 343.5 L196.0 342.1 L198.0 340.4 L200.0 338.5 L202.0 336.4 L204.0 334.1 L206.0 331.8 L208.0 329.4 L210.0 327.1 L212.0 324.7 L214.0 322.4 L216.0 320.2 L218.0 318.1 L220.0 316.3 L222.0 314.7 L224.0 313.1 L226.0 311.5" fill="none" stroke="#dcdcdc" stroke-width="0.85"/>
<path d="M166.0 349.1 L168.0 350.1 L170.0 351.1 L172.0 352.1 L174.0 353.1 L176.0 354.1 L178.0 354.9 L180.0 355.6 L182.0 356.2 L184.0 356.5 L186.0 356.8 L188.0 357.0 L190.0 356.8 L192.0 356.1 L194.0 354.9 L196.0 353.2 L198.0 351.2 L200.0 348.9 L202.0 346.3 L204.0 343.3 L206.0 339.9 L208.0 336.4 L210.0 332.9 L212.0 329.3 L214.0 325.9 L216.0 322.5 L218.0 319.2 L220.0 316.0 L222.0 312.9 L224.0 309.7 L226.0 306.4" fill="none" stroke="#dcdcdc" stroke-width="0.85"/>
<path d="M166.0 357.7 L168.0 358.4 L170.0 359.2 L172.0 359.9 L174.0 360.7 L176.0 361.4 L178.0 362.0 L180.0 362.6 L182.0 363.0 L184.0 363.4 L186.0 363.7 L188.0 363.8 L190.0 363.7 L192.0 363.2 L194.0 362.2 L196.0 360.7 L198.0 359.1 L200.0 357.1 L202.0 354.7 L204.0 351.8 L206.0 348.5 L208.0 345.0 L210.0 341.6 L212.0 338.2 L214.0 335.0 L216.0 331.8 L218.0 329.0 L220.0 326.4 L222.0 324.1 L224.0 322.0 L226.0 320.1" fill="none" stroke="#dcdcdc" stroke-width="0.85"/>
<path d="M166.0 367.9 L168.0 368.4 L170.0 368.9 L172.0 369.4 L174.0 369.9 L176.0 370.4 L178.0 370.8 L180.0 371.1 L182.0 371.2 L184.0 371.3 L186.0 371.2 L188.0 370.9 L190.0 370.3 L192.0 369.3 L194.0 367.8 L196.0 366.2 L198.0 364.2 L200.0 361.9 L202.0 359.0 L204.0 355.8 L206.0 352.2 L208.0 348.6 L210.0 344.7 L212.0 340.9 L214.0 337.0 L216.0 333.2 L218.0 329.7 L220.0 326.4 L222.0 323.2 L224.0 319.9 L226.0 316.6" fill="none" stroke="#dcdcdc" stroke-width="0.85"/>
<path d="M166.0 314.9 L168.0 316.3 L170.0 317.6 L172.0 318.9 L174.0 320.3 L176.0 321.8 L178.0 323.3 L180.0 324.9 L182.0 326.5 L184.0 328.1 L186.0 329.4 L188.0 330.5 L190.0 331.4 L192.0 332.1 L194.0 332.7 L196.0 333.0 L198.0 333.1 L200.0 332.9 L202.0 332.5 L204.0 331.9 L206.0 330.9 L208.0 329.7 L210.0 328.1 L212.0 326.4 L214.0 324.3 L216.0 321.9 L218.0 319.2 L220.0 316.2 L222.0 312.8 L224.0 308.9 L226.0 304.7" fill="none" stroke="#dcdcdc" stroke-width="0.85"/>
<line x1="89.50" y1="291.80" x2="89.50" y2="386.30" stroke="#bdbdbd" stroke-width="0.9" stroke-dasharray="3 2.5"/>
<line x1="127.90" y1="291.80" x2="127.90" y2="386.30" stroke="#bdbdbd" stroke-width="0.9" stroke-dasharray="3 2.5"/>
<path d="M28.00 351.60 L29.00 351.30 L30.00 351.01 L31.00 350.71 L32.00 350.40 L33.00 350.08 L34.00 349.73 L35.00 349.32 L36.00 348.87 L37.00 348.39 L38.00 347.89 L39.00 347.38 L40.00 346.84 L41.00 346.25 L42.00 345.61 L43.00 344.94 L44.00 344.25 L45.00 343.54 L46.00 342.82 L47.00 342.08 L48.00 341.32 L49.00 340.53 L50.00 339.73 L51.00 338.92 L52.00 338.10 L53.00 337.27 L54.00 336.42 L55.00 335.55 L56.00 334.67 L57.00 333.78 L58.00 332.89 L59.00 332.00 L60.00 331.10 L61.00 330.20 L62.00 329.30 L63.00 328.39 L64.00 327.49 L65.00 326.61 L66.00 325.75 L67.00 324.94 L68.00 324.16 L69.00 323.41 L70.00 322.70 L71.00 322.06 L72.00 321.50 L73.00 321.02 L74.00 320.61 L75.00 320.24 L76.00 319.94 L77.00 319.73 L78.00 319.59 L79.00 319.53 L80.00 319.53 L81.00 319.60 L82.00 319.76 L83.00 320.00 L84.00 320.32 L85.00 320.70 L86.00 321.16 L87.00 321.73 L88.00 322.38 L89.00 323.09 L90.00 323.81 L91.00 324.52 L92.00 325.20 L93.00 325.85 L94.00 326.48 L95.00 327.10 L96.00 327.69 L97.00 328.25 L98.00 328.78 L99.00 329.30 L100.00 329.80 L101.00 330.30 L102.00 330.79 L103.00 331.27 L104.00 331.73 L105.00 332.19 L106.00 332.65 L107.00 333.10 L108.00 333.53 L109.00 333.95 L110.00 334.34 L111.00 334.71 L112.00 335.06 L113.00 335.40 L114.00 335.74 L115.00 336.08 L116.00 336.40 L117.00 336.71 L118.00 337.01 L119.00 337.31 L120.00 337.61 L121.00 337.93 L122.00 338.27 L123.00 338.63 L124.00 339.02 L125.00 339.42 L126.00 339.82 L127.00 340.23 L128.00 340.62 L129.00 341.01 L130.00 341.39 L131.00 341.77 L132.00 342.15 L133.00 342.54 L134.00 342.94 L135.00 343.36 L136.00 343.79 L137.00 344.22 L138.00 344.64 L139.00 345.07 L140.00 345.48 L141.00 345.89 L142.00 346.30 L143.00 346.70 L144.00 347.10 L145.00 347.48 L146.00 347.84 L147.00 348.19 L148.00 348.53 L149.00 348.86 L150.00 349.19 L151.00 349.51 L152.00 349.80 L153.00 350.09 L154.00 350.36 L155.00 350.63 L156.00 350.88 L157.00 351.13 L158.00 351.34 L159.00 351.53 L160.00 351.69 L161.00 351.83 L162.00 351.97 L163.00 352.10 L164.00 352.21 L165.00 352.30 L166.00 352.37 L167.00 352.43 L168.00 352.47 L169.00 352.51 L170.00 352.53 L171.00 352.53 L172.00 352.50 L173.00 352.45 L174.00 352.39 L175.00 352.33 L176.00 352.25 L177.00 352.13 L178.00 351.97 L179.00 351.76 L180.00 351.52 L181.00 351.27 L182.00 351.00 L183.00 350.72 L184.00 350.40 L185.00 350.04 L186.00 349.64 L187.00 349.23 L188.00 348.80 L189.00 348.36 L190.00 347.89 L191.00 347.38 L192.00 346.83 L193.00 346.25 L194.00 345.66 L195.00 345.05 L196.00 344.41 L197.00 343.72 L198.00 342.98 L199.00 342.20 L200.00 341.40 L201.00 340.59 L202.00 339.79 L203.00 339.00 L204.00 338.24 L205.00 337.49 L206.00 336.75 L207.00 336.01 L208.00 335.29 L209.00 334.59 L210.00 333.93 L211.00 333.29 L212.00 332.68 L213.00 332.09 L214.00 331.50 L215.00 330.94 L216.00 330.42 L217.00 329.94 L218.00 329.50 L219.00 329.09 L220.00 328.73 L221.00 328.42 L222.00 328.20 L223.00 328.03 L224.00 327.91 L225.00 327.80 L226.00 327.70" fill="none" stroke="#000" stroke-width="1.55" stroke-linejoin="round" stroke-linecap="round"/>
</g>
<rect x="28.50" y="291.80" width="198.00" height="94.50" fill="none" stroke="#a0a0a0" stroke-width="1.00"/>
<line x1="28.50" y1="296.10" x2="30.50" y2="296.10" stroke="#888" stroke-width="0.8"/>
<line x1="224.50" y1="296.10" x2="226.50" y2="296.10" stroke="#888" stroke-width="0.8"/>
<text x="26.20" y="298.50" font-size="6.70" fill="#444" text-anchor="end">5</text>
<line x1="28.50" y1="337.30" x2="30.50" y2="337.30" stroke="#888" stroke-width="0.8"/>
<line x1="224.50" y1="337.30" x2="226.50" y2="337.30" stroke="#888" stroke-width="0.8"/>
<text x="26.20" y="339.70" font-size="6.70" fill="#444" text-anchor="end">0</text>
<line x1="28.50" y1="378.50" x2="30.50" y2="378.50" stroke="#888" stroke-width="0.8"/>
<line x1="224.50" y1="378.50" x2="226.50" y2="378.50" stroke="#888" stroke-width="0.8"/>
<text x="26.20" y="380.90" font-size="6.70" fill="#444" text-anchor="end">-5</text>
<line x1="89.50" y1="384.30" x2="89.50" y2="386.30" stroke="#888" stroke-width="0.8"/>
<line x1="89.50" y1="291.80" x2="89.50" y2="293.80" stroke="#888" stroke-width="0.8"/>
<line x1="127.90" y1="384.30" x2="127.90" y2="386.30" stroke="#888" stroke-width="0.8"/>
<line x1="127.90" y1="291.80" x2="127.90" y2="293.80" stroke="#888" stroke-width="0.8"/>
<text x="89.80" y="396.00" font-size="6.70" fill="#444" text-anchor="middle">T<tspan font-size="4.4" dy="2.3">r</tspan><tspan dy="-2.3"> - 5s</tspan></text>
<text x="128.20" y="396.00" font-size="6.70" fill="#444" text-anchor="middle">T<tspan font-size="4.4" dy="2.3">r</tspan><tspan dy="-2.3"> = 0</tspan></text>
<text x="127.50" y="407.20" font-size="7.10" fill="#444" text-anchor="middle">Relative time</text>
<text transform="translate(16.90 339.05) rotate(-90)" font-size="7.10" fill="#444" text-anchor="middle">Normalized amplitude</text>
<text transform="translate(97.80 294.30) rotate(-90)" font-size="6.75" fill="#444" text-anchor="end">Button Press</text>
<text transform="translate(136.20 294.30) rotate(-90)" font-size="6.75" fill="#444" text-anchor="end">Screenshot start</text>
<text x="127.50" y="288.30" font-size="7.15" font-weight="bold" class="t" fill="#000" text-anchor="middle">ACC</text>
<clipPath id="c6"><rect x="266.50" y="294.10" width="198.00" height="91.10"/></clipPath>
<g clip-path="url(#c6)">
<path d="M266.0 361.2 L268.0 360.0 L270.0 358.7 L272.0 357.5 L274.0 356.2 L276.0 355.0 L278.0 353.7 L280.0 352.2 L282.0 350.4 L284.0 348.1 L286.0 345.3 L288.0 342.2 L290.0 338.9 L292.0 335.5 L294.0 331.9 L296.0 327.9 L298.0 323.4 L300.0 318.7 L302.0 313.9 L304.0 309.3 L306.0 305.1 L308.0 301.4 L310.0 298.7 L312.0 297.4 L314.0 297.5 L316.0 299.1 L318.0 302.4 L320.0 307.1 L322.0 313.2 L324.0 320.2 L326.0 327.8 L328.0 335.5 L330.0 342.6 L332.0 348.9 L334.0 354.3 L336.0 359.3 L338.0 363.8 L340.0 368.0 L342.0 371.8 L344.0 375.3 L346.0 378.9 L346.8 380.2" fill="none" stroke="#dcdcdc" stroke-width="0.85"/>
<path d="M266.0 354.8 L268.0 353.6 L270.0 352.3 L272.0 351.1 L274.0 349.8 L276.0 348.6 L278.0 347.3 L280.0 345.9 L282.0 344.3 L284.0 342.3 L286.0 340.0 L288.0 337.5 L290.0 334.8 L292.0 332.1 L294.0 329.0 L296.0 325.5 L298.0 321.4 L300.0 317.0 L302.0 312.4 L304.0 308.2 L306.0 304.7 L308.0 302.4 L310.0 301.3 L312.0 301.3 L314.0 302.3 L316.0 304.4 L318.0 307.3 L320.0 311.0 L322.0 315.4 L324.0 320.1 L326.0 325.1 L328.0 330.0 L330.0 335.0 L332.0 339.9 L334.0 344.7 L336.0 349.1 L338.0 353.0 L340.0 356.5 L342.0 359.8 L344.0 362.9 L346.0 365.9 L348.0 368.7 L350.0 371.3 L352.0 373.8 L354.0 376.2 L356.0 378.6 L357.2 380.1" fill="none" stroke="#dcdcdc" stroke-width="0.85"/>
<path d="M266.0 339.9 L268.0 339.2 L270.0 338.4 L272.0 337.7 L274.0 336.9 L276.0 336.2 L278.0 335.4 L280.0 334.6 L282.0 333.6 L284.0 332.3 L286.0 330.9 L288.0 329.3 L290.0 327.6 L292.0 325.9 L294.0 324.2 L296.0 322.5 L298.0 320.8 L300.0 319.1 L302.0 317.5 L304.0 316.0 L306.0 314.5 L308.0 313.2 L310.0 312.2 L312.0 311.6 L314.0 311.5 L316.0 312.2 L318.0 313.6 L320.0 315.6 L322.0 318.2 L324.0 321.7 L326.0 325.8 L328.0 330.2 L330.0 334.3 L332.0 337.7 L334.0 340.5 L336.0 343.0 L338.0 345.2 L340.0 347.2 L342.0 348.8 L344.0 350.1 L346.0 351.2 L348.0 352.2 L350.0 353.2 L352.0 354.1 L354.0 354.9 L356.0 355.7 L358.0 356.4 L360.0 357.1 L362.0 357.8 L364.0 358.4 L366.0 359.1" fill="none" stroke="#dcdcdc" stroke-width="0.85"/>
<path d="M266.0 333.6 L268.0 333.1 L270.0 332.6 L272.0 332.1 L274.0 331.6 L276.0 331.1 L278.0 330.5 L280.0 330.0 L282.0 329.4 L284.0 328.6 L286.0 327.7 L288.0 326.8 L290.0 325.8 L292.0 324.8 L294.0 323.7 L296.0 322.6 L298.0 321.4 L300.0 320.1 L302.0 318.8 L304.0 317.5 L306.0 316.4 L308.0 315.6 L310.0 315.3 L312.0 315.5 L314.0 316.1 L316.0 317.2 L318.0 318.9 L320.0 321.3 L322.0 324.0 L324.0 326.9 L326.0 329.9 L328.0 332.9 L330.0 335.8 L332.0 338.5 L334.0 340.7 L336.0 342.3 L338.0 343.5 L340.0 344.4 L342.0 345.2 L344.0 345.8 L346.0 346.4 L348.0 346.8 L350.0 347.2 L352.0 347.5 L354.0 347.9 L356.0 348.2 L358.0 348.7 L360.0 349.1 L362.0 349.6 L364.0 350.1 L366.0 350.6" fill="none" stroke="#dcdcdc" stroke-width="0.85"/>
<path d="M266.0 344.2 L268.0 343.7 L270.0 343.2 L272.0 342.7 L274.0 342.2 L276.0 341.7 L278.0 341.2 L280.0 340.6 L282.0 340.1 L284.0 339.4 L286.0 338.6 L288.0 337.8 L290.0 336.9 L292.0 336.1 L294.0 335.3 L296.0 334.5 L298.0 333.8 L300.0 333.3 L302.0 332.9 L304.0 332.6 L306.0 332.2 L308.0 332.0 L310.0 331.9 L312.0 332.0 L314.0 332.4 L316.0 332.9 L318.0 333.6 L320.0 334.6 L322.0 335.8 L324.0 337.2 L326.0 338.6 L328.0 340.0 L330.0 341.3 L332.0 342.5 L334.0 343.7 L336.0 344.8 L338.0 345.8 L340.0 346.7 L342.0 347.5 L344.0 348.2 L346.0 348.9 L348.0 349.5 L350.0 350.2 L352.0 350.8 L354.0 351.4 L356.0 352.0 L358.0 352.5 L360.0 353.1 L362.0 353.7 L364.0 354.3 L366.0 354.8" fill="none" stroke="#dcdcdc" stroke-width="0.85"/>
<path d="M266.0 350.6 L268.0 350.0 L270.0 349.4 L272.0 348.9 L274.0 348.3 L276.0 347.7 L278.0 347.1 L280.0 346.4 L282.0 345.6 L284.0 344.7 L286.0 343.8 L288.0 342.8 L290.0 341.8 L292.0 340.9 L294.0 340.1 L296.0 339.3 L298.0 338.7 L300.0 338.1 L302.0 337.6 L304.0 337.0 L306.0 336.6 L308.0 336.3 L310.0 336.2 L312.0 336.3 L314.0 336.6 L316.0 337.0 L318.0 337.4 L320.0 338.0 L322.0 338.8 L324.0 340.0 L326.0 341.3 L328.0 342.6 L330.0 343.6 L332.0 344.4 L334.0 345.0 L336.0 345.4 L338.0 345.7 L340.0 345.9 L342.0 345.9 L344.0 345.7 L346.0 345.4 L348.0 345.1 L350.0 344.7 L352.0 344.4 L354.0 344.1 L356.0 343.7 L358.0 343.4 L360.0 343.1 L362.0 342.7 L364.0 342.4 L366.0 342.1" fill="none" stroke="#dcdcdc" stroke-width="0.85"/>
<path d="M266.0 346.3 L268.0 345.8 L270.0 345.3 L272.0 344.8 L274.0 344.3 L276.0 343.8 L278.0 343.3 L280.0 342.8 L282.0 342.3 L284.0 341.8 L286.0 341.2 L288.0 340.6 L290.0 340.1 L292.0 339.5 L294.0 339.0 L296.0 338.5 L298.0 338.1 L300.0 337.9 L302.0 337.8 L304.0 337.8 L306.0 337.8 L308.0 337.9 L310.0 338.1 L312.0 338.5 L314.0 339.0 L316.0 339.6 L318.0 340.3 L320.0 340.9 L322.0 341.6 L324.0 342.3 L326.0 343.1 L328.0 343.9 L330.0 344.7 L332.0 345.5 L334.0 346.2 L336.0 346.9 L338.0 347.6 L340.0 348.3 L342.0 348.9 L344.0 349.6 L346.0 350.2 L348.0 350.6 L350.0 351.1 L352.0 351.4 L354.0 351.8 L356.0 352.1 L358.0 352.5 L360.0 353.0 L362.0 353.6 L364.0 354.2 L366.0 354.8" fill="none" stroke="#dcdcdc" stroke-width="0.85"/>
<path d="M266.0 337.8 L268.0 337.5 L270.0 337.1 L272.0 336.8 L274.0 336.5 L276.0 336.1 L278.0 335.8 L280.0 335.5 L282.0 335.1 L284.0 334.8 L286.0 334.5 L288.0 334.1 L290.0 333.6 L292.0 333.0 L294.0 332.2 L296.0 331.3 L298.0 330.3 L300.0 329.3 L302.0 328.4 L304.0 327.4 L306.0 326.5 L308.0 325.7 L310.0 324.9 L312.0 324.3 L314.0 324.0 L316.0 324.1 L318.0 324.7 L320.0 325.6 L322.0 326.9 L324.0 328.6 L326.0 330.6 L328.0 332.9 L330.0 335.4 L332.0 338.0 L334.0 340.7 L336.0 343.5 L338.0 346.2 L340.0 348.9 L342.0 351.5 L344.0 353.9 L346.0 356.0 L348.0 358.1 L350.0 360.1 L352.0 362.0 L354.0 363.9 L356.0 365.5 L358.0 366.9 L360.0 368.2 L362.0 369.4 L364.0 370.7 L366.0 371.9" fill="none" stroke="#dcdcdc" stroke-width="0.85"/>
<path d="M266.0 357.0 L268.0 356.5 L270.0 356.0 L272.0 355.5 L274.0 355.0 L276.0 354.5 L278.0 353.9 L280.0 353.3 L282.0 352.6 L284.0 351.6 L286.0 350.5 L288.0 349.1 L290.0 347.7 L292.0 346.3 L294.0 344.8 L296.0 343.4 L298.0 341.9 L300.0 340.4 L302.0 338.8 L304.0 337.2 L306.0 335.8 L308.0 334.5 L310.0 333.5 L312.0 332.9 L314.0 332.5 L316.0 332.4 L318.0 332.9 L320.0 333.9 L322.0 335.3 L324.0 337.1 L326.0 339.3 L328.0 342.0 L330.0 345.0 L332.0 348.1 L334.0 351.1 L336.0 354.1 L338.0 356.8 L340.0 359.3 L342.0 361.7 L344.0 364.0 L346.0 366.1 L348.0 368.0 L350.0 369.6 L352.0 371.0 L354.0 372.4 L356.0 373.7 L358.0 375.0 L360.0 376.4 L362.0 377.7 L364.0 379.0 L366.0 380.4" fill="none" stroke="#dcdcdc" stroke-width="0.85"/>
<path d="M364.0 361.2 L366.0 360.7 L368.0 360.2 L370.0 359.7 L372.0 359.2 L374.0 358.7 L376.0 358.2 L378.0 357.7 L380.0 357.2 L382.0 356.7 L384.0 356.2 L386.0 355.7 L388.0 355.2 L390.0 354.7 L392.0 354.2 L394.0 353.7 L396.0 353.0 L398.0 352.3 L400.0 351.3 L402.0 350.2 L404.0 349.0 L406.0 347.7 L408.0 346.5 L410.0 345.2 L412.0 343.8 L414.0 342.2 L416.0 340.3 L418.0 338.0 L420.0 335.4 L422.0 332.8 L424.0 330.2 L426.0 327.5 L428.0 325.0 L430.0 322.5 L432.0 320.1 L434.0 317.7 L436.0 315.4 L438.0 313.2 L440.0 311.3 L442.0 309.5 L444.0 307.9 L446.0 306.3 L448.0 304.9 L450.0 303.6 L452.0 302.4 L454.0 301.5 L456.0 300.8 L458.0 300.5 L460.0 300.6 L462.0 301.0 L464.0 301.6" fill="none" stroke="#dcdcdc" stroke-width="0.85"/>
<path d="M364.0 367.6 L366.0 366.8 L368.0 366.1 L370.0 365.3 L372.0 364.6 L374.0 363.8 L376.0 363.1 L378.0 362.4 L380.0 361.6 L382.0 360.9 L384.0 360.2 L386.0 359.6 L388.0 358.9 L390.0 358.2 L392.0 357.6 L394.0 356.9 L396.0 356.2 L398.0 355.4 L400.0 354.6 L402.0 353.5 L404.0 352.4 L406.0 351.2 L408.0 349.9 L410.0 348.7 L412.0 347.4 L414.0 346.0 L416.0 344.4 L418.0 342.4 L420.0 340.0 L422.0 337.3 L424.0 334.5 L426.0 331.6 L428.0 328.8 L430.0 326.0 L432.0 323.3 L434.0 320.7 L436.0 318.3 L438.0 315.9 L440.0 313.7 L442.0 311.7 L444.0 310.2 L446.0 309.0 L448.0 308.1 L450.0 307.4 L452.0 306.8 L454.0 306.6 L456.0 306.6 L458.0 306.9 L460.0 307.2 L462.0 307.6 L464.0 308.0" fill="none" stroke="#dcdcdc" stroke-width="0.85"/>
<path d="M364.0 376.1 L366.0 374.8 L368.0 373.4 L370.0 372.1 L372.0 370.8 L374.0 369.5 L376.0 368.4 L378.0 367.3 L380.0 366.4 L382.0 365.6 L384.0 364.9 L386.0 364.1 L388.0 363.4 L390.0 362.6 L392.0 361.9 L394.0 361.1 L396.0 360.4 L398.0 359.6 L400.0 358.9 L402.0 358.1 L404.0 357.4 L406.0 356.6 L408.0 355.7 L410.0 354.6 L412.0 353.2 L414.0 351.5 L416.0 349.6 L418.0 347.6 L420.0 345.6 L422.0 343.6 L424.0 341.5 L426.0 339.4 L428.0 337.2 L430.0 334.9 L432.0 332.6 L434.0 330.3 L436.0 328.0 L438.0 325.9 L440.0 324.0 L442.0 322.3 L444.0 320.6 L446.0 319.1 L448.0 317.6 L450.0 316.3 L452.0 315.2 L454.0 314.4 L456.0 313.9 L458.0 314.2 L460.0 315.2 L462.0 316.8 L464.0 318.7" fill="none" stroke="#dcdcdc" stroke-width="0.85"/>
<path d="M364.0 342.1 L366.0 341.8 L368.0 341.6 L370.0 341.3 L372.0 341.1 L374.0 340.8 L376.0 340.6 L378.0 340.3 L380.0 340.2 L382.0 340.0 L384.0 340.0 L386.0 339.9 L388.0 339.9 L390.0 339.9 L392.0 339.9 L394.0 339.9 L396.0 339.9 L398.0 339.9 L400.0 339.9 L402.0 339.9 L404.0 339.9 L406.0 339.9 L408.0 339.9 L410.0 339.9 L412.0 339.9 L414.0 339.7 L416.0 339.4 L418.0 338.9 L420.0 338.3 L422.0 337.6 L424.0 336.9 L426.0 336.3 L428.0 335.5 L430.0 334.8 L432.0 334.0 L434.0 333.2 L436.0 332.5 L438.0 331.8 L440.0 331.3 L442.0 330.9 L444.0 330.5 L446.0 330.2 L448.0 329.9 L450.0 329.7 L452.0 329.7 L454.0 329.9 L456.0 330.1 L458.0 330.4 L460.0 330.8 L462.0 331.1 L464.0 331.4" fill="none" stroke="#dcdcdc" stroke-width="0.85"/>
<path d="M364.0 350.6 L366.0 350.1 L368.0 349.6 L370.0 349.1 L372.0 348.6 L374.0 348.1 L376.0 347.6 L378.0 347.1 L380.0 346.6 L382.0 346.1 L384.0 345.6 L386.0 345.1 L388.0 344.6 L390.0 344.1 L392.0 343.6 L394.0 343.1 L396.0 342.6 L398.0 342.0 L400.0 341.5 L402.0 340.9 L404.0 340.4 L406.0 339.8 L408.0 339.2 L410.0 338.5 L412.0 337.6 L414.0 336.5 L416.0 335.1 L418.0 333.6 L420.0 331.9 L422.0 330.3 L424.0 328.6 L426.0 327.0 L428.0 325.3 L430.0 323.7 L432.0 322.2 L434.0 320.7 L436.0 319.3 L438.0 318.2 L440.0 317.3 L442.0 316.5 L444.0 315.9 L446.0 315.6 L448.0 315.8 L450.0 316.5 L452.0 317.5 L454.0 318.7 L456.0 320.2 L458.0 322.0 L460.0 324.2 L462.0 326.7 L464.0 329.3" fill="none" stroke="#dcdcdc" stroke-width="0.85"/>
<path d="M364.0 365.5 L366.0 365.5 L368.0 365.5 L370.0 365.5 L372.0 365.5 L374.0 365.5 L376.0 365.5 L378.0 365.5 L380.0 365.5 L382.0 365.4 L384.0 365.3 L386.0 365.1 L388.0 364.9 L390.0 364.5 L392.0 364.1 L394.0 363.7 L396.0 363.3 L398.0 362.9 L400.0 362.5 L402.0 362.1 L404.0 361.6 L406.0 361.0 L408.0 360.3 L410.0 359.4 L412.0 358.5 L414.0 357.5 L416.0 356.5 L418.0 355.5 L420.0 354.5 L422.0 353.4 L424.0 352.3 L426.0 351.0 L428.0 349.7 L430.0 348.4 L432.0 347.1 L434.0 345.9 L436.0 344.8 L438.0 343.8 L440.0 343.0 L442.0 342.3 L444.0 341.7 L446.0 341.1 L448.0 340.6 L450.0 340.4 L452.0 340.5 L454.0 340.7 L456.0 340.9 L458.0 341.2 L460.0 341.5 L462.0 341.8 L464.0 342.1" fill="none" stroke="#dcdcdc" stroke-width="0.85"/>
<path d="M364.0 352.7 L366.0 352.0 L368.0 351.4 L370.0 350.7 L372.0 350.0 L374.0 349.3 L376.0 348.6 L378.0 347.7 L380.0 346.8 L382.0 345.8 L384.0 344.8 L386.0 343.9 L388.0 343.1 L390.0 342.6 L392.0 342.2 L394.0 342.1 L396.0 342.1 L398.0 342.1 L400.0 342.1 L402.0 342.1 L404.0 342.2 L406.0 342.4 L408.0 342.8 L410.0 343.4 L412.0 344.1 L414.0 344.9 L416.0 345.6 L418.0 346.3 L420.0 347.1 L422.0 347.7 L424.0 348.3 L426.0 348.8 L428.0 349.2 L430.0 349.5 L432.0 349.8 L434.0 350.1 L436.0 350.2 L438.0 350.1 L440.0 349.9 L442.0 349.6 L444.0 349.3 L446.0 349.0 L448.0 348.6 L450.0 348.3 L452.0 348.0 L454.0 347.7 L456.0 347.5 L458.0 347.2 L460.0 346.9 L462.0 346.6 L464.0 346.3" fill="none" stroke="#dcdcdc" stroke-width="0.85"/>
<path d="M364.0 371.9 L366.0 371.6 L368.0 371.4 L370.0 371.1 L372.0 370.9 L374.0 370.6 L376.0 370.3 L378.0 370.1 L380.0 369.8 L382.0 369.4 L384.0 369.0 L386.0 368.6 L388.0 368.2 L390.0 367.7 L392.0 367.3 L394.0 366.8 L396.0 366.4 L398.0 365.9 L400.0 365.3 L402.0 364.7 L404.0 364.0 L406.0 363.3 L408.0 362.5 L410.0 361.8 L412.0 361.0 L414.0 360.2 L416.0 359.4 L418.0 358.5 L420.0 357.4 L422.0 356.3 L424.0 355.2 L426.0 354.0 L428.0 352.9 L430.0 351.7 L432.0 350.5 L434.0 349.3 L436.0 348.0 L438.0 346.6 L440.0 345.3 L442.0 344.1 L444.0 343.0 L446.0 342.2 L448.0 341.5 L450.0 341.1 L452.0 340.7 L454.0 340.5 L456.0 340.5 L458.0 340.7 L460.0 341.1 L462.0 341.6 L464.0 342.1" fill="none" stroke="#dcdcdc" stroke-width="0.85"/>
<path d="M368.3 339.9 L370.3 339.7 L372.3 339.4 L374.3 339.2 L376.3 338.9 L378.3 338.7 L380.3 338.5 L382.3 338.2 L384.3 338.1 L386.3 338.1 L388.3 338.2 L390.3 338.4 L392.3 338.7 L394.3 338.9 L396.3 339.2 L398.3 339.5 L400.3 339.8 L402.3 340.2 L404.3 340.8 L406.3 341.5 L408.3 342.2 L410.3 342.9 L412.3 343.7 L414.3 344.4 L416.3 345.0 L418.3 345.5 L420.3 345.7 L422.3 345.7 L424.3 345.5 L426.3 345.1 L428.3 344.8 L430.3 344.2 L432.3 343.5 L434.3 342.5 L436.3 341.4 L438.3 340.1 L440.3 338.8 L442.3 337.6 L444.3 336.5 L446.3 335.7 L448.3 335.1 L450.3 334.6 L452.3 334.3 L454.3 334.1 L456.3 334.1 L458.3 334.4 L460.3 334.8 L462.3 335.3 L463.8 335.6" fill="none" stroke="#dcdcdc" stroke-width="0.85"/>
<path d="M320.0 323.1 L322.0 327.5 L324.0 331.7 L326.0 335.6 L328.0 338.9 L330.0 341.2 L332.0 342.6 L334.0 343.5 L336.0 344.0 L338.0 344.2 L340.0 344.2 L342.0 343.9 L344.0 343.6 L346.0 343.3 L348.0 343.0 L350.0 342.6 L352.0 342.3 L354.0 342.0 L356.0 341.8 L358.0 341.6 L360.0 341.5 L362.0 341.5 L364.0 341.5 L366.0 341.4 L368.0 341.3 L370.0 341.1 L372.0 340.8 L374.0 340.6 L376.0 340.3 L378.0 340.1 L380.0 339.8" fill="none" stroke="#dcdcdc" stroke-width="0.85"/>
<path d="M320.0 329.8 L322.0 332.6 L324.0 335.3 L326.0 337.9 L328.0 340.1 L330.0 341.8 L332.0 343.2 L334.0 344.2 L336.0 345.1 L338.0 345.8 L340.0 346.2 L342.0 346.4 L344.0 346.5 L346.0 346.4 L348.0 346.3 L350.0 346.2 L352.0 345.9 L354.0 345.6 L356.0 345.2 L358.0 344.9 L360.0 344.6 L362.0 344.3 L364.0 343.9 L366.0 343.7 L368.0 343.6 L370.0 343.6 L372.0 343.7 L374.0 344.0 L376.0 344.3 L378.0 344.5 L380.0 344.8" fill="none" stroke="#dcdcdc" stroke-width="0.85"/>
<path d="M320.0 336.5 L322.0 337.8 L324.0 339.1 L326.0 340.5 L328.0 341.8 L330.0 343.1 L332.0 344.5 L334.0 345.8 L336.0 347.1 L338.0 348.3 L340.0 349.2 L342.0 349.9 L344.0 350.4 L346.0 350.8 L348.0 351.0 L350.0 351.1 L352.0 351.1 L354.0 350.8 L356.0 350.5 L358.0 350.2 L360.0 349.9 L362.0 349.5 L364.0 349.2 L366.0 348.9 L368.0 348.6 L370.0 348.4 L372.0 348.3 L374.0 348.2 L376.0 348.2 L378.0 348.2 L380.0 348.2" fill="none" stroke="#dcdcdc" stroke-width="0.85"/>
<path d="M320.0 313.1 L322.0 318.0 L324.0 322.9 L326.0 327.4 L328.0 331.7 L330.0 335.6 L332.0 339.2 L334.0 342.5 L336.0 345.5 L338.0 348.2 L340.0 350.6 L342.0 352.8 L344.0 354.8 L346.0 356.4 L348.0 357.9 L350.0 359.2 L352.0 360.4 L354.0 361.4 L356.0 362.3 L358.0 363.0 L360.0 363.6 L362.0 364.1 L364.0 364.2 L366.0 364.1 L368.0 363.7 L370.0 363.2 L372.0 362.6 L374.0 361.9 L376.0 361.3 L378.0 360.6 L380.0 359.9" fill="none" stroke="#dcdcdc" stroke-width="0.85"/>
<path d="M320.0 309.7 L322.0 314.9 L324.0 320.1 L326.0 325.2 L328.0 330.1 L330.0 334.8 L332.0 339.3 L334.0 343.6 L336.0 347.5 L338.0 351.0 L340.0 354.0 L342.0 356.8 L344.0 359.4 L346.0 361.8 L348.0 363.9 L350.0 365.8 L352.0 367.5 L354.0 369.1 L356.0 370.4 L358.0 371.4 L360.0 372.1 L362.0 372.5 L364.0 372.6 L366.0 372.4 L368.0 372.0 L370.0 371.3 L372.0 370.5 L374.0 369.6 L376.0 368.6 L378.0 367.6 L380.0 366.6" fill="none" stroke="#dcdcdc" stroke-width="0.85"/>
<path d="M320.0 341.5 L322.0 342.2 L324.0 342.8 L326.0 343.5 L328.0 344.3 L330.0 345.2 L332.0 346.3 L334.0 347.5 L336.0 348.8 L338.0 350.0 L340.0 351.1 L342.0 352.1 L344.0 353.0 L346.0 353.7 L348.0 354.5 L350.0 355.2 L352.0 355.8 L354.0 356.2 L356.0 356.4 L358.0 356.5 L360.0 356.5 L362.0 356.3 L364.0 356.0 L366.0 355.4 L368.0 354.8 L370.0 354.1 L372.0 353.6 L374.0 353.4 L376.0 353.2 L378.0 353.2 L380.0 353.2" fill="none" stroke="#dcdcdc" stroke-width="0.85"/>
<path d="M320.0 343.2 L322.0 343.2 L324.0 343.2 L326.0 343.2 L328.0 343.2 L330.0 343.1 L332.0 343.1 L334.0 342.9 L336.0 342.7 L338.0 342.5 L340.0 342.2 L342.0 341.9 L344.0 341.6 L346.0 341.3 L348.0 341.0 L350.0 340.7 L352.0 340.4 L354.0 340.2 L356.0 340.2 L358.0 340.4 L360.0 340.6 L362.0 340.9 L364.0 341.2 L366.0 341.4 L368.0 341.4 L370.0 341.5 L372.0 341.4 L374.0 341.3 L376.0 340.9 L378.0 340.4 L380.0 339.8" fill="none" stroke="#dcdcdc" stroke-width="0.85"/>
<line x1="327.50" y1="294.10" x2="327.50" y2="385.20" stroke="#bdbdbd" stroke-width="0.9" stroke-dasharray="3 2.5"/>
<line x1="365.90" y1="294.10" x2="365.90" y2="385.20" stroke="#bdbdbd" stroke-width="0.9" stroke-dasharray="3 2.5"/>
<path d="M266.00 347.80 L267.00 347.60 L268.00 347.39 L269.00 347.19 L270.00 346.98 L271.00 346.75 L272.00 346.50 L273.00 346.19 L274.00 345.85 L275.00 345.48 L276.00 345.09 L277.00 344.68 L278.00 344.24 L279.00 343.76 L280.00 343.22 L281.00 342.65 L282.00 342.05 L283.00 341.43 L284.00 340.80 L285.00 340.15 L286.00 339.46 L287.00 338.74 L288.00 338.01 L289.00 337.26 L290.00 336.50 L291.00 335.73 L292.00 334.92 L293.00 334.09 L294.00 333.25 L295.00 332.39 L296.00 331.54 L297.00 330.69 L298.00 329.86 L299.00 329.04 L300.00 328.23 L301.00 327.43 L302.00 326.64 L303.00 325.87 L304.00 325.12 L305.00 324.42 L306.00 323.76 L307.00 323.14 L308.00 322.57 L309.00 322.10 L310.00 321.77 L311.00 321.59 L312.00 321.56 L313.00 321.71 L314.00 322.05 L315.00 322.56 L316.00 323.20 L317.00 323.92 L318.00 324.72 L319.00 325.64 L320.00 326.67 L321.00 327.79 L322.00 328.97 L323.00 330.20 L324.00 331.43 L325.00 332.67 L326.00 333.87 L327.00 335.05 L328.00 336.19 L329.00 337.31 L330.00 338.39 L331.00 339.40 L332.00 340.35 L333.00 341.22 L334.00 342.04 L335.00 342.84 L336.00 343.62 L337.00 344.37 L338.00 345.08 L339.00 345.73 L340.00 346.35 L341.00 346.96 L342.00 347.55 L343.00 348.12 L344.00 348.69 L345.00 349.22 L346.00 349.74 L347.00 350.25 L348.00 350.75 L349.00 351.26 L350.00 351.78 L351.00 352.31 L352.00 352.85 L353.00 353.41 L354.00 353.97 L355.00 354.52 L356.00 355.06 L357.00 355.57 L358.00 356.04 L359.00 356.49 L360.00 356.91 L361.00 357.29 L362.00 357.60 L363.00 357.83 L364.00 357.98 L365.00 358.07 L366.00 358.08 L367.00 357.99 L368.00 357.80 L369.00 357.54 L370.00 357.22 L371.00 356.84 L372.00 356.40 L373.00 355.91 L374.00 355.40 L375.00 354.90 L376.00 354.44 L377.00 354.05 L378.00 353.71 L379.00 353.40 L380.00 353.11 L381.00 352.83 L382.00 352.56 L383.00 352.32 L384.00 352.10 L385.00 351.89 L386.00 351.70 L387.00 351.52 L388.00 351.34 L389.00 351.19 L390.00 351.05 L391.00 350.94 L392.00 350.84 L393.00 350.74 L394.00 350.64 L395.00 350.54 L396.00 350.43 L397.00 350.31 L398.00 350.19 L399.00 350.06 L400.00 349.93 L401.00 349.79 L402.00 349.64 L403.00 349.48 L404.00 349.30 L405.00 349.12 L406.00 348.93 L407.00 348.73 L408.00 348.51 L409.00 348.27 L410.00 348.01 L411.00 347.74 L412.00 347.46 L413.00 347.17 L414.00 346.86 L415.00 346.53 L416.00 346.17 L417.00 345.80 L418.00 345.41 L419.00 345.02 L420.00 344.62 L421.00 344.23 L422.00 343.82 L423.00 343.41 L424.00 343.00 L425.00 342.58 L426.00 342.13 L427.00 341.67 L428.00 341.18 L429.00 340.66 L430.00 340.12 L431.00 339.55 L432.00 338.97 L433.00 338.38 L434.00 337.80 L435.00 337.22 L436.00 336.65 L437.00 336.09 L438.00 335.54 L439.00 334.99 L440.00 334.46 L441.00 333.95 L442.00 333.49 L443.00 333.07 L444.00 332.69 L445.00 332.34 L446.00 332.00 L447.00 331.69 L448.00 331.40 L449.00 331.17 L450.00 330.99 L451.00 330.83 L452.00 330.69 L453.00 330.57 L454.00 330.47 L455.00 330.43 L456.00 330.44 L457.00 330.49 L458.00 330.57 L459.00 330.66 L460.00 330.80 L461.00 331.01 L462.00 331.31 L463.00 331.68 L464.00 332.10" fill="none" stroke="#000" stroke-width="1.55" stroke-linejoin="round" stroke-linecap="round"/>
</g>
<rect x="266.50" y="294.10" width="198.00" height="91.10" fill="none" stroke="#a0a0a0" stroke-width="1.00"/>
<line x1="266.50" y1="303.70" x2="268.50" y2="303.70" stroke="#888" stroke-width="0.8"/>
<line x1="462.50" y1="303.70" x2="464.50" y2="303.70" stroke="#888" stroke-width="0.8"/>
<text x="264.20" y="306.10" font-size="6.70" fill="#444" text-anchor="end">6</text>
<line x1="266.50" y1="317.10" x2="268.50" y2="317.10" stroke="#888" stroke-width="0.8"/>
<line x1="462.50" y1="317.10" x2="464.50" y2="317.10" stroke="#888" stroke-width="0.8"/>
<text x="264.20" y="319.50" font-size="6.70" fill="#444" text-anchor="end">4</text>
<line x1="266.50" y1="330.60" x2="268.50" y2="330.60" stroke="#888" stroke-width="0.8"/>
<line x1="462.50" y1="330.60" x2="464.50" y2="330.60" stroke="#888" stroke-width="0.8"/>
<text x="264.20" y="333.00" font-size="6.70" fill="#444" text-anchor="end">2</text>
<line x1="266.50" y1="344.10" x2="268.50" y2="344.10" stroke="#888" stroke-width="0.8"/>
<line x1="462.50" y1="344.10" x2="464.50" y2="344.10" stroke="#888" stroke-width="0.8"/>
<text x="264.20" y="346.50" font-size="6.70" fill="#444" text-anchor="end">0</text>
<line x1="266.50" y1="357.50" x2="268.50" y2="357.50" stroke="#888" stroke-width="0.8"/>
<line x1="462.50" y1="357.50" x2="464.50" y2="357.50" stroke="#888" stroke-width="0.8"/>
<text x="264.20" y="359.90" font-size="6.70" fill="#444" text-anchor="end">-2</text>
<line x1="266.50" y1="370.90" x2="268.50" y2="370.90" stroke="#888" stroke-width="0.8"/>
<line x1="462.50" y1="370.90" x2="464.50" y2="370.90" stroke="#888" stroke-width="0.8"/>
<text x="264.20" y="373.30" font-size="6.70" fill="#444" text-anchor="end">-4</text>
<line x1="266.50" y1="384.00" x2="268.50" y2="384.00" stroke="#888" stroke-width="0.8"/>
<line x1="462.50" y1="384.00" x2="464.50" y2="384.00" stroke="#888" stroke-width="0.8"/>
<text x="264.20" y="386.40" font-size="6.70" fill="#444" text-anchor="end">-6</text>
<line x1="327.50" y1="383.20" x2="327.50" y2="385.20" stroke="#888" stroke-width="0.8"/>
<line x1="327.50" y1="294.10" x2="327.50" y2="296.10" stroke="#888" stroke-width="0.8"/>
<line x1="365.90" y1="383.20" x2="365.90" y2="385.20" stroke="#888" stroke-width="0.8"/>
<line x1="365.90" y1="294.10" x2="365.90" y2="296.10" stroke="#888" stroke-width="0.8"/>
<text x="327.80" y="394.90" font-size="6.70" fill="#444" text-anchor="middle">T<tspan font-size="4.4" dy="2.3">r</tspan><tspan dy="-2.3"> - 5s</tspan></text>
<text x="366.20" y="394.90" font-size="6.70" fill="#444" text-anchor="middle">T<tspan font-size="4.4" dy="2.3">r</tspan><tspan dy="-2.3"> = 0</tspan></text>
<text x="365.50" y="406.10" font-size="7.10" fill="#444" text-anchor="middle">Relative time</text>
<text transform="translate(254.90 339.65) rotate(-90)" font-size="7.10" fill="#444" text-anchor="middle">Normalized amplitude</text>
<text transform="translate(335.80 296.60) rotate(-90)" font-size="6.75" fill="#444" text-anchor="end">Button Press</text>
<text transform="translate(374.20 296.60) rotate(-90)" font-size="6.75" fill="#444" text-anchor="end">Screenshot start</text>
<text x="365.50" y="288.30" font-size="7.15" font-weight="bold" class="t" fill="#000" text-anchor="middle">Motor<tspan font-size="5.2" dy="2.9">L</tspan></text>
<clipPath id="c7"><rect x="28.50" y="429.20" width="198.00" height="93.80"/></clipPath>
<g clip-path="url(#c7)">
<path d="M28.0 476.9 L30.0 476.2 L32.0 475.4 L34.0 474.7 L36.0 473.9 L38.0 473.2 L40.0 472.4 L42.0 471.6 L44.0 470.7 L46.0 469.6 L48.0 468.3 L50.0 467.0 L52.0 465.6 L54.0 464.1 L56.0 462.7 L58.0 461.1 L60.0 459.5 L62.0 457.7 L64.0 455.8 L66.0 453.8 L68.0 451.8 L70.0 449.8 L72.0 447.8 L74.0 445.8 L76.0 443.8 L78.0 441.9 L80.0 439.9 L82.0 438.2 L84.0 436.6 L86.0 435.3 L88.0 434.3 L90.0 433.6 L92.0 433.1 L94.0 433.1 L96.0 433.4 L98.0 433.9 L100.0 434.6 L102.0 435.3 L104.0 436.3 L106.0 437.2 L108.0 438.2 L110.0 439.2 L112.0 440.1 L114.0 440.8 L116.0 441.5 L118.0 442.2 L120.0 442.7 L122.0 443.3 L124.0 443.9 L126.0 444.4 L128.0 445.0" fill="none" stroke="#dcdcdc" stroke-width="0.85"/>
<path d="M28.0 483.3 L30.0 483.0 L32.0 482.7 L34.0 482.5 L36.0 482.2 L38.0 481.9 L40.0 481.5 L42.0 481.0 L44.0 480.2 L46.0 479.3 L48.0 478.3 L50.0 477.1 L52.0 476.0 L54.0 474.8 L56.0 473.5 L58.0 472.0 L60.0 470.3 L62.0 468.4 L64.0 466.5 L66.0 464.4 L68.0 462.3 L70.0 460.1 L72.0 457.6 L74.0 455.0 L76.0 452.3 L78.0 449.7 L80.0 447.3 L82.0 445.4 L84.0 443.9 L86.0 442.8 L88.0 442.0 L90.0 441.6 L92.0 441.5 L94.0 441.7 L96.0 442.1 L98.0 442.5 L100.0 443.0 L102.0 443.5 L104.0 444.1 L106.0 444.8 L108.0 445.4 L110.0 446.1 L112.0 446.6 L114.0 447.1 L116.0 447.5 L118.0 447.8 L120.0 448.1 L122.0 448.4 L124.0 448.7 L126.0 449.0 L128.0 449.3" fill="none" stroke="#dcdcdc" stroke-width="0.85"/>
<path d="M28.0 491.8 L30.0 492.1 L32.0 492.3 L34.0 492.6 L36.0 492.8 L38.0 493.1 L40.0 493.3 L42.0 493.5 L44.0 493.5 L46.0 493.4 L48.0 493.1 L50.0 492.7 L52.0 492.2 L54.0 491.7 L56.0 491.2 L58.0 490.6 L60.0 489.8 L62.0 488.6 L64.0 486.9 L66.0 484.8 L68.0 482.4 L70.0 479.8 L72.0 476.8 L74.0 473.3 L76.0 469.3 L78.0 465.0 L80.0 460.6 L82.0 456.4 L84.0 452.5 L86.0 449.2 L88.0 446.7 L90.0 445.0 L92.0 444.1 L94.0 443.6 L96.0 443.4 L98.0 443.4 L100.0 443.6 L102.0 443.9 L104.0 444.2 L106.0 444.7 L108.0 445.3 L110.0 446.1 L112.0 447.2 L114.0 448.5 L116.0 449.8 L118.0 451.1 L120.0 452.5 L122.0 453.8 L124.0 455.1 L126.0 456.5 L128.0 457.8" fill="none" stroke="#dcdcdc" stroke-width="0.85"/>
<path d="M28.0 502.5 L30.0 503.1 L32.0 503.8 L34.0 504.5 L36.0 505.1 L38.0 505.7 L40.0 506.0 L42.0 506.2 L44.0 506.1 L46.0 505.8 L48.0 505.5 L50.0 505.1 L52.0 504.5 L54.0 503.6 L56.0 502.3 L58.0 500.8 L60.0 499.2 L62.0 497.5 L64.0 495.6 L66.0 493.4 L68.0 490.8 L70.0 487.9 L72.0 484.8 L74.0 481.7 L76.0 478.5 L78.0 475.4 L80.0 472.4 L82.0 469.6 L84.0 467.1 L86.0 465.2 L88.0 464.0 L90.0 463.2 L92.0 462.7 L94.0 462.5 L96.0 462.6 L98.0 462.8 L100.0 463.1 L102.0 463.4 L104.0 463.8 L106.0 464.2 L108.0 464.7 L110.0 465.3 L112.0 465.9 L114.0 466.6 L116.0 467.2 L118.0 467.9 L120.0 468.5 L122.0 469.0 L124.0 469.5 L126.0 470.1 L128.0 470.6" fill="none" stroke="#dcdcdc" stroke-width="0.85"/>
<path d="M28.0 511.0 L30.0 511.6 L32.0 512.3 L34.0 513.0 L36.0 513.6 L38.0 514.2 L40.0 514.7 L42.0 515.0 L44.0 515.2 L46.0 515.2 L48.0 515.2 L50.0 515.2 L52.0 515.1 L54.0 514.9 L56.0 514.3 L58.0 513.4 L60.0 512.3 L62.0 511.0 L64.0 509.6 L66.0 508.0 L68.0 506.1 L70.0 503.7 L72.0 500.8 L74.0 497.7 L76.0 494.4 L78.0 490.9 L80.0 487.1 L82.0 483.0 L84.0 478.8 L86.0 474.8 L88.0 471.4 L90.0 468.6 L92.0 466.3 L94.0 464.5 L96.0 463.1 L98.0 462.1 L100.0 461.5 L102.0 461.1 L104.0 460.8 L106.0 460.5 L108.0 460.4 L110.0 460.4 L112.0 460.6 L114.0 461.0 L116.0 461.4 L118.0 461.9 L120.0 462.6 L122.0 463.4 L124.0 464.3 L126.0 465.3 L128.0 466.3" fill="none" stroke="#dcdcdc" stroke-width="0.85"/>
<path d="M28.0 466.3 L30.0 466.3 L32.0 466.3 L34.0 466.3 L36.0 466.3 L38.0 466.3 L40.0 466.3 L42.0 466.3 L44.0 466.3 L46.0 466.3 L48.0 466.3 L50.0 466.3 L52.0 466.3 L54.0 466.3 L56.0 466.3 L58.0 466.1 L60.0 465.9 L62.0 465.5 L64.0 464.9 L66.0 464.3 L68.0 463.6 L70.0 462.9 L72.0 462.2 L74.0 461.5 L76.0 460.7 L78.0 459.9 L80.0 459.1 L82.0 458.4 L84.0 457.8 L86.0 457.2 L88.0 456.7 L90.0 456.2 L92.0 455.9 L94.0 455.8 L96.0 455.7 L98.0 455.7 L100.0 455.7 L102.0 455.7 L104.0 455.8 L106.0 456.0 L108.0 456.3 L110.0 456.6 L112.0 456.9 L114.0 457.2 L116.0 457.6 L118.0 457.9 L120.0 458.3 L122.0 458.7 L124.0 459.1 L126.0 459.5 L128.0 459.9" fill="none" stroke="#dcdcdc" stroke-width="0.85"/>
<path d="M28.0 498.2 L30.0 498.2 L32.0 498.2 L34.0 498.2 L36.0 498.2 L38.0 498.2 L40.0 498.2 L42.0 498.2 L44.0 498.1 L46.0 498.0 L48.0 497.8 L50.0 497.6 L52.0 497.3 L54.0 497.1 L56.0 496.8 L58.0 496.5 L60.0 496.2 L62.0 495.6 L64.0 494.9 L66.0 494.1 L68.0 493.1 L70.0 492.1 L72.0 491.0 L74.0 489.9 L76.0 488.5 L78.0 487.1 L80.0 485.5 L82.0 484.0 L84.0 482.5 L86.0 481.0 L88.0 479.7 L90.0 478.5 L92.0 477.3 L94.0 476.2 L96.0 475.2 L98.0 474.3 L100.0 473.5 L102.0 472.8 L104.0 472.2 L106.0 471.5 L108.0 471.0 L110.0 470.5 L112.0 470.1 L114.0 469.7 L116.0 469.4 L118.0 469.1 L120.0 468.8 L122.0 468.6 L124.0 468.5 L126.0 468.4 L128.0 468.4" fill="none" stroke="#dcdcdc" stroke-width="0.85"/>
<path d="M28.0 485.4 L30.0 485.8 L32.0 486.1 L34.0 486.4 L36.0 486.8 L38.0 487.2 L40.0 487.6 L42.0 488.1 L44.0 488.7 L46.0 489.3 L48.0 490.0 L50.0 490.6 L52.0 491.2 L54.0 491.7 L56.0 492.2 L58.0 492.6 L60.0 492.9 L62.0 493.2 L64.0 493.4 L66.0 493.5 L68.0 493.4 L70.0 493.2 L72.0 492.8 L74.0 492.3 L76.0 491.5 L78.0 490.5 L80.0 489.2 L82.0 487.7 L84.0 486.2 L86.0 484.6 L88.0 483.0 L90.0 481.4 L92.0 479.8 L94.0 478.2 L96.0 476.8 L98.0 475.5 L100.0 474.5 L102.0 473.6 L104.0 472.9 L106.0 472.2 L108.0 471.6 L110.0 470.9 L112.0 470.4 L114.0 469.8 L116.0 469.3 L118.0 468.8 L120.0 468.3 L122.0 467.8 L124.0 467.3 L126.0 466.8 L128.0 466.3" fill="none" stroke="#dcdcdc" stroke-width="0.85"/>
<path d="M28.0 470.6 L30.0 471.3 L32.0 472.1 L34.0 472.8 L36.0 473.6 L38.0 474.3 L40.0 475.0 L42.0 475.8 L44.0 476.5 L46.0 477.1 L48.0 477.8 L50.0 478.4 L52.0 478.9 L54.0 479.5 L56.0 480.0 L58.0 480.4 L60.0 480.7 L62.0 480.6 L64.0 480.5 L66.0 480.2 L68.0 479.8 L70.0 479.3 L72.0 478.6 L74.0 477.6 L76.0 476.3 L78.0 474.8 L80.0 473.2 L82.0 471.5 L84.0 469.7 L86.0 467.8 L88.0 465.9 L90.0 464.0 L92.0 462.1 L94.0 460.4 L96.0 458.7 L98.0 457.2 L100.0 455.7 L102.0 454.4 L104.0 453.3 L106.0 452.4 L108.0 451.7 L110.0 451.0 L112.0 450.5 L114.0 450.0 L116.0 449.8 L118.0 449.9 L120.0 450.1 L122.0 450.4 L124.0 450.7 L126.0 451.1 L128.0 451.4" fill="none" stroke="#dcdcdc" stroke-width="0.85"/>
<path d="M36.5 451.4 L38.5 450.1 L40.5 448.7 L42.5 447.4 L44.5 446.1 L46.5 444.8 L48.5 443.5 L50.5 442.4 L52.5 441.3 L54.5 440.3 L56.5 439.3 L58.5 438.3 L60.5 437.5 L62.5 436.8 L64.5 436.2 L66.5 435.8 L68.5 435.4 L70.5 435.1 L72.5 434.9 L74.5 434.8 L76.5 434.8 L78.5 435.1 L80.5 435.3 L82.5 435.7 L84.5 436.1 L86.5 436.5 L88.5 437.1 L90.5 437.7 L92.5 438.5 L94.5 439.3 L96.5 440.0 L98.5 440.6 L100.5 441.1 L102.5 441.6 L104.5 442.0 L106.5 442.2 L108.5 442.3 L110.5 442.0 L112.5 441.6 L114.5 441.0 L116.5 440.3 L118.5 439.7 L120.5 439.0 L122.5 438.3 L124.5 437.7 L126.5 437.0 L127.8 436.6" fill="none" stroke="#dcdcdc" stroke-width="0.85"/>
<path d="M126.0 445.0 L128.0 446.7 L130.0 448.4 L132.0 450.0 L134.0 451.7 L136.0 453.5 L138.0 455.3 L140.0 457.3 L142.0 459.5 L144.0 461.8 L146.0 464.1 L148.0 466.5 L150.0 469.0 L152.0 471.6 L154.0 474.4 L156.0 477.3 L158.0 480.3 L160.0 483.2 L162.0 486.2 L164.0 489.1 L166.0 491.9 L168.0 494.6 L170.0 497.3 L172.0 499.9 L174.0 502.5 L176.0 504.8 L178.0 506.7 L180.0 508.3 L182.0 509.6 L184.0 510.7 L186.0 511.4 L188.0 511.7 L190.0 511.3 L192.0 510.4 L194.0 509.2 L196.0 507.7 L198.0 505.7 L200.0 503.1 L202.0 499.9 L204.0 496.4 L206.0 492.7 L208.0 488.6 L210.0 484.1 L212.0 479.1 L214.0 473.8 L216.0 468.6 L218.0 463.5 L220.0 458.7 L222.0 454.1 L224.0 449.5 L226.0 445.0" fill="none" stroke="#dcdcdc" stroke-width="0.85"/>
<path d="M126.0 453.5 L128.0 454.5 L130.0 455.5 L132.0 456.5 L134.0 457.5 L136.0 458.5 L138.0 459.6 L140.0 460.7 L142.0 462.0 L144.0 463.7 L146.0 465.6 L148.0 467.8 L150.0 470.0 L152.0 472.3 L154.0 474.6 L156.0 477.0 L158.0 479.4 L160.0 481.9 L162.0 484.5 L164.0 487.2 L166.0 489.8 L168.0 492.3 L170.0 494.7 L172.0 496.8 L174.0 498.6 L176.0 500.3 L178.0 501.7 L180.0 502.9 L182.0 503.6 L184.0 503.9 L186.0 503.7 L188.0 503.4 L190.0 503.0 L192.0 502.4 L194.0 501.3 L196.0 499.8 L198.0 497.8 L200.0 495.5 L202.0 493.2 L204.0 490.7 L206.0 488.0 L208.0 485.1 L210.0 481.8 L212.0 478.3 L214.0 474.7 L216.0 471.0 L218.0 467.2 L220.0 463.3 L222.0 459.4 L224.0 455.4 L226.0 451.4" fill="none" stroke="#dcdcdc" stroke-width="0.85"/>
<path d="M126.0 462.0 L128.0 462.0 L130.0 462.0 L132.0 462.0 L134.0 462.1 L136.0 462.1 L138.0 462.2 L140.0 462.3 L142.0 462.5 L144.0 462.8 L146.0 463.1 L148.0 463.4 L150.0 463.7 L152.0 464.2 L154.0 464.8 L156.0 465.7 L158.0 466.7 L160.0 467.8 L162.0 468.9 L164.0 470.1 L166.0 471.3 L168.0 472.6 L170.0 474.0 L172.0 475.6 L174.0 477.2 L176.0 478.9 L178.0 480.5 L180.0 482.0 L182.0 483.4 L184.0 484.6 L186.0 485.6 L188.0 486.6 L190.0 487.5 L192.0 488.2 L194.0 488.5 L196.0 488.3 L198.0 487.6 L200.0 486.7 L202.0 485.7 L204.0 484.6 L206.0 483.2 L208.0 481.4 L210.0 479.4 L212.0 477.1 L214.0 474.7 L216.0 472.3 L218.0 469.9 L220.0 467.4 L222.0 464.9 L224.0 462.4 L226.0 459.9" fill="none" stroke="#dcdcdc" stroke-width="0.85"/>
<path d="M126.0 470.6 L128.0 471.1 L130.0 471.6 L132.0 472.1 L134.0 472.6 L136.0 473.1 L138.0 473.6 L140.0 474.1 L142.0 474.6 L144.0 475.3 L146.0 476.0 L148.0 476.7 L150.0 477.4 L152.0 478.2 L154.0 478.9 L156.0 479.7 L158.0 480.4 L160.0 481.0 L162.0 481.6 L164.0 482.2 L166.0 482.7 L168.0 483.2 L170.0 483.7 L172.0 484.2 L174.0 484.7 L176.0 485.4 L178.0 486.1 L180.0 487.0 L182.0 487.9 L184.0 488.9 L186.0 489.9 L188.0 490.8 L190.0 491.7 L192.0 492.5 L194.0 493.2 L196.0 493.9 L198.0 494.5 L200.0 495.0 L202.0 495.1 L204.0 494.9 L206.0 494.2 L208.0 493.3 L210.0 492.4 L212.0 491.3 L214.0 490.1 L216.0 488.6 L218.0 486.9 L220.0 485.0 L222.0 483.1 L224.0 481.1 L226.0 479.1" fill="none" stroke="#dcdcdc" stroke-width="0.85"/>
<path d="M126.0 483.3 L128.0 483.7 L130.0 484.1 L132.0 484.5 L134.0 484.9 L136.0 485.3 L138.0 485.7 L140.0 486.1 L142.0 486.5 L144.0 486.9 L146.0 487.3 L148.0 487.6 L150.0 487.8 L152.0 488.0 L154.0 488.2 L156.0 488.4 L158.0 488.6 L160.0 488.8 L162.0 489.0 L164.0 489.2 L166.0 489.4 L168.0 489.4 L170.0 489.4 L172.0 489.2 L174.0 489.0 L176.0 488.8 L178.0 488.5 L180.0 488.3 L182.0 488.0 L184.0 487.6 L186.0 487.1 L188.0 486.4 L190.0 485.6 L192.0 484.8 L194.0 484.0 L196.0 483.0 L198.0 482.0 L200.0 480.6 L202.0 478.9 L204.0 476.8 L206.0 474.5 L208.0 471.9 L210.0 469.0 L212.0 465.6 L214.0 461.6 L216.0 457.3 L218.0 452.9 L220.0 448.3 L222.0 443.7 L224.0 439.0 L226.0 434.4" fill="none" stroke="#dcdcdc" stroke-width="0.85"/>
<path d="M126.0 491.8 L128.0 492.1 L130.0 492.3 L132.0 492.6 L134.0 492.8 L136.0 493.1 L138.0 493.3 L140.0 493.6 L142.0 493.9 L144.0 494.3 L146.0 494.7 L148.0 495.2 L150.0 495.7 L152.0 496.2 L154.0 496.7 L156.0 497.2 L158.0 497.6 L160.0 498.1 L162.0 498.4 L164.0 498.7 L166.0 499.0 L168.0 499.2 L170.0 499.5 L172.0 499.7 L174.0 499.9 L176.0 500.1 L178.0 500.2 L180.0 500.3 L182.0 500.3 L184.0 500.3 L186.0 500.3 L188.0 500.3 L190.0 500.1 L192.0 499.8 L194.0 499.3 L196.0 498.6 L198.0 497.7 L200.0 496.9 L202.0 496.0 L204.0 494.9 L206.0 493.5 L208.0 491.7 L210.0 489.3 L212.0 486.7 L214.0 483.8 L216.0 480.6 L218.0 477.1 L220.0 473.1 L222.0 468.8 L224.0 464.4 L226.0 459.9" fill="none" stroke="#dcdcdc" stroke-width="0.85"/>
<path d="M130.3 459.9 L132.3 460.4 L134.3 460.9 L136.3 461.4 L138.3 461.9 L140.3 462.4 L142.3 462.9 L144.3 463.4 L146.3 463.9 L148.3 464.5 L150.3 465.0 L152.3 465.6 L154.3 466.2 L156.3 466.7 L158.3 467.2 L160.3 467.7 L162.3 467.9 L164.3 467.9 L166.3 467.8 L168.3 467.5 L170.3 467.3 L172.3 467.0 L174.3 466.7 L176.3 466.4 L178.3 466.1 L180.3 465.8 L182.3 465.4 L184.3 465.1 L186.3 464.8 L188.3 464.5 L190.3 464.3 L192.3 464.2 L194.3 464.2 L196.3 464.2 L198.3 464.1 L200.3 464.0 L202.3 463.8 L204.3 463.4 L206.3 462.9 L208.3 462.3 L210.3 461.6 L212.3 460.9 L214.3 460.1 L216.3 459.2 L218.3 458.1 L220.3 457.0 L222.3 455.8 L224.3 454.6 L225.8 453.7" fill="none" stroke="#dcdcdc" stroke-width="0.85"/>
<path d="M126.0 479.1 L128.0 478.8 L130.0 478.6 L132.0 478.3 L134.0 478.1 L136.0 477.8 L138.0 477.6 L140.0 477.3 L142.0 477.1 L144.0 476.8 L146.0 476.6 L148.0 476.3 L150.0 476.1 L152.0 475.8 L154.0 475.6 L156.0 475.3 L158.0 475.1 L160.0 474.8 L162.0 474.6 L164.0 474.3 L166.0 474.1 L168.0 473.8 L170.0 473.6 L172.0 473.3 L174.0 473.1 L176.0 472.8 L178.0 472.5 L180.0 472.2 L182.0 471.9 L184.0 471.5 L186.0 471.2 L188.0 470.8 L190.0 470.3 L192.0 469.8 L194.0 469.1 L196.0 468.5 L198.0 467.8 L200.0 466.9 L202.0 465.9 L204.0 464.5 L206.0 462.8 L208.0 460.9 L210.0 458.8 L212.0 456.6 L214.0 454.0 L216.0 450.8 L218.0 447.0 L220.0 442.8 L222.0 438.5 L224.0 434.2 L226.0 430.1" fill="none" stroke="#dcdcdc" stroke-width="0.85"/>
<path d="M126.0 500.3 L128.0 500.5 L130.0 500.7 L132.0 500.9 L134.0 501.1 L136.0 501.3 L138.0 501.5 L140.0 501.7 L142.0 502.0 L144.0 502.2 L146.0 502.5 L148.0 503.0 L150.0 503.6 L152.0 504.3 L154.0 505.0 L156.0 505.7 L158.0 506.5 L160.0 507.3 L162.0 508.1 L164.0 509.0 L166.0 510.1 L168.0 511.4 L170.0 512.7 L172.0 514.0 L174.0 515.2 L176.0 516.4 L178.0 517.4 L180.0 518.3 L182.0 519.0 L184.0 519.7 L186.0 520.2 L188.0 520.7 L190.0 520.8 L192.0 520.6 L194.0 520.2 L196.0 519.5 L198.0 518.8 L200.0 517.9 L202.0 516.6 L204.0 514.7 L206.0 512.4 L208.0 509.7 L210.0 506.9 L212.0 503.8 L214.0 500.4 L216.0 496.7 L218.0 492.7 L220.0 488.1 L222.0 482.9 L224.0 477.0 L226.0 470.6" fill="none" stroke="#dcdcdc" stroke-width="0.85"/>
<path d="M84.0 438.3 L86.0 437.6 L88.0 436.9 L90.0 436.3 L92.0 435.7 L94.0 435.3 L96.0 435.0 L98.0 434.9 L100.0 434.9 L102.0 435.0 L104.0 435.2 L106.0 435.5 L108.0 436.1 L110.0 436.7 L112.0 437.6 L114.0 438.7 L116.0 440.3 L118.0 442.4 L120.0 444.7 L122.0 447.5 L124.0 450.6 L126.0 454.1 L128.0 457.7 L130.0 461.3 L132.0 464.7 L134.0 467.7 L136.0 470.4 L138.0 472.6 L140.0 474.5 L142.0 476.1 L144.0 477.6" fill="none" stroke="#dcdcdc" stroke-width="0.85"/>
<path d="M84.0 445.1 L86.0 444.4 L88.0 443.8 L90.0 443.1 L92.0 442.6 L94.0 442.1 L96.0 441.8 L98.0 441.7 L100.0 441.7 L102.0 441.7 L104.0 441.8 L106.0 442.0 L108.0 442.4 L110.0 443.0 L112.0 443.7 L114.0 444.6 L116.0 446.0 L118.0 447.9 L120.0 450.2 L122.0 453.0 L124.0 456.1 L126.0 459.5 L128.0 463.1 L130.0 466.8 L132.0 470.4 L134.0 473.7 L136.0 476.6 L138.0 479.2 L140.0 481.3 L142.0 483.0 L144.0 484.4" fill="none" stroke="#dcdcdc" stroke-width="0.85"/>
<path d="M84.0 451.9 L86.0 450.9 L88.0 449.9 L90.0 449.0 L92.0 448.1 L94.0 447.3 L96.0 446.7 L98.0 446.3 L100.0 446.0 L102.0 445.8 L104.0 445.7 L106.0 445.8 L108.0 446.3 L110.0 447.1 L112.0 448.1 L114.0 449.3 L116.0 450.9 L118.0 452.9 L120.0 455.4 L122.0 458.2 L124.0 461.4 L126.0 465.0 L128.0 469.0 L130.0 473.2 L132.0 477.2 L134.0 481.0 L136.0 484.5 L138.0 487.6 L140.0 490.3 L142.0 492.6 L144.0 494.7" fill="none" stroke="#dcdcdc" stroke-width="0.85"/>
<path d="M84.0 462.2 L86.0 461.5 L88.0 460.9 L90.0 460.2 L92.0 459.5 L94.0 458.9 L96.0 458.3 L98.0 457.7 L100.0 457.1 L102.0 456.6 L104.0 456.2 L106.0 456.0 L108.0 456.2 L110.0 456.5 L112.0 457.0 L114.0 457.7 L116.0 458.4 L118.0 459.5 L120.0 460.9 L122.0 462.7 L124.0 464.8 L126.0 467.2 L128.0 470.0 L130.0 473.2 L132.0 476.7 L134.0 480.4 L136.0 484.2 L138.0 488.1 L140.0 492.0 L142.0 495.9 L144.0 499.8" fill="none" stroke="#dcdcdc" stroke-width="0.85"/>
<path d="M84.0 470.7 L86.0 469.7 L88.0 468.7 L90.0 467.8 L92.0 466.9 L94.0 466.1 L96.0 465.5 L98.0 465.0 L100.0 464.7 L102.0 464.4 L104.0 464.3 L106.0 464.3 L108.0 464.5 L110.0 464.8 L112.0 465.2 L114.0 465.8 L116.0 466.4 L118.0 467.3 L120.0 468.3 L122.0 469.3 L124.0 470.6 L126.0 472.1 L128.0 473.8 L130.0 475.7 L132.0 477.5 L134.0 479.2 L136.0 480.8 L138.0 482.2 L140.0 483.5 L142.0 484.8 L144.0 486.1" fill="none" stroke="#dcdcdc" stroke-width="0.85"/>
<path d="M84.0 467.3 L86.0 466.5 L88.0 465.6 L90.0 464.8 L92.0 463.9 L94.0 463.2 L96.0 462.7 L98.0 462.4 L100.0 462.2 L102.0 462.2 L104.0 462.2 L106.0 462.3 L108.0 462.4 L110.0 462.6 L112.0 462.9 L114.0 463.2 L116.0 463.5 L118.0 463.9 L120.0 464.2 L122.0 464.5 L124.0 464.9 L126.0 465.2 L128.0 465.6 L130.0 465.9 L132.0 466.3 L134.0 466.7 L136.0 467.2 L138.0 467.6 L140.0 468.1 L142.0 468.5 L144.0 469.0" fill="none" stroke="#dcdcdc" stroke-width="0.85"/>
<path d="M101.1 431.4 L103.1 431.8 L105.1 432.1 L107.1 432.4 L109.1 432.8 L111.1 433.3 L113.1 434.0 L115.1 434.7 L117.1 435.6 L119.1 436.7 L121.1 438.2 L123.1 439.9 L125.1 441.9 L127.1 444.0 L129.1 446.4 L131.1 448.9 L133.1 451.6 L135.1 454.3 L137.1 457.0 L139.1 459.5 L141.1 462.0 L143.1 464.5 L143.8 465.4" fill="none" stroke="#dcdcdc" stroke-width="0.85"/>
<path d="M28.0 479.3 L30.0 479.0 L32.0 478.8 L34.0 478.5 L36.0 478.3 L38.0 478.0 L40.0 477.5 L42.0 476.9 L44.0 476.1 L46.0 475.1 L48.0 473.9 L50.0 472.7 L52.0 471.4 L54.0 469.9 L56.0 468.2 L58.0 466.3 L60.0 464.3 L62.0 462.3 L64.0 460.2 L66.0 458.0 L68.0 455.7 L70.0 453.4 L72.0 451.0 L74.0 448.7 L76.0 446.3 L78.0 443.9 L80.0 441.7 L82.0 439.6 L84.0 437.8 L86.0 436.2 L88.0 434.8" fill="none" stroke="#dcdcdc" stroke-width="0.85"/>
<path d="M28.0 484.4 L30.0 484.2 L32.0 483.9 L34.0 483.7 L36.0 483.4 L38.0 483.1 L40.0 482.8 L42.0 482.3 L44.0 481.7 L46.0 481.1 L48.0 480.3 L50.0 479.6 L52.0 478.7 L54.0 477.8 L56.0 476.6 L58.0 475.2 L60.0 473.5 L62.0 471.9 L64.0 470.1 L66.0 468.2 L68.0 466.2 L70.0 464.1 L72.0 461.8 L74.0 459.5 L76.0 457.3 L78.0 455.1 L80.0 453.0 L82.0 451.0 L84.0 449.0 L86.0 447.1 L88.0 445.1" fill="none" stroke="#dcdcdc" stroke-width="0.85"/>
<path d="M28.0 496.4 L30.0 496.7 L32.0 496.9 L34.0 497.2 L36.0 497.4 L38.0 497.5 L40.0 497.4 L42.0 497.0 L44.0 496.3 L46.0 495.5 L48.0 494.6 L50.0 493.5 L52.0 492.2 L54.0 490.6 L56.0 488.8 L58.0 486.8 L60.0 484.7 L62.0 482.3 L64.0 479.7 L66.0 476.9 L68.0 474.0 L70.0 470.9 L72.0 467.9 L74.0 464.8 L76.0 461.6 L78.0 458.5 L80.0 455.5 L82.0 452.7 L84.0 450.1 L86.0 447.6 L88.0 445.1" fill="none" stroke="#dcdcdc" stroke-width="0.85"/>
<path d="M28.0 508.3 L30.0 509.1 L32.0 509.8 L34.0 510.6 L36.0 511.3 L38.0 512.1 L40.0 512.7 L42.0 513.3 L44.0 513.7 L46.0 514.0 L48.0 514.3 L50.0 514.5 L52.0 514.6 L54.0 514.5 L56.0 514.0 L58.0 513.2 L60.0 512.0 L62.0 510.6 L64.0 508.9 L66.0 506.8 L68.0 504.2 L70.0 501.2 L72.0 497.8 L74.0 494.2 L76.0 490.3 L78.0 486.1 L80.0 481.9 L82.0 477.6 L84.0 473.5 L86.0 469.5 L88.0 465.6" fill="none" stroke="#dcdcdc" stroke-width="0.85"/>
<path d="M28.0 513.5 L30.0 513.9 L32.0 514.3 L34.0 514.7 L36.0 515.1 L38.0 515.5 L40.0 515.9 L42.0 516.2 L44.0 516.5 L46.0 516.7 L48.0 516.8 L50.0 516.9 L52.0 516.9 L54.0 516.8 L56.0 516.7 L58.0 516.3 L60.0 515.6 L62.0 514.6 L64.0 513.3 L66.0 511.8 L68.0 510.0 L70.0 507.8 L72.0 505.0 L74.0 502.0 L76.0 498.7 L78.0 495.1 L80.0 491.4 L82.0 487.4 L84.0 483.2 L86.0 478.8 L88.0 474.2" fill="none" stroke="#dcdcdc" stroke-width="0.85"/>
<path d="M28.0 477.6 L30.0 477.9 L32.0 478.1 L34.0 478.4 L36.0 478.7 L38.0 479.1 L40.0 479.5 L42.0 480.0 L44.0 480.6 L46.0 481.3 L48.0 481.9 L50.0 482.4 L52.0 482.9 L54.0 483.2 L56.0 483.5 L58.0 483.8 L60.0 484.0 L62.0 484.0 L64.0 484.0 L66.0 483.7 L68.0 483.4 L70.0 483.0 L72.0 482.3 L74.0 481.5 L76.0 480.5 L78.0 479.3 L80.0 477.9 L82.0 476.3 L84.0 474.5 L86.0 472.7 L88.0 470.7" fill="none" stroke="#dcdcdc" stroke-width="0.85"/>
<path d="M166.0 484.4 L168.0 484.4 L170.0 484.4 L172.0 484.4 L174.0 484.4 L176.0 484.4 L178.0 484.2 L180.0 483.9 L182.0 483.4 L184.0 482.8 L186.0 482.0 L188.0 481.3 L190.0 480.5 L192.0 479.6 L194.0 478.6 L196.0 477.4 L198.0 476.1 L200.0 474.7 L202.0 473.1 L204.0 471.2 L206.0 468.8 L208.0 466.2 L210.0 463.2 L212.0 460.0 L214.0 456.5 L216.0 452.6 L218.0 448.5 L220.0 444.2 L222.0 439.7 L224.0 435.1" fill="none" stroke="#dcdcdc" stroke-width="0.85"/>
<path d="M166.0 496.4 L168.0 496.9 L170.0 497.4 L172.0 497.9 L174.0 498.4 L176.0 498.8 L178.0 499.2 L180.0 499.5 L182.0 499.7 L184.0 499.8 L186.0 499.8 L188.0 499.7 L190.0 499.4 L192.0 498.9 L194.0 498.0 L196.0 496.8 L198.0 495.4 L200.0 493.7 L202.0 491.5 L204.0 488.7 L206.0 485.4 L208.0 481.7 L210.0 477.7 L212.0 473.3 L214.0 468.5 L216.0 463.3 L218.0 458.0 L220.0 452.6 L222.0 447.4 L224.0 442.6 L226.0 438.3" fill="none" stroke="#dcdcdc" stroke-width="0.85"/>
<path d="M166.0 504.9 L168.0 505.2 L170.0 505.4 L172.0 505.7 L174.0 505.9 L176.0 506.1 L178.0 506.2 L180.0 506.1 L182.0 505.8 L184.0 505.4 L186.0 504.8 L188.0 504.1 L190.0 503.3 L192.0 502.1 L194.0 500.6 L196.0 498.8 L198.0 496.8 L200.0 494.6 L202.0 492.1 L204.0 489.3 L206.0 486.3 L208.0 483.0 L210.0 479.6 L212.0 475.9 L214.0 472.1 L216.0 468.3 L218.0 464.6 L220.0 461.1 L222.0 457.9 L224.0 454.9 L226.0 451.9" fill="none" stroke="#dcdcdc" stroke-width="0.85"/>
<path d="M166.0 511.8 L168.0 512.3 L170.0 512.9 L172.0 513.5 L174.0 514.0 L176.0 514.6 L178.0 515.0 L180.0 515.5 L182.0 515.8 L184.0 516.1 L186.0 516.3 L188.0 516.1 L190.0 515.7 L192.0 514.9 L194.0 513.9 L196.0 512.7 L198.0 511.1 L200.0 509.1 L202.0 506.6 L204.0 503.8 L206.0 500.8 L208.0 497.4 L210.0 493.7 L212.0 489.8 L214.0 485.8 L216.0 481.8 L218.0 477.9 L220.0 473.9 L222.0 469.9 L224.0 466.0 L226.0 462.2" fill="none" stroke="#dcdcdc" stroke-width="0.85"/>
<path d="M183.1 520.3 L185.1 519.0 L187.1 517.6 L189.1 516.2 L191.1 514.7 L193.1 512.9 L195.1 510.8 L197.1 508.4 L199.1 505.7 L201.1 502.9 L203.1 499.8 L205.1 496.4 L207.1 492.7 L209.1 488.7 L211.1 484.6 L213.1 480.4 L215.1 476.2 L217.1 472.1 L219.1 468.4 L221.1 465.2 L223.1 462.4 L225.1 459.9 L225.8 459.0" fill="none" stroke="#dcdcdc" stroke-width="0.85"/>
<path d="M166.0 481.0 L168.0 480.7 L170.0 480.4 L172.0 480.1 L174.0 479.9 L176.0 479.8 L178.0 479.8 L180.0 480.1 L182.0 480.5 L184.0 481.0 L186.0 481.6 L188.0 482.1 L190.0 482.6 L192.0 483.0 L194.0 483.4 L196.0 483.7 L198.0 484.0 L200.0 484.4 L202.0 484.7 L204.0 485.0 L206.0 485.2 L208.0 485.5 L210.0 485.7 L212.0 485.8 L214.0 485.8 L216.0 485.6 L218.0 485.4 L220.0 485.1 L222.0 484.9 L224.0 484.7 L226.0 484.4" fill="none" stroke="#dcdcdc" stroke-width="0.85"/>
<line x1="89.50" y1="429.20" x2="89.50" y2="523.00" stroke="#bdbdbd" stroke-width="0.9" stroke-dasharray="3 2.5"/>
<line x1="127.90" y1="429.20" x2="127.90" y2="523.00" stroke="#bdbdbd" stroke-width="0.9" stroke-dasharray="3 2.5"/>
<path d="M28.00 489.70 L29.00 489.73 L30.00 489.75 L31.00 489.78 L32.00 489.80 L33.00 489.83 L34.00 489.85 L35.00 489.86 L36.00 489.87 L37.00 489.86 L38.00 489.84 L39.00 489.81 L40.00 489.78 L41.00 489.75 L42.00 489.70 L43.00 489.62 L44.00 489.50 L45.00 489.33 L46.00 489.15 L47.00 488.94 L48.00 488.72 L49.00 488.48 L50.00 488.19 L51.00 487.86 L52.00 487.49 L53.00 487.10 L54.00 486.70 L55.00 486.26 L56.00 485.75 L57.00 485.18 L58.00 484.53 L59.00 483.85 L60.00 483.14 L61.00 482.41 L62.00 481.63 L63.00 480.78 L64.00 479.86 L65.00 478.89 L66.00 477.89 L67.00 476.87 L68.00 475.81 L69.00 474.70 L70.00 473.50 L71.00 472.26 L72.00 470.97 L73.00 469.68 L74.00 468.36 L75.00 467.03 L76.00 465.68 L77.00 464.30 L78.00 462.91 L79.00 461.56 L80.00 460.25 L81.00 459.03 L82.00 457.89 L83.00 456.83 L84.00 455.88 L85.00 455.07 L86.00 454.40 L87.00 453.83 L88.00 453.33 L89.00 452.88 L90.00 452.50 L91.00 452.20 L92.00 451.98 L93.00 451.82 L94.00 451.68 L95.00 451.56 L96.00 451.47 L97.00 451.44 L98.00 451.47 L99.00 451.54 L100.00 451.62 L101.00 451.73 L102.00 451.85 L103.00 452.00 L104.00 452.19 L105.00 452.41 L106.00 452.66 L107.00 452.91 L108.00 453.19 L109.00 453.52 L110.00 453.91 L111.00 454.35 L112.00 454.85 L113.00 455.39 L114.00 455.99 L115.00 456.68 L116.00 457.45 L117.00 458.28 L118.00 459.16 L119.00 460.09 L120.00 461.08 L121.00 462.14 L122.00 463.24 L123.00 464.35 L124.00 465.46 L125.00 466.53 L126.00 467.57 L127.00 468.59 L128.00 469.59 L129.00 470.56 L130.00 471.51 L131.00 472.42 L132.00 473.30 L133.00 474.16 L134.00 475.00 L135.00 475.81 L136.00 476.59 L137.00 477.34 L138.00 478.07 L139.00 478.77 L140.00 479.45 L141.00 480.10 L142.00 480.73 L143.00 481.34 L144.00 481.94 L145.00 482.53 L146.00 483.10 L147.00 483.65 L148.00 484.18 L149.00 484.69 L150.00 485.20 L151.00 485.69 L152.00 486.16 L153.00 486.61 L154.00 487.02 L155.00 487.41 L156.00 487.77 L157.00 488.13 L158.00 488.48 L159.00 488.81 L160.00 489.11 L161.00 489.39 L162.00 489.65 L163.00 489.90 L164.00 490.14 L165.00 490.37 L166.00 490.57 L167.00 490.75 L168.00 490.91 L169.00 491.05 L170.00 491.20 L171.00 491.33 L172.00 491.45 L173.00 491.56 L174.00 491.66 L175.00 491.74 L176.00 491.82 L177.00 491.87 L178.00 491.88 L179.00 491.85 L180.00 491.79 L181.00 491.70 L182.00 491.60 L183.00 491.48 L184.00 491.34 L185.00 491.15 L186.00 490.91 L187.00 490.62 L188.00 490.31 L189.00 489.98 L190.00 489.62 L191.00 489.23 L192.00 488.78 L193.00 488.25 L194.00 487.68 L195.00 487.08 L196.00 486.47 L197.00 485.83 L198.00 485.15 L199.00 484.43 L200.00 483.67 L201.00 482.88 L202.00 482.08 L203.00 481.26 L204.00 480.41 L205.00 479.52 L206.00 478.57 L207.00 477.59 L208.00 476.60 L209.00 475.60 L210.00 474.60 L211.00 473.60 L212.00 472.60 L213.00 471.60 L214.00 470.60 L215.00 469.61 L216.00 468.63 L217.00 467.67 L218.00 466.74 L219.00 465.85 L220.00 464.97 L221.00 464.10 L222.00 463.23 L223.00 462.36 L224.00 461.47 L225.00 460.59 L226.00 459.70" fill="none" stroke="#000" stroke-width="1.55" stroke-linejoin="round" stroke-linecap="round"/>
</g>
<rect x="28.50" y="429.20" width="198.00" height="93.80" fill="none" stroke="#a0a0a0" stroke-width="1.00"/>
<line x1="28.50" y1="447.70" x2="30.50" y2="447.70" stroke="#888" stroke-width="0.8"/>
<line x1="224.50" y1="447.70" x2="226.50" y2="447.70" stroke="#888" stroke-width="0.8"/>
<text x="26.20" y="450.10" font-size="6.70" fill="#444" text-anchor="end">5</text>
<line x1="28.50" y1="471.50" x2="30.50" y2="471.50" stroke="#888" stroke-width="0.8"/>
<line x1="224.50" y1="471.50" x2="226.50" y2="471.50" stroke="#888" stroke-width="0.8"/>
<text x="26.20" y="473.90" font-size="6.70" fill="#444" text-anchor="end">0</text>
<line x1="28.50" y1="495.20" x2="30.50" y2="495.20" stroke="#888" stroke-width="0.8"/>
<line x1="224.50" y1="495.20" x2="226.50" y2="495.20" stroke="#888" stroke-width="0.8"/>
<text x="26.20" y="497.60" font-size="6.70" fill="#444" text-anchor="end">-5</text>
<line x1="28.50" y1="518.50" x2="30.50" y2="518.50" stroke="#888" stroke-width="0.8"/>
<line x1="224.50" y1="518.50" x2="226.50" y2="518.50" stroke="#888" stroke-width="0.8"/>
<text x="26.20" y="520.90" font-size="6.70" fill="#444" text-anchor="end">-10</text>
<line x1="89.50" y1="521.00" x2="89.50" y2="523.00" stroke="#888" stroke-width="0.8"/>
<line x1="89.50" y1="429.20" x2="89.50" y2="431.20" stroke="#888" stroke-width="0.8"/>
<line x1="127.90" y1="521.00" x2="127.90" y2="523.00" stroke="#888" stroke-width="0.8"/>
<line x1="127.90" y1="429.20" x2="127.90" y2="431.20" stroke="#888" stroke-width="0.8"/>
<text x="89.80" y="532.70" font-size="6.70" fill="#444" text-anchor="middle">T<tspan font-size="4.4" dy="2.3">r</tspan><tspan dy="-2.3"> - 5s</tspan></text>
<text x="128.20" y="532.70" font-size="6.70" fill="#444" text-anchor="middle">T<tspan font-size="4.4" dy="2.3">r</tspan><tspan dy="-2.3"> = 0</tspan></text>
<text x="127.50" y="543.90" font-size="7.10" fill="#444" text-anchor="middle">Relative time</text>
<text transform="translate(13.50 476.10) rotate(-90)" font-size="7.10" fill="#444" text-anchor="middle">Normalized amplitude</text>
<text transform="translate(97.80 431.70) rotate(-90)" font-size="6.75" fill="#444" text-anchor="end">Button Press</text>
<text transform="translate(136.20 431.70) rotate(-90)" font-size="6.75" fill="#444" text-anchor="end">Screenshot start</text>
<text x="127.50" y="425.70" font-size="7.15" font-weight="bold" class="t" fill="#000" text-anchor="middle">DMN</text>
<clipPath id="c8"><rect x="266.50" y="429.30" width="198.00" height="91.20"/></clipPath>
<g clip-path="url(#c8)">
<path d="M266.0 455.7 L268.0 455.3 L270.0 455.0 L272.0 454.7 L274.0 454.3 L276.0 454.0 L278.0 453.7 L280.0 453.5 L282.0 453.2 L284.0 453.0 L286.0 452.9 L288.0 453.0 L290.0 453.3 L292.0 454.0 L294.0 454.8 L296.0 455.9 L298.0 457.2 L300.0 458.9 L302.0 461.2 L304.0 463.9 L306.0 467.0 L308.0 470.4 L310.0 474.3 L312.0 478.4 L314.0 482.7 L316.0 486.9 L318.0 490.9 L320.0 494.7 L322.0 498.1 L324.0 501.0 L326.0 503.2 L328.0 504.6 L330.0 505.4 L332.0 505.7 L334.0 505.5 L336.0 504.7 L338.0 503.4 L340.0 501.9 L342.0 500.2 L344.0 498.3 L346.0 496.0 L348.0 493.5 L350.0 490.8 L352.0 487.9 L354.0 484.7 L356.0 481.2 L358.0 477.3 L360.0 473.1 L362.0 468.7 L364.0 464.3 L366.0 459.9" fill="none" stroke="#dcdcdc" stroke-width="0.85"/>
<path d="M266.0 462.0 L268.0 461.4 L270.0 460.7 L272.0 460.0 L274.0 459.4 L276.0 458.7 L278.0 457.9 L280.0 457.1 L282.0 456.1 L284.0 455.2 L286.0 454.2 L288.0 453.3 L290.0 452.5 L292.0 452.0 L294.0 451.9 L296.0 451.9 L298.0 452.2 L300.0 452.7 L302.0 453.8 L304.0 455.4 L306.0 457.6 L308.0 460.1 L310.0 462.9 L312.0 466.0 L314.0 469.6 L316.0 473.6 L318.0 477.8 L320.0 481.8 L322.0 485.4 L324.0 488.5 L326.0 491.0 L328.0 493.2 L330.0 494.7 L332.0 495.6 L334.0 495.9 L336.0 496.0 L338.0 495.8 L340.0 495.3 L342.0 494.4 L344.0 493.1 L346.0 491.6 L348.0 490.0 L350.0 488.2 L352.0 486.2 L354.0 484.0 L356.0 481.7 L358.0 479.3 L360.0 477.0 L362.0 474.8 L364.0 472.6 L366.0 470.6" fill="none" stroke="#dcdcdc" stroke-width="0.85"/>
<path d="M278.8 455.7 L280.8 454.5 L282.8 453.4 L284.8 452.2 L286.8 451.1 L288.8 450.0 L290.8 448.9 L292.8 447.9 L294.8 447.1 L296.8 446.4 L298.8 445.9 L300.8 445.4 L302.8 445.0 L304.8 444.7 L306.8 444.6 L308.8 444.9 L310.8 445.3 L312.8 445.9 L314.8 446.7 L316.8 447.8 L318.8 449.2 L320.8 451.0 L322.8 452.9 L324.8 455.1 L326.8 457.3 L328.8 459.7 L330.8 462.1 L332.8 464.4 L334.8 466.5 L336.8 468.4 L338.8 470.2 L340.8 471.8 L342.8 473.4 L344.8 474.8 L346.8 475.7 L348.8 476.1 L350.8 476.0 L352.8 475.7 L354.8 475.3 L356.8 474.9 L358.8 474.5 L360.8 474.0 L362.8 473.5 L364.8 473.0 L365.8 472.7" fill="none" stroke="#dcdcdc" stroke-width="0.85"/>
<path d="M266.0 470.6 L268.0 470.3 L270.0 470.1 L272.0 469.8 L274.0 469.6 L276.0 469.3 L278.0 469.1 L280.0 468.9 L282.0 468.7 L284.0 468.7 L286.0 468.9 L288.0 469.1 L290.0 469.3 L292.0 469.5 L294.0 469.8 L296.0 470.1 L298.0 470.4 L300.0 470.8 L302.0 471.3 L304.0 471.9 L306.0 472.5 L308.0 473.2 L310.0 473.7 L312.0 474.1 L314.0 474.2 L316.0 474.1 L318.0 473.8 L320.0 473.4 L322.0 473.1 L324.0 472.9 L326.0 472.7 L328.0 472.7 L330.0 472.7 L332.0 472.8 L334.0 472.9 L336.0 473.1 L338.0 473.4 L340.0 473.7 L342.0 474.0 L344.0 474.3 L346.0 474.5 L348.0 474.7 L350.0 474.8 L352.0 474.8 L354.0 474.8 L356.0 474.8 L358.0 474.8 L360.0 474.8 L362.0 474.8 L364.0 474.8 L366.0 474.8" fill="none" stroke="#dcdcdc" stroke-width="0.85"/>
<path d="M266.0 479.1 L268.0 479.3 L270.0 479.6 L272.0 479.9 L274.0 480.2 L276.0 480.5 L278.0 480.7 L280.0 480.8 L282.0 480.8 L284.0 480.7 L286.0 480.4 L288.0 480.2 L290.0 479.9 L292.0 479.6 L294.0 479.2 L296.0 478.8 L298.0 478.2 L300.0 477.6 L302.0 477.0 L304.0 476.4 L306.0 475.8 L308.0 475.5 L310.0 475.4 L312.0 475.6 L314.0 475.9 L316.0 476.3 L318.0 476.7 L320.0 477.1 L322.0 477.5 L324.0 477.9 L326.0 478.3 L328.0 478.6 L330.0 478.8 L332.0 479.0 L334.0 479.0 L336.0 479.1 L338.0 479.0 L340.0 479.0 L342.0 478.9 L344.0 478.7 L346.0 478.5 L348.0 478.2 L350.0 477.8 L352.0 477.5 L354.0 477.3 L356.0 477.1 L358.0 477.0 L360.0 476.9 L362.0 476.9 L364.0 476.9 L366.0 476.9" fill="none" stroke="#dcdcdc" stroke-width="0.85"/>
<path d="M266.0 483.3 L268.0 483.6 L270.0 483.8 L272.0 484.1 L274.0 484.3 L276.0 484.6 L278.0 484.8 L280.0 485.0 L282.0 485.1 L284.0 485.1 L286.0 485.0 L288.0 484.8 L290.0 484.6 L292.0 484.3 L294.0 484.1 L296.0 483.9 L298.0 483.9 L300.0 484.2 L302.0 484.8 L304.0 485.8 L306.0 487.0 L308.0 488.3 L310.0 489.9 L312.0 491.8 L314.0 494.0 L316.0 496.3 L318.0 498.7 L320.0 500.9 L322.0 503.1 L324.0 505.0 L326.0 506.7 L328.0 508.1 L330.0 509.1 L332.0 509.8 L334.0 510.2 L336.0 510.2 L338.0 509.9 L340.0 509.4 L342.0 508.6 L344.0 507.7 L346.0 506.6 L348.0 505.1 L350.0 503.4 L352.0 501.5 L354.0 499.4 L356.0 497.1 L358.0 494.5 L360.0 491.4 L362.0 488.1 L364.0 484.7 L366.0 481.2" fill="none" stroke="#dcdcdc" stroke-width="0.85"/>
<path d="M266.0 487.6 L268.0 488.1 L270.0 488.6 L272.0 489.1 L274.0 489.6 L276.0 490.1 L278.0 490.5 L280.0 491.0 L282.0 491.2 L284.0 491.2 L286.0 491.0 L288.0 490.6 L290.0 490.1 L292.0 489.6 L294.0 489.1 L296.0 488.7 L298.0 488.5 L300.0 488.6 L302.0 489.1 L304.0 490.1 L306.0 491.2 L308.0 492.5 L310.0 493.9 L312.0 495.5 L314.0 497.4 L316.0 499.3 L318.0 501.3 L320.0 503.3 L322.0 505.3 L324.0 507.3 L326.0 509.2 L328.0 510.9 L330.0 512.3 L332.0 513.3 L334.0 514.0 L336.0 514.3 L338.0 514.3 L340.0 513.8 L342.0 512.9 L344.0 511.8 L346.0 510.4 L348.0 508.8 L350.0 506.8 L352.0 504.4 L354.0 501.8 L356.0 499.0 L358.0 496.1 L360.0 493.0 L362.0 489.9 L364.0 486.6 L366.0 483.3" fill="none" stroke="#dcdcdc" stroke-width="0.85"/>
<path d="M266.0 466.3 L268.0 465.5 L270.0 464.8 L272.0 464.0 L274.0 463.3 L276.0 462.5 L278.0 461.8 L280.0 461.1 L282.0 460.4 L284.0 459.7 L286.0 459.1 L288.0 458.5 L290.0 457.9 L292.0 457.4 L294.0 456.9 L296.0 456.5 L298.0 456.5 L300.0 456.8 L302.0 457.4 L304.0 458.2 L306.0 459.1 L308.0 460.3 L310.0 461.7 L312.0 463.5 L314.0 465.4 L316.0 467.4 L318.0 469.4 L320.0 471.4 L322.0 473.4 L324.0 475.3 L326.0 477.3 L328.0 479.2 L330.0 480.8 L332.0 482.3 L334.0 483.6 L336.0 484.8 L338.0 485.9 L340.0 486.9 L342.0 487.6 L344.0 488.1 L346.0 488.5 L348.0 488.8 L350.0 489.1 L352.0 489.3 L354.0 489.3 L356.0 489.1 L358.0 488.9 L360.0 488.6 L362.0 488.2 L364.0 487.9 L366.0 487.6" fill="none" stroke="#dcdcdc" stroke-width="0.85"/>
<path d="M266.0 474.8 L268.0 474.6 L270.0 474.3 L272.0 474.1 L274.0 473.8 L276.0 473.6 L278.0 473.3 L280.0 473.0 L282.0 472.8 L284.0 472.5 L286.0 472.2 L288.0 471.8 L290.0 471.5 L292.0 471.2 L294.0 470.8 L296.0 470.3 L298.0 469.7 L300.0 469.1 L302.0 468.5 L304.0 467.9 L306.0 467.3 L308.0 467.0 L310.0 466.8 L312.0 467.0 L314.0 467.2 L316.0 467.6 L318.0 467.9 L320.0 468.4 L322.0 469.1 L324.0 469.9 L326.0 470.8 L328.0 471.8 L330.0 472.8 L332.0 473.8 L334.0 475.0 L336.0 476.2 L338.0 477.4 L340.0 478.8 L342.0 480.1 L344.0 481.3 L346.0 482.3 L348.0 483.2 L350.0 483.7 L352.0 484.1 L354.0 484.5 L356.0 484.8 L358.0 484.9 L360.0 484.8 L362.0 484.5 L364.0 483.9 L366.0 483.3" fill="none" stroke="#dcdcdc" stroke-width="0.85"/>
<path d="M329.8 479.1 L331.8 478.7 L333.8 478.4 L335.8 478.0 L337.8 477.6 L339.8 477.1 L341.8 476.1 L343.8 474.5 L345.8 472.4 L347.8 469.9 L349.8 467.2 L351.8 464.4 L353.8 461.4 L355.8 457.8 L357.8 453.8 L359.8 449.3 L361.8 444.6 L363.8 439.7 L365.8 434.8" fill="none" stroke="#dcdcdc" stroke-width="0.85"/>
<path d="M364.0 434.4 L366.0 434.0 L368.0 433.6 L370.0 433.3 L372.0 433.1 L374.0 433.3 L376.0 434.0 L378.0 435.1 L380.0 436.6 L382.0 438.2 L384.0 440.0 L386.0 442.0 L388.0 444.2 L390.0 446.5 L392.0 448.8 L394.0 451.1 L396.0 453.4 L398.0 455.5 L400.0 457.6 L402.0 459.5 L404.0 461.3 L406.0 462.8 L408.0 463.9 L410.0 464.6 L412.0 465.0 L414.0 465.4 L416.0 465.6 L418.0 465.6 L420.0 465.4 L422.0 464.8 L424.0 463.9 L426.0 463.0 L428.0 462.0 L430.0 461.3 L432.0 460.8 L434.0 460.6 L436.0 460.8 L438.0 461.2 L440.0 461.9 L442.0 463.0 L444.0 464.8 L446.0 467.3 L448.0 470.1 L450.0 473.3 L452.0 476.8 L454.0 480.5 L456.0 484.3 L458.0 488.1 L460.0 491.7 L462.0 495.0 L464.0 498.2" fill="none" stroke="#dcdcdc" stroke-width="0.85"/>
<path d="M364.0 445.0 L366.0 444.4 L368.0 443.7 L370.0 443.0 L372.0 442.4 L374.0 442.0 L376.0 441.8 L378.0 442.1 L380.0 442.9 L382.0 444.0 L384.0 445.3 L386.0 446.8 L388.0 448.7 L390.0 451.0 L392.0 453.6 L394.0 456.4 L396.0 459.2 L398.0 462.0 L400.0 464.8 L402.0 467.6 L404.0 470.3 L406.0 472.8 L408.0 474.9 L410.0 476.4 L412.0 477.2 L414.0 477.8 L416.0 478.1 L418.0 478.4 L420.0 478.5 L422.0 478.4 L424.0 478.0 L426.0 477.5 L428.0 476.9 L430.0 476.3 L432.0 475.9 L434.0 475.9 L436.0 476.4 L438.0 477.2 L440.0 478.3 L442.0 479.6 L444.0 481.2 L446.0 483.0 L448.0 485.1 L450.0 487.4 L452.0 489.8 L454.0 492.3 L456.0 495.0 L458.0 497.8 L460.0 500.7 L462.0 503.7 L464.0 506.7" fill="none" stroke="#dcdcdc" stroke-width="0.85"/>
<path d="M364.0 449.3 L366.0 449.6 L368.0 449.8 L370.0 450.1 L372.0 450.4 L374.0 450.8 L376.0 451.3 L378.0 452.1 L380.0 453.4 L382.0 455.3 L384.0 457.4 L386.0 459.7 L388.0 462.1 L390.0 464.5 L392.0 466.9 L394.0 469.5 L396.0 472.1 L398.0 474.7 L400.0 477.4 L402.0 479.8 L404.0 482.1 L406.0 484.0 L408.0 485.6 L410.0 487.0 L412.0 488.3 L414.0 489.6 L416.0 490.6 L418.0 491.3 L420.0 491.6 L422.0 491.8 L424.0 491.8 L426.0 491.7 L428.0 491.5 L430.0 491.0 L432.0 490.2 L434.0 489.1 L436.0 487.8 L438.0 486.5 L440.0 485.1 L442.0 483.7 L444.0 482.2 L446.0 480.7 L448.0 479.1 L450.0 477.6 L452.0 476.3 L454.0 475.2 L456.0 474.5 L458.0 473.9 L460.0 473.5 L462.0 473.1 L464.0 472.7" fill="none" stroke="#dcdcdc" stroke-width="0.85"/>
<path d="M364.0 462.0 L366.0 462.4 L368.0 462.7 L370.0 463.0 L372.0 463.4 L374.0 463.8 L376.0 464.3 L378.0 465.0 L380.0 465.9 L382.0 466.8 L384.0 467.8 L386.0 468.8 L388.0 469.7 L390.0 470.6 L392.0 471.4 L394.0 472.2 L396.0 473.0 L398.0 473.7 L400.0 474.5 L402.0 475.2 L404.0 475.9 L406.0 476.5 L408.0 477.0 L410.0 477.3 L412.0 477.6 L414.0 477.9 L416.0 478.1 L418.0 478.4 L420.0 478.6 L422.0 478.7 L424.0 478.7 L426.0 478.6 L428.0 478.3 L430.0 478.0 L432.0 477.6 L434.0 477.2 L436.0 476.8 L438.0 476.1 L440.0 475.4 L442.0 474.7 L444.0 473.9 L446.0 473.1 L448.0 472.3 L450.0 471.5 L452.0 470.7 L454.0 469.9 L456.0 469.1 L458.0 468.4 L460.0 467.7 L462.0 467.0 L464.0 466.3" fill="none" stroke="#dcdcdc" stroke-width="0.85"/>
<path d="M364.0 470.6 L366.0 471.1 L368.0 471.6 L370.0 472.1 L372.0 472.6 L374.0 473.1 L376.0 473.6 L378.0 474.1 L380.0 474.6 L382.0 475.1 L384.0 475.6 L386.0 476.1 L388.0 476.6 L390.0 477.1 L392.0 477.6 L394.0 478.0 L396.0 478.5 L398.0 478.9 L400.0 479.3 L402.0 479.5 L404.0 479.8 L406.0 480.1 L408.0 480.3 L410.0 480.6 L412.0 480.9 L414.0 481.2 L416.0 481.7 L418.0 482.2 L420.0 482.9 L422.0 483.5 L424.0 484.2 L426.0 484.9 L428.0 485.7 L430.0 486.6 L432.0 487.6 L434.0 488.5 L436.0 489.5 L438.0 490.5 L440.0 491.5 L442.0 492.5 L444.0 493.5 L446.0 494.5 L448.0 495.5 L450.0 496.5 L452.0 497.5 L454.0 498.4 L456.0 499.2 L458.0 500.1 L460.0 500.9 L462.0 501.7 L464.0 502.5" fill="none" stroke="#dcdcdc" stroke-width="0.85"/>
<path d="M364.0 474.8 L366.0 474.8 L368.0 474.8 L370.0 474.8 L372.0 474.8 L374.0 474.9 L376.0 475.1 L378.0 475.5 L380.0 476.1 L382.0 476.8 L384.0 477.5 L386.0 478.3 L388.0 479.0 L390.0 479.8 L392.0 480.6 L394.0 481.4 L396.0 482.3 L398.0 483.3 L400.0 484.3 L402.0 485.3 L404.0 486.3 L406.0 487.3 L408.0 488.3 L410.0 489.2 L412.0 490.1 L414.0 490.9 L416.0 491.6 L418.0 492.4 L420.0 493.1 L422.0 493.9 L424.0 494.6 L426.0 495.3 L428.0 495.8 L430.0 496.3 L432.0 496.6 L434.0 496.9 L436.0 497.1 L438.0 497.4 L440.0 497.6 L442.0 497.7 L444.0 497.7 L446.0 497.5 L448.0 497.1 L450.0 496.5 L452.0 495.8 L454.0 495.1 L456.0 494.1 L458.0 492.9 L460.0 491.3 L462.0 489.5 L464.0 487.6" fill="none" stroke="#dcdcdc" stroke-width="0.85"/>
<path d="M368.3 455.7 L370.3 455.9 L372.3 456.2 L374.3 456.5 L376.3 456.8 L378.3 457.1 L380.3 457.5 L382.3 457.9 L384.3 458.6 L386.3 459.4 L388.3 460.4 L390.3 461.3 L392.3 462.3 L394.3 463.3 L396.3 464.3 L398.3 465.3 L400.3 466.3 L402.3 467.3 L404.3 468.2 L406.3 469.0 L408.3 469.3 L410.3 469.0 L412.3 468.3 L414.3 467.3 L416.3 466.2 L418.3 465.1 L420.3 463.9 L422.3 462.5 L424.3 461.0 L426.3 459.3 L428.3 457.5 L430.3 456.0 L432.3 454.9 L434.3 454.5 L436.3 454.5 L438.3 454.9 L440.3 455.6 L442.3 456.7 L444.3 458.5 L446.3 460.8 L448.3 463.4 L450.3 466.2 L452.3 468.9 L454.3 471.5 L456.3 474.0 L458.3 476.4 L460.3 478.8 L462.3 481.2 L463.8 483.0" fill="none" stroke="#dcdcdc" stroke-width="0.85"/>
<path d="M364.0 481.2 L366.0 481.4 L368.0 481.7 L370.0 481.9 L372.0 482.2 L374.0 482.4 L376.0 482.7 L378.0 483.0 L380.0 483.3 L382.0 483.7 L384.0 484.1 L386.0 484.6 L388.0 485.1 L390.0 485.6 L392.0 486.1 L394.0 486.6 L396.0 487.1 L398.0 487.6 L400.0 488.1 L402.0 488.6 L404.0 489.1 L406.0 489.6 L408.0 490.1 L410.0 490.6 L412.0 491.1 L414.0 491.6 L416.0 492.1 L418.0 492.7 L420.0 493.2 L422.0 493.8 L424.0 494.4 L426.0 494.9 L428.0 495.5 L430.0 495.9 L432.0 496.3 L434.0 496.6 L436.0 496.9 L438.0 497.2 L440.0 497.5 L442.0 497.8 L444.0 498.0 L446.0 498.1 L448.0 498.2 L450.0 498.2 L452.0 498.2 L454.0 498.2 L456.0 498.0 L458.0 497.7 L460.0 497.3 L462.0 496.7 L464.0 496.1" fill="none" stroke="#dcdcdc" stroke-width="0.85"/>
<path d="M364.0 466.3 L366.0 466.5 L368.0 466.8 L370.0 467.0 L372.0 467.3 L374.0 467.6 L376.0 467.8 L378.0 468.1 L380.0 468.6 L382.0 469.2 L384.0 470.0 L386.0 470.9 L388.0 471.9 L390.0 472.9 L392.0 473.9 L394.0 474.9 L396.0 476.0 L398.0 477.2 L400.0 478.4 L402.0 479.8 L404.0 481.2 L406.0 482.6 L408.0 484.0 L410.0 485.4 L412.0 486.7 L414.0 487.9 L416.0 489.1 L418.0 490.1 L420.0 491.1 L422.0 492.1 L424.0 492.9 L426.0 493.6 L428.0 494.1 L430.0 494.5 L432.0 494.8 L434.0 495.1 L436.0 495.3 L438.0 495.3 L440.0 494.9 L442.0 494.0 L444.0 492.5 L446.0 490.6 L448.0 488.6 L450.0 486.6 L452.0 484.3 L454.0 481.8 L456.0 478.9 L458.0 475.9 L460.0 472.7 L462.0 469.5 L464.0 466.3" fill="none" stroke="#dcdcdc" stroke-width="0.85"/>
<path d="M320.0 473.2 L322.0 473.5 L324.0 473.8 L326.0 474.1 L328.0 474.3 L330.0 474.5 L332.0 474.4 L334.0 474.2 L336.0 474.0 L338.0 473.7 L340.0 473.4 L342.0 473.2 L344.0 473.0 L346.0 472.9 L348.0 472.7 L350.0 472.5 L352.0 472.2 L354.0 471.6 L356.0 470.9 L358.0 469.8 L360.0 468.3 L362.0 466.1 L364.0 463.1 L366.0 459.5 L368.0 455.4 L370.0 451.2 L372.0 447.1 L374.0 443.4 L376.0 440.2 L378.0 437.4 L380.0 434.7" fill="none" stroke="#dcdcdc" stroke-width="0.85"/>
<path d="M320.0 476.5 L322.0 476.5 L324.0 476.5 L326.0 476.5 L328.0 476.5 L330.0 476.5 L332.0 476.5 L334.0 476.5 L336.0 476.5 L338.0 476.5 L340.0 476.4 L342.0 476.3 L344.0 476.1 L346.0 475.9 L348.0 475.6 L350.0 475.2 L352.0 474.7 L354.0 474.1 L356.0 473.1 L358.0 472.0 L360.0 470.6 L362.0 468.8 L364.0 466.8 L366.0 464.4 L368.0 461.8 L370.0 459.1 L372.0 456.2 L374.0 453.5 L376.0 451.0 L378.0 448.6 L380.0 446.4" fill="none" stroke="#dcdcdc" stroke-width="0.85"/>
<path d="M320.0 478.2 L322.0 478.2 L324.0 478.2 L326.0 478.2 L328.0 478.2 L330.0 478.2 L332.0 478.2 L334.0 478.2 L336.0 478.2 L338.0 478.2 L340.0 478.2 L342.0 478.1 L344.0 478.1 L346.0 477.9 L348.0 477.7 L350.0 477.5 L352.0 477.2 L354.0 476.8 L356.0 476.4 L358.0 475.8 L360.0 475.1 L362.0 474.3 L364.0 473.4 L366.0 472.2 L368.0 471.0 L370.0 469.7 L372.0 468.4 L374.0 467.4 L376.0 466.5 L378.0 465.6 L380.0 464.8" fill="none" stroke="#dcdcdc" stroke-width="0.85"/>
<path d="M320.0 488.2 L322.0 489.0 L324.0 489.8 L326.0 490.6 L328.0 491.3 L330.0 492.1 L332.0 492.7 L334.0 493.4 L336.0 493.9 L338.0 494.3 L340.0 494.3 L342.0 494.2 L344.0 493.9 L346.0 493.4 L348.0 492.8 L350.0 491.9 L352.0 490.7 L354.0 489.4 L356.0 487.9 L358.0 486.1 L360.0 483.9 L362.0 481.4 L364.0 478.6 L366.0 475.5 L368.0 472.1 L370.0 468.5 L372.0 465.0 L374.0 461.9 L376.0 459.2 L378.0 456.9 L380.0 454.8" fill="none" stroke="#dcdcdc" stroke-width="0.85"/>
<path d="M320.0 494.9 L322.0 495.9 L324.0 496.9 L326.0 497.9 L328.0 498.8 L330.0 499.7 L332.0 500.5 L334.0 501.2 L336.0 501.8 L338.0 502.3 L340.0 502.6 L342.0 502.7 L344.0 502.5 L346.0 502.2 L348.0 501.6 L350.0 500.8 L352.0 499.7 L354.0 498.2 L356.0 496.6 L358.0 494.7 L360.0 492.5 L362.0 489.9 L364.0 486.9 L366.0 483.8 L368.0 480.5 L370.0 477.2 L372.0 473.8 L374.0 470.7 L376.0 467.9 L378.0 465.4 L380.0 463.2" fill="none" stroke="#dcdcdc" stroke-width="0.85"/>
<path d="M320.0 501.6 L322.0 502.6 L324.0 503.6 L326.0 504.6 L328.0 505.5 L330.0 506.3 L332.0 507.1 L334.0 507.7 L336.0 508.3 L338.0 508.8 L340.0 509.1 L342.0 509.3 L344.0 509.1 L346.0 508.7 L348.0 508.1 L350.0 507.4 L352.0 506.6 L354.0 505.4 L356.0 503.8 L358.0 501.9 L360.0 499.7 L362.0 497.3 L364.0 494.5 L366.0 491.5 L368.0 488.5 L370.0 485.6 L372.0 482.9 L374.0 480.4 L376.0 477.9 L378.0 475.6 L380.0 473.2" fill="none" stroke="#dcdcdc" stroke-width="0.85"/>
<path d="M320.0 461.4 L322.0 464.4 L324.0 467.4 L326.0 470.2 L328.0 472.9 L330.0 475.4 L332.0 477.7 L334.0 479.9 L336.0 481.7 L338.0 483.3 L340.0 484.8 L342.0 486.0 L344.0 487.1 L346.0 488.0 L348.0 488.5 L350.0 488.9 L352.0 489.2 L354.0 489.1 L356.0 488.7 L358.0 487.9 L360.0 486.9 L362.0 485.6 L364.0 484.2 L366.0 482.8 L368.0 481.3 L370.0 479.8 L372.0 478.5 L374.0 477.4 L376.0 476.5 L378.0 475.7 L380.0 474.8" fill="none" stroke="#dcdcdc" stroke-width="0.85"/>
<path d="M266.0 461.4 L268.0 460.4 L270.0 459.4 L272.0 458.4 L274.0 457.4 L276.0 456.4 L278.0 455.4 L280.0 454.5 L282.0 453.5 L284.0 452.8 L286.0 452.3 L288.0 452.1 L290.0 452.3 L292.0 452.8 L294.0 453.6 L296.0 454.7 L298.0 456.1 L300.0 457.7 L302.0 459.7 L304.0 461.9 L306.0 464.4 L308.0 467.1 L310.0 469.9 L312.0 472.7 L314.0 475.4 L316.0 478.2 L318.0 480.7 L320.0 482.9 L322.0 484.9 L324.0 486.6 L326.0 488.2" fill="none" stroke="#dcdcdc" stroke-width="0.85"/>
<path d="M266.0 466.5 L268.0 465.6 L270.0 464.7 L272.0 463.9 L274.0 463.0 L276.0 462.0 L278.0 461.0 L280.0 459.8 L282.0 458.6 L284.0 457.4 L286.0 456.4 L288.0 455.7 L290.0 455.6 L292.0 455.8 L294.0 456.4 L296.0 457.3 L298.0 458.7 L300.0 460.5 L302.0 462.6 L304.0 464.9 L306.0 467.6 L308.0 470.6 L310.0 473.8 L312.0 477.2 L314.0 480.8 L316.0 484.4 L318.0 488.0 L320.0 491.1 L322.0 493.8 L324.0 496.1 L326.0 498.2" fill="none" stroke="#dcdcdc" stroke-width="0.85"/>
<path d="M286.1 448.1 L288.1 447.4 L290.1 446.7 L292.1 446.1 L294.1 445.5 L296.1 445.1 L298.1 444.9 L300.1 444.8 L302.1 444.8 L304.1 445.1 L306.1 445.7 L308.1 446.7 L310.1 448.0 L312.1 449.7 L314.1 451.8 L316.1 454.2 L318.1 456.9 L320.1 459.7 L322.1 462.6 L324.1 465.4 L325.8 467.8" fill="none" stroke="#dcdcdc" stroke-width="0.85"/>
<path d="M266.0 481.5 L268.0 481.8 L270.0 482.1 L272.0 482.4 L274.0 482.6 L276.0 482.8 L278.0 482.8 L280.0 482.7 L282.0 482.5 L284.0 482.3 L286.0 482.0 L288.0 481.6 L290.0 481.1 L292.0 480.6 L294.0 480.0 L296.0 479.4 L298.0 479.1 L300.0 479.1 L302.0 479.5 L304.0 480.2 L306.0 481.3 L308.0 482.9 L310.0 485.0 L312.0 487.6 L314.0 490.5 L316.0 493.7 L318.0 497.2 L320.0 500.9 L322.0 504.6 L324.0 508.1 L326.0 511.6" fill="none" stroke="#dcdcdc" stroke-width="0.85"/>
<path d="M266.0 484.9 L268.0 485.1 L270.0 485.4 L272.0 485.6 L274.0 485.8 L276.0 486.1 L278.0 486.2 L280.0 486.2 L282.0 486.1 L284.0 485.9 L286.0 485.7 L288.0 485.4 L290.0 485.2 L292.0 484.9 L294.0 484.6 L296.0 484.3 L298.0 484.0 L300.0 483.9 L302.0 484.1 L304.0 484.8 L306.0 486.0 L308.0 487.7 L310.0 489.8 L312.0 492.5 L314.0 495.9 L316.0 499.5 L318.0 503.3 L320.0 506.9 L322.0 510.5 L324.0 514.0 L324.5 514.9" fill="none" stroke="#dcdcdc" stroke-width="0.85"/>
<path d="M404.0 461.4 L406.0 460.4 L408.0 459.4 L410.0 458.5 L412.0 457.5 L414.0 456.6 L416.0 455.9 L418.0 455.1 L420.0 454.5 L422.0 453.9 L424.0 453.5 L426.0 453.2 L428.0 453.1 L430.0 453.2 L432.0 453.4 L434.0 454.0 L436.0 455.0 L438.0 456.4 L440.0 458.1 L442.0 460.2 L444.0 462.7 L446.0 465.6 L448.0 468.8 L450.0 472.4 L452.0 476.2 L454.0 480.3 L456.0 484.4 L458.0 488.3 L460.0 491.8 L462.0 495.0 L464.0 498.2" fill="none" stroke="#dcdcdc" stroke-width="0.85"/>
<path d="M404.0 469.8 L406.0 469.1 L408.0 468.3 L410.0 467.6 L412.0 466.8 L414.0 466.1 L416.0 465.4 L418.0 464.7 L420.0 464.1 L422.0 463.5 L424.0 462.9 L426.0 462.4 L428.0 461.8 L430.0 461.4 L432.0 461.0 L434.0 460.7 L436.0 460.5 L438.0 460.7 L440.0 461.3 L442.0 462.4 L444.0 463.9 L446.0 465.9 L448.0 468.3 L450.0 471.2 L452.0 474.6 L454.0 478.2 L456.0 482.0 L458.0 485.9 L460.0 489.9 L462.0 494.0 L464.0 498.2" fill="none" stroke="#dcdcdc" stroke-width="0.85"/>
<path d="M404.0 484.9 L406.0 485.5 L408.0 486.2 L410.0 486.9 L412.0 487.5 L414.0 488.1 L416.0 488.7 L418.0 489.3 L420.0 489.9 L422.0 490.4 L424.0 490.8 L426.0 491.0 L428.0 491.1 L430.0 490.9 L432.0 490.6 L434.0 490.3 L436.0 489.8 L438.0 489.0 L440.0 488.0 L442.0 486.8 L444.0 485.5 L446.0 484.1 L448.0 482.6 L450.0 481.1 L452.0 479.6 L454.0 478.1 L456.0 476.6 L458.0 475.2 L460.0 474.0 L462.0 472.7 L464.0 471.5" fill="none" stroke="#dcdcdc" stroke-width="0.85"/>
<path d="M404.0 498.2 L406.0 498.7 L408.0 499.2 L410.0 499.7 L412.0 500.2 L414.0 500.7 L416.0 501.3 L418.0 501.8 L420.0 502.3 L422.0 502.9 L424.0 503.4 L426.0 503.9 L428.0 504.2 L430.0 504.2 L432.0 503.9 L434.0 503.5 L436.0 502.9 L438.0 502.3 L440.0 501.5 L442.0 500.5 L444.0 499.4 L446.0 498.1 L448.0 496.7 L450.0 495.2 L452.0 493.5 L454.0 491.7 L456.0 489.8 L458.0 487.9 L460.0 486.2 L462.0 484.7 L464.0 483.2" fill="none" stroke="#dcdcdc" stroke-width="0.85"/>
<line x1="327.50" y1="429.30" x2="327.50" y2="520.50" stroke="#bdbdbd" stroke-width="0.9" stroke-dasharray="3 2.5"/>
<line x1="365.90" y1="429.30" x2="365.90" y2="520.50" stroke="#bdbdbd" stroke-width="0.9" stroke-dasharray="3 2.5"/>
<path d="M266.00 475.40 L267.00 475.20 L268.00 474.99 L269.00 474.79 L270.00 474.59 L271.00 474.38 L272.00 474.16 L273.00 473.93 L274.00 473.69 L275.00 473.45 L276.00 473.20 L277.00 472.95 L278.00 472.71 L279.00 472.48 L280.00 472.27 L281.00 472.06 L282.00 471.85 L283.00 471.65 L284.00 471.46 L285.00 471.27 L286.00 471.10 L287.00 470.95 L288.00 470.80 L289.00 470.66 L290.00 470.54 L291.00 470.44 L292.00 470.39 L293.00 470.37 L294.00 470.39 L295.00 470.42 L296.00 470.47 L297.00 470.55 L298.00 470.70 L299.00 470.91 L300.00 471.18 L301.00 471.50 L302.00 471.85 L303.00 472.26 L304.00 472.73 L305.00 473.26 L306.00 473.82 L307.00 474.40 L308.00 475.00 L309.00 475.64 L310.00 476.29 L311.00 476.95 L312.00 477.62 L313.00 478.29 L314.00 478.94 L315.00 479.60 L316.00 480.24 L317.00 480.88 L318.00 481.50 L319.00 482.08 L320.00 482.63 L321.00 483.13 L322.00 483.57 L323.00 483.96 L324.00 484.34 L325.00 484.69 L326.00 485.03 L327.00 485.33 L328.00 485.58 L329.00 485.78 L330.00 485.94 L331.00 486.09 L332.00 486.21 L333.00 486.32 L334.00 486.37 L335.00 486.38 L336.00 486.35 L337.00 486.30 L338.00 486.23 L339.00 486.14 L340.00 486.01 L341.00 485.83 L342.00 485.60 L343.00 485.33 L344.00 485.05 L345.00 484.75 L346.00 484.40 L347.00 484.00 L348.00 483.53 L349.00 483.01 L350.00 482.46 L351.00 481.88 L352.00 481.27 L353.00 480.58 L354.00 479.80 L355.00 478.96 L356.00 478.07 L357.00 477.16 L358.00 476.22 L359.00 475.22 L360.00 474.16 L361.00 473.03 L362.00 471.86 L363.00 470.68 L364.00 469.53 L365.00 468.42 L366.00 467.36 L367.00 466.37 L368.00 465.49 L369.00 464.77 L370.00 464.24 L371.00 463.85 L372.00 463.57 L373.00 463.39 L374.00 463.32 L375.00 463.34 L376.00 463.42 L377.00 463.57 L378.00 463.77 L379.00 464.03 L380.00 464.36 L381.00 464.72 L382.00 465.12 L383.00 465.58 L384.00 466.11 L385.00 466.70 L386.00 467.33 L387.00 467.97 L388.00 468.62 L389.00 469.28 L390.00 469.93 L391.00 470.59 L392.00 471.24 L393.00 471.89 L394.00 472.54 L395.00 473.18 L396.00 473.79 L397.00 474.38 L398.00 474.94 L399.00 475.49 L400.00 476.03 L401.00 476.54 L402.00 477.00 L403.00 477.39 L404.00 477.72 L405.00 478.01 L406.00 478.27 L407.00 478.52 L408.00 478.74 L409.00 478.90 L410.00 479.02 L411.00 479.10 L412.00 479.15 L413.00 479.19 L414.00 479.22 L415.00 479.23 L416.00 479.21 L417.00 479.17 L418.00 479.12 L419.00 479.05 L420.00 478.97 L421.00 478.87 L422.00 478.77 L423.00 478.66 L424.00 478.55 L425.00 478.43 L426.00 478.32 L427.00 478.20 L428.00 478.08 L429.00 477.97 L430.00 477.85 L431.00 477.74 L432.00 477.65 L433.00 477.57 L434.00 477.53 L435.00 477.51 L436.00 477.50 L437.00 477.51 L438.00 477.53 L439.00 477.59 L440.00 477.68 L441.00 477.83 L442.00 478.00 L443.00 478.18 L444.00 478.39 L445.00 478.62 L446.00 478.90 L447.00 479.24 L448.00 479.62 L449.00 480.02 L450.00 480.43 L451.00 480.83 L452.00 481.22 L453.00 481.59 L454.00 481.95 L455.00 482.29 L456.00 482.64 L457.00 482.97 L458.00 483.28 L459.00 483.56 L460.00 483.81 L461.00 484.04 L462.00 484.26 L463.00 484.48 L464.00 484.70" fill="none" stroke="#000" stroke-width="1.55" stroke-linejoin="round" stroke-linecap="round"/>
</g>
<rect x="266.50" y="429.30" width="198.00" height="91.20" fill="none" stroke="#a0a0a0" stroke-width="1.00"/>
<line x1="266.50" y1="436.30" x2="268.50" y2="436.30" stroke="#888" stroke-width="0.8"/>
<line x1="462.50" y1="436.30" x2="464.50" y2="436.30" stroke="#888" stroke-width="0.8"/>
<text x="264.20" y="438.70" font-size="6.70" fill="#444" text-anchor="end">10</text>
<line x1="266.50" y1="457.00" x2="268.50" y2="457.00" stroke="#888" stroke-width="0.8"/>
<line x1="462.50" y1="457.00" x2="464.50" y2="457.00" stroke="#888" stroke-width="0.8"/>
<text x="264.20" y="459.40" font-size="6.70" fill="#444" text-anchor="end">5</text>
<line x1="266.50" y1="477.70" x2="268.50" y2="477.70" stroke="#888" stroke-width="0.8"/>
<line x1="462.50" y1="477.70" x2="464.50" y2="477.70" stroke="#888" stroke-width="0.8"/>
<text x="264.20" y="480.10" font-size="6.70" fill="#444" text-anchor="end">0</text>
<line x1="266.50" y1="498.10" x2="268.50" y2="498.10" stroke="#888" stroke-width="0.8"/>
<line x1="462.50" y1="498.10" x2="464.50" y2="498.10" stroke="#888" stroke-width="0.8"/>
<text x="264.20" y="500.50" font-size="6.70" fill="#444" text-anchor="end">-5</text>
<line x1="266.50" y1="518.50" x2="268.50" y2="518.50" stroke="#888" stroke-width="0.8"/>
<line x1="462.50" y1="518.50" x2="464.50" y2="518.50" stroke="#888" stroke-width="0.8"/>
<text x="264.20" y="520.90" font-size="6.70" fill="#444" text-anchor="end">-10</text>
<line x1="327.50" y1="518.50" x2="327.50" y2="520.50" stroke="#888" stroke-width="0.8"/>
<line x1="327.50" y1="429.30" x2="327.50" y2="431.30" stroke="#888" stroke-width="0.8"/>
<line x1="365.90" y1="518.50" x2="365.90" y2="520.50" stroke="#888" stroke-width="0.8"/>
<line x1="365.90" y1="429.30" x2="365.90" y2="431.30" stroke="#888" stroke-width="0.8"/>
<text x="327.80" y="530.20" font-size="6.70" fill="#444" text-anchor="middle">T<tspan font-size="4.4" dy="2.3">r</tspan><tspan dy="-2.3"> - 5s</tspan></text>
<text x="366.20" y="530.20" font-size="6.70" fill="#444" text-anchor="middle">T<tspan font-size="4.4" dy="2.3">r</tspan><tspan dy="-2.3"> = 0</tspan></text>
<text x="365.50" y="541.40" font-size="7.10" fill="#444" text-anchor="middle">Relative time</text>
<text transform="translate(251.50 474.90) rotate(-90)" font-size="7.10" fill="#444" text-anchor="middle">Normalized amplitude</text>
<text transform="translate(335.80 431.80) rotate(-90)" font-size="6.75" fill="#444" text-anchor="end">Button Press</text>
<text transform="translate(374.20 431.80) rotate(-90)" font-size="6.75" fill="#444" text-anchor="end">Screenshot start</text>
<text x="365.50" y="424.10" font-size="7.15" font-weight="bold" class="t" fill="#000" text-anchor="middle">Frontoparietal<tspan font-size="5.2" dy="2.9">R</tspan></text>
</svg></body></html>
